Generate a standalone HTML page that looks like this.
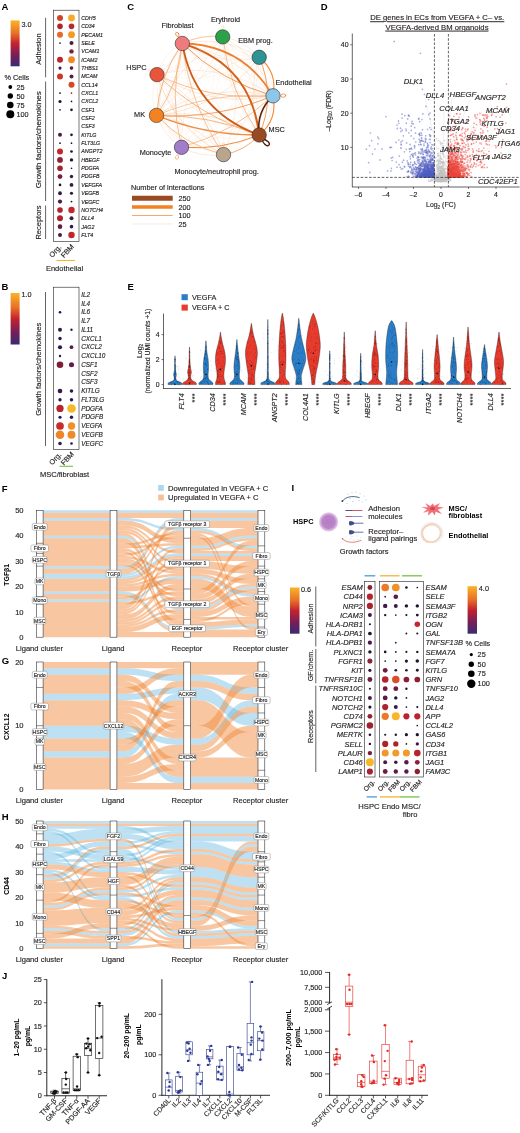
<!DOCTYPE html>
<html lang="en">
<head>
<meta charset="utf-8">
<title>Figure: VEGFA + C bone marrow organoid interactions</title>
<style>
html,body{margin:0;padding:0;background:#ffffff;}
body{width:520px;height:1133px;overflow:hidden;}
svg{display:block;font-family:"Liberation Sans",Arial,Helvetica,sans-serif;}
svg text{white-space:pre;stroke:#231f20;stroke-width:0.16px;stroke-opacity:0.9;}
svg text[font-weight="bold"]{stroke:none;}
</style>
</head>
<body>
<svg width="520" height="1133" viewBox="0 0 520 1133">
<defs>
<linearGradient id="cbar" x1="0" y1="1" x2="0" y2="0">
<stop offset="0.0" stop-color="rgb(58,42,112)"/><stop offset="0.25" stop-color="rgb(120,30,88)"/><stop offset="0.5" stop-color="rgb(196,34,46)"/><stop offset="0.72" stop-color="rgb(232,112,40)"/><stop offset="1.0" stop-color="rgb(249,180,38)"/>
</linearGradient>
</defs>
<rect x="0" y="0" width="520" height="1133" fill="#ffffff"/>
<g id="panelA">
<text x="1.50" y="10.20" font-size="9.5" font-weight="bold" stroke="none" fill="#000">A</text>
<rect x="10.60" y="20.40" width="9.00" height="45.90" fill="url(#cbar)"/>
<text x="21.50" y="27.30" font-size="7.3" fill="#231f20">3.0</text>
<text x="4.50" y="79.50" font-size="7.3" fill="#231f20">% Cells</text>
<circle cx="10.30" cy="87.00" r="1.90" fill="#000"/>
<text x="16.50" y="89.60" font-size="7.3" fill="#231f20">25</text>
<circle cx="10.30" cy="96.00" r="2.70" fill="#000"/>
<text x="16.50" y="98.60" font-size="7.3" fill="#231f20">50</text>
<circle cx="10.30" cy="105.00" r="3.30" fill="#000"/>
<text x="16.50" y="107.60" font-size="7.3" fill="#231f20">75</text>
<circle cx="10.30" cy="114.30" r="4.00" fill="#000"/>
<text x="16.50" y="116.90" font-size="7.3" fill="#231f20">100</text>
<rect x="53.60" y="10.20" width="25.40" height="231.30" fill="#fff" stroke="#231f20" stroke-width="0.6"/>
<circle cx="60.00" cy="18.00" r="3.00" fill="#d24129"/>
<circle cx="71.50" cy="18.00" r="3.40" fill="#f6ab28"/>
<text x="81.20" y="19.90" font-size="5.3" font-style="italic" fill="#231f20">CDH5</text>
<circle cx="60.00" cy="26.35" r="2.80" fill="#b2242d"/>
<circle cx="71.50" cy="26.35" r="2.80" fill="#bb252d"/>
<text x="81.20" y="28.25" font-size="5.3" font-style="italic" fill="#231f20">CD34</text>
<circle cx="60.00" cy="34.69" r="3.00" fill="#e56928"/>
<circle cx="71.50" cy="34.69" r="3.40" fill="#f29b28"/>
<text x="81.20" y="36.59" font-size="5.3" font-style="italic" fill="#231f20">PECAM1</text>
<circle cx="60.00" cy="43.04" r="0.85" fill="#1a1530"/>
<circle cx="71.50" cy="43.04" r="2.00" fill="#4d1948"/>
<text x="81.20" y="44.94" font-size="5.3" font-style="italic" fill="#231f20">SELE</text>
<circle cx="71.50" cy="51.38" r="2.20" fill="#7c1e3a"/>
<text x="81.20" y="53.28" font-size="5.3" font-style="italic" fill="#231f20">VCAM1</text>
<circle cx="60.00" cy="59.73" r="3.00" fill="#c1262c"/>
<circle cx="71.50" cy="59.73" r="3.40" fill="#ee8b28"/>
<text x="81.20" y="61.63" font-size="5.3" font-style="italic" fill="#231f20">ICAM2</text>
<circle cx="60.00" cy="68.08" r="1.56" fill="#391848"/>
<circle cx="71.50" cy="68.08" r="1.80" fill="#5c1a48"/>
<text x="81.20" y="69.98" font-size="5.3" font-style="italic" fill="#231f20">THBS1</text>
<circle cx="60.00" cy="76.42" r="3.00" fill="#cd372a"/>
<circle cx="71.50" cy="76.42" r="2.00" fill="#5c1a48"/>
<text x="81.20" y="78.32" font-size="5.3" font-style="italic" fill="#231f20">MCAM</text>
<circle cx="71.50" cy="84.77" r="3.00" fill="#d64828"/>
<text x="81.20" y="86.67" font-size="5.3" font-style="italic" fill="#231f20">CCL14</text>
<circle cx="60.00" cy="93.11" r="0.96" fill="#1a1530"/>
<circle cx="71.50" cy="93.11" r="0.85" fill="#8a2034"/>
<text x="81.20" y="95.01" font-size="5.3" font-style="italic" fill="#231f20">CXCL1</text>
<circle cx="60.00" cy="101.46" r="1.56" fill="#1a1530"/>
<circle cx="71.50" cy="101.46" r="0.85" fill="#1a1530"/>
<text x="81.20" y="103.36" font-size="5.3" font-style="italic" fill="#231f20">CXCL2</text>
<circle cx="60.00" cy="109.81" r="0.85" fill="#1a1530"/>
<circle cx="71.50" cy="109.81" r="1.32" fill="#1a1530"/>
<text x="81.20" y="111.71" font-size="5.3" font-style="italic" fill="#231f20">CSF1</text>
<text x="81.20" y="120.05" font-size="5.3" font-style="italic" fill="#231f20">CSF2</text>
<text x="81.20" y="128.40" font-size="5.3" font-style="italic" fill="#231f20">CSF3</text>
<circle cx="60.00" cy="134.84" r="2.00" fill="#521a48"/>
<circle cx="71.50" cy="134.84" r="1.32" fill="#1a1530"/>
<text x="81.20" y="136.74" font-size="5.3" font-style="italic" fill="#231f20">KITLG</text>
<circle cx="60.00" cy="143.19" r="0.85" fill="#1a1530"/>
<circle cx="71.50" cy="143.19" r="0.85" fill="#1a1530"/>
<text x="81.20" y="145.09" font-size="5.3" font-style="italic" fill="#231f20">FLT3LG</text>
<circle cx="60.00" cy="151.54" r="3.00" fill="#c4262c"/>
<circle cx="71.50" cy="151.54" r="1.32" fill="#1a1530"/>
<text x="81.20" y="153.44" font-size="5.3" font-style="italic" fill="#231f20">ANGPT2</text>
<circle cx="60.00" cy="159.88" r="2.90" fill="#922132"/>
<circle cx="71.50" cy="159.88" r="1.68" fill="#1a1530"/>
<text x="81.20" y="161.78" font-size="5.3" font-style="italic" fill="#231f20">HBEGF</text>
<circle cx="60.00" cy="168.23" r="2.80" fill="#a6222e"/>
<circle cx="71.50" cy="168.23" r="0.85" fill="#1a1530"/>
<text x="81.20" y="170.13" font-size="5.3" font-style="italic" fill="#231f20">PDGFA</text>
<circle cx="60.00" cy="176.57" r="2.40" fill="#7c1e3a"/>
<circle cx="71.50" cy="176.57" r="1.70" fill="#391848"/>
<text x="81.20" y="178.47" font-size="5.3" font-style="italic" fill="#231f20">PDGFB</text>
<circle cx="60.00" cy="184.92" r="1.32" fill="#1a1530"/>
<circle cx="71.50" cy="184.92" r="1.90" fill="#391848"/>
<text x="81.20" y="186.82" font-size="5.3" font-style="italic" fill="#231f20">VEFGFA</text>
<circle cx="60.00" cy="193.27" r="1.90" fill="#391848"/>
<circle cx="71.50" cy="193.27" r="1.56" fill="#25163a"/>
<text x="81.20" y="195.17" font-size="5.3" font-style="italic" fill="#231f20">VEGFB</text>
<circle cx="60.00" cy="201.61" r="2.10" fill="#521a48"/>
<circle cx="71.50" cy="201.61" r="0.96" fill="#1a1530"/>
<text x="81.20" y="203.51" font-size="5.3" font-style="italic" fill="#231f20">VEGFC</text>
<circle cx="60.00" cy="209.96" r="2.80" fill="#b2242d"/>
<circle cx="71.50" cy="209.96" r="3.20" fill="#c4262c"/>
<text x="81.20" y="211.86" font-size="5.3" font-style="italic" fill="#231f20">NOTCH4</text>
<circle cx="60.00" cy="218.30" r="3.00" fill="#af232d"/>
<circle cx="71.50" cy="218.30" r="2.00" fill="#431948"/>
<text x="81.20" y="220.20" font-size="5.3" font-style="italic" fill="#231f20">DLL4</text>
<circle cx="60.00" cy="226.65" r="2.30" fill="#651b44"/>
<circle cx="71.50" cy="226.65" r="1.80" fill="#341848"/>
<text x="81.20" y="228.55" font-size="5.3" font-style="italic" fill="#231f20">JAG2</text>
<circle cx="60.00" cy="235.00" r="2.00" fill="#4d1948"/>
<circle cx="71.50" cy="235.00" r="3.20" fill="#c1262c"/>
<text x="81.20" y="236.90" font-size="5.3" font-style="italic" fill="#231f20">FLT4</text>
<line x1="45.60" y1="17.80" x2="45.60" y2="77.30" stroke="#231f20" stroke-width="0.7"/>
<line x1="45.60" y1="81.50" x2="45.60" y2="201.00" stroke="#231f20" stroke-width="0.7"/>
<line x1="45.60" y1="205.50" x2="45.60" y2="239.00" stroke="#231f20" stroke-width="0.7"/>
<text x="41.30" y="49.00" font-size="7.6" text-anchor="middle" fill="#231f20" transform="rotate(-90 41.30 49.00)">Adhesion</text>
<text x="41.30" y="139.80" font-size="8.0" text-anchor="middle" fill="#231f20" transform="rotate(-90 41.30 139.80)">Growth factors/chemokines</text>
<text x="41.30" y="222.50" font-size="7.5" text-anchor="middle" fill="#231f20" transform="rotate(-90 41.30 222.50)">Receptors</text>
<text x="62.00" y="247.50" font-size="7.3" text-anchor="end" fill="#231f20" transform="rotate(-47 62.00 247.50)">Org.</text>
<text x="74.50" y="247.00" font-size="7.3" text-anchor="end" fill="#231f20" transform="rotate(-47 74.50 247.00)">FBM</text>
<line x1="56.50" y1="260.50" x2="75.00" y2="260.50" stroke="#f5b335" stroke-width="1.1"/>
<text x="64.50" y="270.60" font-size="7.5" text-anchor="middle" fill="#231f20">Endothelial</text>
</g>
<g id="panelB">
<text x="1.50" y="289.70" font-size="9.5" font-weight="bold" stroke="none" fill="#000">B</text>
<rect x="10.60" y="293.00" width="9.00" height="51.50" fill="url(#cbar)"/>
<text x="21.50" y="297.00" font-size="7.3" fill="#231f20">1.0</text>
<rect x="53.60" y="287.20" width="25.40" height="162.20" fill="#fff" stroke="#231f20" stroke-width="0.6"/>
<text x="81.20" y="296.90" font-size="6.4" font-style="italic" fill="#231f20">IL2</text>
<text x="81.20" y="305.65" font-size="6.4" font-style="italic" fill="#231f20">IL4</text>
<circle cx="60.00" cy="312.21" r="1.32" fill="#241a52"/>
<text x="81.20" y="314.41" font-size="6.4" font-style="italic" fill="#231f20">IL6</text>
<text x="81.20" y="323.16" font-size="6.4" font-style="italic" fill="#231f20">IL7</text>
<circle cx="60.00" cy="329.71" r="1.98" fill="#301844"/>
<circle cx="71.50" cy="329.71" r="1.19" fill="#241a52"/>
<text x="81.20" y="331.91" font-size="6.4" font-style="italic" fill="#231f20">IL11</text>
<circle cx="60.00" cy="338.46" r="1.72" fill="#241a52"/>
<text x="81.20" y="340.66" font-size="6.4" font-style="italic" fill="#231f20">CXCL1</text>
<circle cx="60.00" cy="347.22" r="2.09" fill="#341848"/>
<circle cx="71.50" cy="347.22" r="1.87" fill="#5c1a48"/>
<text x="81.20" y="349.42" font-size="6.4" font-style="italic" fill="#231f20">CXCL2</text>
<circle cx="60.00" cy="355.97" r="1.19" fill="#241a52"/>
<text x="81.20" y="358.17" font-size="6.4" font-style="italic" fill="#231f20">CXCL10</text>
<circle cx="60.00" cy="364.72" r="3.30" fill="#7c1e3a"/>
<circle cx="71.50" cy="364.72" r="2.53" fill="#651b44"/>
<text x="81.20" y="366.92" font-size="6.4" font-style="italic" fill="#231f20">CSF1</text>
<text x="81.20" y="375.68" font-size="6.4" font-style="italic" fill="#231f20">CSF2</text>
<text x="81.20" y="384.43" font-size="6.4" font-style="italic" fill="#231f20">CSF3</text>
<circle cx="60.00" cy="390.98" r="2.31" fill="#391848"/>
<circle cx="71.50" cy="390.98" r="1.76" fill="#241a52"/>
<text x="81.20" y="393.18" font-size="6.4" font-style="italic" fill="#231f20">KITLG</text>
<circle cx="60.00" cy="399.74" r="1.65" fill="#241a52"/>
<circle cx="71.50" cy="399.74" r="1.72" fill="#241a52"/>
<text x="81.20" y="401.94" font-size="6.4" font-style="italic" fill="#231f20">FLT3LG</text>
<circle cx="60.00" cy="408.49" r="3.63" fill="#b8242d"/>
<circle cx="71.50" cy="408.49" r="4.29" fill="#f9b628"/>
<text x="81.20" y="410.69" font-size="6.4" font-style="italic" fill="#231f20">PDGFA</text>
<circle cx="60.00" cy="417.24" r="1.58" fill="#241a52"/>
<circle cx="71.50" cy="417.24" r="1.72" fill="#241a52"/>
<text x="81.20" y="419.44" font-size="6.4" font-style="italic" fill="#231f20">PDGFB</text>
<circle cx="60.00" cy="426.00" r="3.85" fill="#c82d2b"/>
<circle cx="71.50" cy="426.00" r="3.63" fill="#f09128"/>
<text x="81.20" y="428.19" font-size="6.4" font-style="italic" fill="#231f20">VEGFA</text>
<circle cx="60.00" cy="434.75" r="4.29" fill="#ed8628"/>
<circle cx="71.50" cy="434.75" r="3.96" fill="#ee8b28"/>
<text x="81.20" y="436.95" font-size="6.4" font-style="italic" fill="#231f20">VEGFB</text>
<circle cx="60.00" cy="443.50" r="1.76" fill="#241a52"/>
<circle cx="71.50" cy="443.50" r="1.32" fill="#241a52"/>
<text x="81.20" y="445.70" font-size="6.4" font-style="italic" fill="#231f20">VEGFC</text>
<line x1="45.50" y1="292.00" x2="45.50" y2="446.00" stroke="#231f20" stroke-width="0.7"/>
<text x="41.30" y="369.30" font-size="7.7" text-anchor="middle" fill="#231f20" transform="rotate(-90 41.30 369.30)">Growth factors/chemokines</text>
<text x="62.00" y="455.00" font-size="7.3" text-anchor="end" fill="#231f20" transform="rotate(-47 62.00 455.00)">Org.</text>
<text x="74.50" y="454.50" font-size="7.3" text-anchor="end" fill="#231f20" transform="rotate(-47 74.50 454.50)">FBM</text>
<line x1="59.50" y1="466.30" x2="73.00" y2="466.30" stroke="#7ac143" stroke-width="1.1"/>
<text x="64.60" y="477.00" font-size="7.5" text-anchor="middle" fill="#231f20">MSC/fibroblast</text>
</g>
<g id="panelC">
<text x="127.30" y="10.20" font-size="9.5" font-weight="bold" stroke="none" fill="#000">C</text>
<g fill="none" stroke-linecap="round">
<path d="M182.3 43.5Q203.7 47.4 222.7 36.9" stroke="#fdeee3" stroke-width="0.3"/>
<path d="M182.3 43.5Q218.0 65.7 259.2 57.3" stroke="#f6c096" stroke-width="0.25"/>
<path d="M182.3 43.5Q219.0 84.7 273.0 95.8" stroke="#fce6d5" stroke-width="0.5"/>
<path d="M182.3 43.5Q201.1 105.8 259.2 135.0" stroke="#fce6d5" stroke-width="0.3"/>
<path d="M182.3 43.5Q184.6 105.9 223.5 154.6" stroke="#fce6d5" stroke-width="0.4"/>
<path d="M182.3 43.5Q163.8 95.3 181.5 147.3" stroke="#fdeee3" stroke-width="0.5"/>
<path d="M182.3 43.5Q157.6 75.2 156.5 115.4" stroke="#fce6d5" stroke-width="0.5"/>
<path d="M182.3 43.5Q162.9 53.6 157.0 74.6" stroke="#fce6d5" stroke-width="0.5"/>
<path d="M222.7 36.9Q201.2 32.3 182.3 43.5" stroke="#fce6d5" stroke-width="0.4"/>
<path d="M222.7 36.9Q236.5 55.1 259.2 57.3" stroke="#f6c096" stroke-width="0.25"/>
<path d="M222.7 36.9Q235.4 77.0 273.0 95.8" stroke="#fdeee3" stroke-width="0.35"/>
<path d="M222.7 36.9Q224.4 92.1 259.2 135.0" stroke="#f6c096" stroke-width="0.25"/>
<path d="M222.7 36.9Q202.1 95.9 223.5 154.6" stroke="#fce6d5" stroke-width="0.3"/>
<path d="M222.7 36.9Q180.6 84.1 181.5 147.3" stroke="#f8cfae" stroke-width="0.3"/>
<path d="M222.7 36.9Q176.6 65.2 156.5 115.4" stroke="#f6c096" stroke-width="0.25"/>
<path d="M222.7 36.9Q183.7 45.0 157.0 74.6" stroke="#fdeee3" stroke-width="0.3"/>
<path d="M259.2 57.3Q223.5 35.0 182.3 43.5" stroke="#f8cfae" stroke-width="0.4"/>
<path d="M259.2 57.3Q244.8 40.2 222.7 36.9" stroke="#f8cfae" stroke-width="0.4"/>
<path d="M259.2 57.3Q259.2 79.0 273.0 95.8" stroke="#fad9bf" stroke-width="0.3"/>
<path d="M259.2 57.3Q246.4 96.2 259.2 135.0" stroke="#f6c096" stroke-width="0.35"/>
<path d="M259.2 57.3Q222.9 99.2 223.5 154.6" stroke="#fdeee3" stroke-width="0.35"/>
<path d="M259.2 57.3Q204.4 88.5 181.5 147.3" stroke="#fce6d5" stroke-width="0.25"/>
<path d="M259.2 57.3Q196.8 66.8 156.5 115.4" stroke="#f8cfae" stroke-width="0.3"/>
<path d="M259.2 57.3Q205.2 48.7 157.0 74.6" stroke="#fdeee3" stroke-width="0.4"/>
<path d="M273.0 95.8Q236.1 54.9 182.3 43.5" stroke="#f6c096" stroke-width="0.25"/>
<path d="M273.0 95.8Q259.3 56.6 222.7 36.9" stroke="#f8cfae" stroke-width="0.35"/>
<path d="M273.0 95.8Q273.9 73.8 259.2 57.3" stroke="#fdeee3" stroke-width="0.5"/>
<path d="M273.0 95.8Q258.5 112.7 259.2 135.0" stroke="#fce6d5" stroke-width="0.4"/>
<path d="M273.0 95.8Q235.9 114.8 223.5 154.6" stroke="#fdeee3" stroke-width="0.35"/>
<path d="M273.0 95.8Q216.9 103.1 181.5 147.3" stroke="#fce6d5" stroke-width="0.25"/>
<path d="M273.0 95.8Q210.8 81.8 156.5 115.4" stroke="#f6c096" stroke-width="0.35"/>
<path d="M273.0 95.8Q219.7 59.7 157.0 74.6" stroke="#f8cfae" stroke-width="0.4"/>
<path d="M259.2 135.0Q239.3 73.6 182.3 43.5" stroke="#fce6d5" stroke-width="0.35"/>
<path d="M259.2 135.0Q262.2 78.0 222.7 36.9" stroke="#fad9bf" stroke-width="0.35"/>
<path d="M259.2 135.0Q274.5 96.2 259.2 57.3" stroke="#fce6d5" stroke-width="0.4"/>
<path d="M259.2 135.0Q272.9 117.8 273.0 95.8" stroke="#fad9bf" stroke-width="0.35"/>
<path d="M259.2 135.0Q237.3 137.5 223.5 154.6" stroke="#fdeee3" stroke-width="0.4"/>
<path d="M259.2 135.0Q217.7 124.4 181.5 147.3" stroke="#fce6d5" stroke-width="0.4"/>
<path d="M259.2 135.0Q211.2 107.7 156.5 115.4" stroke="#f6c096" stroke-width="0.4"/>
<path d="M259.2 135.0Q218.8 86.7 157.0 74.6" stroke="#fdeee3" stroke-width="0.3"/>
<path d="M223.5 154.6Q226.4 90.3 182.3 43.5" stroke="#fdeee3" stroke-width="0.35"/>
<path d="M223.5 154.6Q248.9 95.6 222.7 36.9" stroke="#fad9bf" stroke-width="0.4"/>
<path d="M223.5 154.6Q257.8 112.0 259.2 57.3" stroke="#fad9bf" stroke-width="0.3"/>
<path d="M223.5 154.6Q258.5 133.8 273.0 95.8" stroke="#fce6d5" stroke-width="0.3"/>
<path d="M223.5 154.6Q245.1 151.6 259.2 135.0" stroke="#fad9bf" stroke-width="0.5"/>
<path d="M223.5 154.6Q203.8 143.6 181.5 147.3" stroke="#fad9bf" stroke-width="0.25"/>
<path d="M223.5 154.6Q197.3 122.6 156.5 115.4" stroke="#f6c096" stroke-width="0.35"/>
<path d="M223.5 154.6Q205.8 101.7 157.0 74.6" stroke="#f6c096" stroke-width="0.3"/>
<path d="M181.5 147.3Q204.4 95.6 182.3 43.5" stroke="#fdeee3" stroke-width="0.25"/>
<path d="M181.5 147.3Q225.7 100.9 222.7 36.9" stroke="#fdeee3" stroke-width="0.5"/>
<path d="M181.5 147.3Q236.9 116.6 259.2 57.3" stroke="#fce6d5" stroke-width="0.4"/>
<path d="M181.5 147.3Q237.0 138.8 273.0 95.8" stroke="#fce6d5" stroke-width="0.4"/>
<path d="M181.5 147.3Q222.5 154.5 259.2 135.0" stroke="#fdeee3" stroke-width="0.3"/>
<path d="M181.5 147.3Q201.3 158.1 223.5 154.6" stroke="#f6c096" stroke-width="0.35"/>
<path d="M181.5 147.3Q174.2 127.3 156.5 115.4" stroke="#f6c096" stroke-width="0.25"/>
<path d="M181.5 147.3Q181.5 106.8 157.0 74.6" stroke="#f8cfae" stroke-width="0.25"/>
<path d="M156.5 115.4Q183.6 84.5 182.3 43.5" stroke="#fad9bf" stroke-width="0.25"/>
<path d="M156.5 115.4Q205.1 89.2 222.7 36.9" stroke="#f8cfae" stroke-width="0.3"/>
<path d="M156.5 115.4Q220.5 108.7 259.2 57.3" stroke="#f8cfae" stroke-width="0.5"/>
<path d="M156.5 115.4Q218.4 127.6 273.0 95.8" stroke="#fdeee3" stroke-width="0.25"/>
<path d="M156.5 115.4Q203.5 147.8 259.2 135.0" stroke="#fdeee3" stroke-width="0.4"/>
<path d="M156.5 115.4Q182.6 147.7 223.5 154.6" stroke="#fad9bf" stroke-width="0.25"/>
<path d="M156.5 115.4Q163.7 135.5 181.5 147.3" stroke="#f8cfae" stroke-width="0.35"/>
<path d="M156.5 115.4Q164.4 95.1 157.0 74.6" stroke="#f6c096" stroke-width="0.3"/>
<path d="M157.0 74.6Q174.7 63.1 182.3 43.5" stroke="#f8cfae" stroke-width="0.5"/>
<path d="M157.0 74.6Q196.2 66.8 222.7 36.9" stroke="#fce6d5" stroke-width="0.5"/>
<path d="M157.0 74.6Q211.7 87.0 259.2 57.3" stroke="#fce6d5" stroke-width="0.35"/>
<path d="M157.0 74.6Q210.7 108.6 273.0 95.8" stroke="#f6c096" stroke-width="0.35"/>
<path d="M157.0 74.6Q197.1 123.4 259.2 135.0" stroke="#f8cfae" stroke-width="0.3"/>
<path d="M157.0 74.6Q173.7 128.3 223.5 154.6" stroke="#f6c096" stroke-width="0.5"/>
<path d="M157.0 74.6Q154.2 116.0 181.5 147.3" stroke="#fad9bf" stroke-width="0.35"/>
<path d="M157.0 74.6Q148.7 94.9 156.5 115.4" stroke="#fad9bf" stroke-width="0.3"/>
<ellipse cx="177.3" cy="34.4" rx="1.5" ry="2.3" transform="rotate(-30 177.3 34.4)" stroke="#ee8233" stroke-width="0.8"/>
<ellipse cx="283.3" cy="95.6" rx="2.4" ry="1.7" transform="rotate(0 283.3 95.6)" stroke="#ee8233" stroke-width="0.8"/>
<ellipse cx="177.0" cy="157.2" rx="1.5" ry="2.2" transform="rotate(25 177.0 157.2)" stroke="#f29c59" stroke-width="0.6"/>
<ellipse cx="223.5" cy="144.8" rx="1.3" ry="1.8" transform="rotate(0 223.5 144.8)" stroke="#f6c096" stroke-width="0.5"/>
<ellipse cx="222.5" cy="27.0" rx="1.3" ry="1.6" transform="rotate(0 222.5 27.0)" stroke="#f8cfae" stroke-width="0.4"/>
<ellipse cx="147.5" cy="70.0" rx="1.6" ry="1.2" transform="rotate(0 147.5 70.0)" stroke="#f8cfae" stroke-width="0.4"/>
<path d="M156.5 115.4Q205.9 135.5 259.2 135.0" stroke="#f08a3c" stroke-width="1.3"/>
<path d="M259.2 135.0Q209.8 114.9 156.5 115.4" stroke="#f4a565" stroke-width="0.8"/>
<path d="M181.5 147.3Q221.8 150.5 259.2 135.0" stroke="#f08a3c" stroke-width="1.0"/>
<path d="M223.5 154.6Q244.9 151.2 259.2 135.0" stroke="#f4a565" stroke-width="0.8"/>
<path d="M182.3 43.5Q159.3 75.8 156.5 115.4" stroke="#f4a565" stroke-width="0.8"/>
<path d="M156.5 115.4Q179.5 83.1 182.3 43.5" stroke="#f4a565" stroke-width="0.7"/>
<path d="M182.3 43.5Q168.4 95.3 181.5 147.3" stroke="#f4a565" stroke-width="0.7"/>
<path d="M157.0 74.6Q200.9 117.1 259.2 135.0" stroke="#f4a565" stroke-width="0.8"/>
<path d="M157.0 74.6Q212.0 101.4 273.0 95.8" stroke="#f4a565" stroke-width="0.7"/>
<path d="M156.5 115.4Q217.1 119.6 273.0 95.8" stroke="#f19650" stroke-width="0.9"/>
<path d="M273.0 95.8Q212.4 91.6 156.5 115.4" stroke="#f4a565" stroke-width="0.6"/>
<path d="M182.3 43.5Q189.6 104.0 223.5 154.6" stroke="#f4a565" stroke-width="0.7"/>
<path d="M181.5 147.3Q233.4 132.5 273.0 95.8" stroke="#f4a565" stroke-width="0.7"/>
<path d="M259.2 57.3Q276.3 96.2 259.2 135.0" stroke="#f19650" stroke-width="0.9"/>
<path d="M259.2 57.3Q277.7 72.4 273.0 95.8" stroke="#ef8a3a" stroke-width="1.1"/>
<path d="M222.7 36.9Q229.2 90.3 259.2 135.0" stroke="#f4a565" stroke-width="0.7"/>
<path d="M182.3 43.5Q201.5 34.1 222.7 36.9" stroke="#f4a565" stroke-width="0.6"/>
<path d="M156.5 115.4Q184.1 145.1 223.5 154.6" stroke="#f4a565" stroke-width="0.7"/>
<path d="M182.3 43.5Q242.3 44.3 273.0 95.8" stroke="#ee8233" stroke-width="1.8"/>
<path d="M273.0 95.8Q220.9 81.4 182.3 43.5" stroke="#f29c59" stroke-width="1.0"/>
<path d="M182.3 43.5Q250.9 63.9 259.2 135.0" stroke="#d4621c" stroke-width="2.0"/>
<path d="M182.3 43.5Q194.2 111.6 259.2 135.0" stroke="#cd5a16" stroke-width="1.7"/>
<path d="M273.0 95.8Q255.9 111.8 259.2 135.0" stroke="#5a2410" stroke-width="1.6"/>
<path d="M259.2 135.0Q277.9 119.5 273.0 95.8" stroke="#f08a3c" stroke-width="1.1"/>
<path d="M262.0 139.0C266.5 139.5 271.0 143.0 268.8 145.2C266.6 147.2 262.6 143.0 262.0 139.0Z" stroke="#4a1c0c" stroke-width="1.4"/>
</g>
<circle cx="182.30" cy="43.50" r="7.20" fill="#ee7b7d" stroke="#231f20" stroke-width="0.55"/>
<circle cx="222.70" cy="36.90" r="7.20" fill="#2ba149" stroke="#231f20" stroke-width="0.55"/>
<circle cx="259.20" cy="57.30" r="7.20" fill="#2f9295" stroke="#231f20" stroke-width="0.55"/>
<circle cx="273.00" cy="95.80" r="7.20" fill="#8ec6ea" stroke="#231f20" stroke-width="0.55"/>
<circle cx="259.20" cy="135.00" r="7.20" fill="#9a4a22" stroke="#231f20" stroke-width="0.55"/>
<circle cx="223.50" cy="154.60" r="7.20" fill="#b9a58b" stroke="#231f20" stroke-width="0.55"/>
<circle cx="181.50" cy="147.30" r="7.20" fill="#a17dc9" stroke="#231f20" stroke-width="0.55"/>
<circle cx="156.50" cy="115.40" r="7.20" fill="#f58220" stroke="#231f20" stroke-width="0.55"/>
<circle cx="157.00" cy="74.60" r="7.20" fill="#e8553a" stroke="#231f20" stroke-width="0.55"/>
<text x="177.50" y="28.20" font-size="7.3" text-anchor="middle" fill="#231f20">Fibroblast</text>
<text x="225.50" y="22.00" font-size="7.3" text-anchor="middle" fill="#231f20">Erythroid</text>
<text x="238.20" y="42.70" font-size="7.3" fill="#231f20">EBM prog.</text>
<text x="275.50" y="84.50" font-size="7.3" fill="#231f20">Endothelial</text>
<text x="268.60" y="132.40" font-size="7.3" fill="#231f20">MSC</text>
<text x="216.60" y="174.00" font-size="7.3" text-anchor="middle" fill="#231f20">Monocyte/neutrophil prog.</text>
<text x="171.30" y="155.20" font-size="7.3" text-anchor="end" fill="#231f20">Monocyte</text>
<text x="145.00" y="116.50" font-size="7.3" text-anchor="end" fill="#231f20">MK</text>
<text x="146.50" y="70.20" font-size="7.3" text-anchor="end" fill="#231f20">HSPC</text>
<text x="131.00" y="189.80" font-size="7.3" fill="#231f20">Number of interactions</text>
<line x1="132.00" y1="198.20" x2="172.70" y2="198.20" stroke="#9a4a22" stroke-width="5.0"/>
<line x1="132.00" y1="207.00" x2="172.70" y2="207.00" stroke="#f58220" stroke-width="3.4"/>
<line x1="132.00" y1="215.50" x2="172.70" y2="215.50" stroke="#f5a869" stroke-width="1.0"/>
<line x1="132.00" y1="224.00" x2="172.70" y2="224.00" stroke="#f3d9c6" stroke-width="0.6"/>
<text x="178.50" y="200.80" font-size="7.3" fill="#231f20">250</text>
<text x="178.50" y="209.60" font-size="7.3" fill="#231f20">200</text>
<text x="178.50" y="218.10" font-size="7.3" fill="#231f20">100</text>
<text x="178.50" y="226.60" font-size="7.3" fill="#231f20">25</text>
</g>
<g id="panelD">
<text x="320.80" y="10.40" font-size="9.5" font-weight="bold" stroke="none" fill="#000">D</text>
<text x="437.20" y="20.30" font-size="7.7" text-anchor="middle" fill="#231f20" text-decoration="underline">DE genes in ECs from VEGFA + C– vs.</text>
<text x="437.00" y="29.70" font-size="7.7" text-anchor="middle" fill="#231f20" text-decoration="underline">VEGFA-derived BM organoids</text>
<path d="M437.6 160.4h0M440.8 175.7h0M445.2 171.9h0M441.3 175.4h0M442.9 176.5h0M436.9 176.6h0M440.2 178.8h0M438.2 177.6h0M443.6 149.3h0M442.7 179.0h0M442.5 180.7h0M439.4 176.7h0M443.1 179.6h0M440.1 163.9h0M447.7 179.6h0M438.6 181.0h0M438.9 155.4h0M438.5 180.2h0M440.6 179.8h0M438.5 180.7h0M440.8 174.2h0M444.9 179.5h0M442.6 181.5h0M441.3 177.8h0M445.0 172.0h0M441.6 161.8h0M436.6 178.4h0M440.7 168.7h0M444.4 164.8h0M439.1 174.4h0M442.9 164.2h0M436.1 180.9h0M441.7 179.5h0M441.0 178.7h0M442.6 172.7h0M441.9 168.1h0M439.1 178.5h0M439.4 178.9h0M441.7 177.2h0M444.0 181.0h0M440.4 174.7h0M440.4 167.1h0M441.7 176.7h0M440.3 176.3h0M441.2 180.0h0M437.5 177.5h0M440.3 171.1h0M438.4 164.2h0M439.9 179.7h0M442.3 149.3h0M439.9 161.8h0M436.5 176.1h0M440.1 180.0h0M436.6 166.6h0M439.9 180.9h0M438.8 166.4h0M443.5 162.7h0M439.3 175.3h0M440.6 175.6h0M440.6 175.2h0M439.3 176.3h0M438.6 179.9h0M440.3 181.4h0M438.6 180.7h0M443.3 179.8h0M439.4 179.7h0M438.4 173.8h0M443.0 178.5h0M441.3 179.1h0M438.5 180.5h0M438.5 153.3h0M440.8 172.1h0M437.9 174.7h0M442.7 143.5h0M436.5 178.4h0M440.7 181.5h0M440.8 179.8h0M441.0 168.3h0M438.4 148.3h0M447.0 169.2h0M439.4 169.7h0M440.0 176.4h0M441.7 172.6h0M438.0 177.5h0M441.6 173.8h0M443.8 179.8h0M437.9 153.6h0M440.9 180.9h0M442.7 180.1h0M440.4 177.1h0M439.0 178.9h0M441.4 181.2h0M441.0 144.8h0M443.7 176.3h0M440.5 150.0h0M440.2 176.6h0M437.2 176.6h0M439.6 175.4h0M445.4 169.0h0M442.7 174.8h0M441.1 161.3h0M440.1 175.2h0M443.1 173.4h0M440.8 181.0h0M437.4 179.6h0M436.3 178.4h0M434.8 177.8h0M438.1 172.1h0M439.9 172.7h0M440.7 178.0h0M442.0 174.7h0M441.8 178.5h0M438.7 177.9h0M442.2 168.5h0M438.0 169.9h0M437.6 153.7h0M440.1 168.9h0M444.4 180.3h0M439.3 169.7h0M445.0 176.0h0M436.8 177.3h0M443.9 155.6h0M440.4 177.1h0M439.8 179.7h0M444.0 169.3h0M442.2 161.9h0M441.4 174.2h0M443.1 170.0h0M440.6 161.4h0M439.0 179.6h0M437.7 179.0h0M439.3 176.3h0M441.9 178.4h0M438.6 140.7h0M446.1 166.2h0M442.1 180.8h0M442.5 168.8h0M440.4 179.7h0M440.1 181.0h0M441.9 172.1h0M442.9 181.5h0M439.0 176.6h0M439.5 175.2h0M440.9 170.8h0M439.8 178.3h0M439.1 180.0h0M437.9 179.5h0M443.5 175.7h0M435.9 178.3h0M445.8 172.7h0M441.3 173.0h0M442.7 180.2h0M439.0 175.9h0M439.9 179.8h0M439.7 179.3h0M439.0 180.5h0M445.5 174.8h0M442.5 180.5h0M446.7 174.6h0M442.7 146.0h0M439.0 170.6h0M442.0 180.3h0M440.3 179.1h0M440.3 155.3h0M441.5 172.0h0M443.8 177.3h0M438.6 175.5h0M440.1 170.8h0M438.7 181.0h0M445.0 175.5h0M443.6 181.0h0M432.2 180.6h0M436.2 178.1h0M441.2 180.2h0M434.8 180.0h0M438.7 177.4h0M441.6 177.5h0M437.7 177.7h0M448.4 177.7h0M450.0 178.4h0M428.8 181.2h0M442.7 178.6h0M446.8 179.0h0M439.7 181.2h0M443.5 181.4h0M444.8 178.2h0M447.8 177.6h0M431.5 179.4h0M438.3 178.7h0M438.3 177.4h0M437.8 180.6h0M441.6 180.6h0M441.0 178.4h0M447.4 179.7h0M450.8 177.6h0M443.9 181.4h0M436.4 179.0h0M445.5 177.9h0M443.1 180.6h0M444.1 179.6h0M442.0 181.0h0M444.9 178.3h0M428.6 180.0h0M440.1 179.8h0M445.8 177.7h0M447.6 178.1h0M442.9 180.6h0M446.6 178.6h0M439.1 180.4h0M444.9 177.5h0M445.8 178.2h0M440.4 179.9h0M439.2 179.8h0M441.8 181.5h0M439.8 178.4h0M444.0 178.4h0M439.7 180.6h0M442.2 178.0h0M442.8 178.6h0M438.0 181.2h0M438.0 180.4h0M444.6 178.6h0M445.2 178.5h0M439.9 180.0h0M435.7 180.2h0M441.7 179.1h0M430.8 180.0h0M437.7 178.8h0" fill="none" stroke="#bdbdbd" stroke-opacity="0.6" stroke-width="1.7" stroke-linecap="round"/>
<path d="M442.0 176.5h0M437.7 180.8h0M443.7 181.2h0M441.4 181.1h0M436.1 175.6h0M441.0 178.9h0M442.8 181.0h0M446.1 181.6h0M439.3 177.4h0M443.1 154.3h0M442.4 181.1h0M442.6 180.4h0M442.9 179.0h0M441.7 165.8h0M445.9 179.1h0M444.1 179.3h0M443.2 176.2h0M445.3 179.2h0M434.5 157.0h0M447.8 179.4h0M446.1 178.7h0M436.0 173.8h0M440.1 179.0h0M439.7 177.9h0M440.5 174.4h0M438.9 181.4h0M444.1 170.6h0M436.7 161.4h0M436.8 165.3h0M439.1 173.9h0M440.6 170.7h0M442.9 170.2h0M440.0 173.8h0M441.4 172.3h0M435.6 178.4h0M443.8 161.4h0M443.1 166.7h0M434.5 180.1h0M438.7 178.5h0M440.7 181.3h0M439.2 181.4h0M441.2 179.4h0M438.3 168.1h0M439.3 180.0h0M440.6 171.8h0M438.0 168.7h0M443.1 173.5h0M443.5 168.5h0M440.1 173.2h0M446.7 150.5h0M442.6 180.9h0M439.5 181.4h0M438.5 180.4h0M440.5 172.0h0M441.6 178.8h0M438.4 174.9h0M442.4 153.2h0M440.2 175.9h0M437.0 174.8h0M440.1 177.2h0M443.0 167.7h0M441.4 173.7h0M441.7 172.1h0M444.0 170.8h0M438.1 177.7h0M440.7 173.4h0M442.2 170.5h0M439.6 160.6h0M445.4 180.8h0M437.6 181.5h0M435.5 180.6h0M441.4 180.7h0M439.9 180.3h0M442.1 181.1h0M442.1 176.4h0M439.4 180.0h0M438.2 180.1h0M439.5 173.5h0M439.1 168.2h0M442.1 163.0h0M436.6 177.3h0M443.6 173.2h0M447.6 178.2h0M444.9 171.7h0M440.9 170.6h0M440.1 179.2h0M440.0 174.7h0M437.2 181.2h0M443.6 176.0h0M437.3 177.9h0M438.1 171.3h0M443.6 177.5h0M440.1 157.9h0M443.0 175.5h0M438.0 167.7h0M441.3 175.4h0M442.4 179.1h0M447.8 170.7h0M444.8 173.5h0M437.7 170.1h0M441.9 179.0h0M440.1 181.0h0M438.8 179.7h0M435.8 180.6h0M439.1 168.0h0M434.2 175.1h0M445.6 180.9h0M439.8 178.7h0M443.0 171.0h0M442.5 171.0h0M446.7 161.5h0M438.8 177.4h0M439.3 177.5h0M444.3 175.2h0M442.6 181.4h0M440.0 173.0h0M442.0 170.6h0M443.0 170.4h0M436.4 177.5h0M440.2 175.3h0M442.9 165.8h0M436.0 173.2h0M439.6 170.5h0M442.2 177.1h0M443.6 180.0h0M442.3 179.9h0M445.4 179.5h0M439.7 167.7h0M446.7 178.2h0M447.4 168.3h0M440.4 143.6h0M437.6 171.3h0M442.3 179.1h0M440.6 180.3h0M441.0 167.4h0M437.9 156.1h0M439.2 177.2h0M437.8 180.2h0M443.2 178.6h0M443.2 176.5h0M437.5 177.7h0M441.6 179.7h0M440.3 177.5h0M442.8 178.3h0M441.6 180.4h0M437.1 177.4h0M441.8 177.3h0M439.6 173.0h0M440.6 177.4h0M440.5 173.9h0M443.1 175.8h0M437.6 169.7h0M443.7 146.1h0M435.9 157.8h0M437.2 178.3h0M443.3 151.8h0M439.0 161.9h0M437.6 167.3h0M441.9 175.1h0M441.3 158.6h0M438.3 168.2h0M443.9 177.6h0M438.8 173.2h0M439.6 174.1h0M441.2 176.1h0M436.4 176.9h0M435.6 178.4h0M435.2 174.1h0M443.1 175.9h0M442.4 179.4h0M447.1 172.6h0M445.7 178.3h0M445.9 177.4h0M445.6 181.3h0M439.6 181.5h0M447.0 177.3h0M443.9 177.9h0M441.6 177.2h0M443.5 178.4h0M434.5 181.0h0M441.8 178.4h0M444.7 178.1h0M441.6 177.5h0M448.7 177.2h0M437.4 180.5h0M443.3 180.5h0M442.4 179.5h0M449.4 180.8h0M442.4 179.4h0M434.9 180.8h0M432.2 178.1h0M447.3 179.0h0M431.0 180.8h0M441.7 179.6h0M434.7 178.1h0M444.8 180.2h0M449.7 180.8h0M448.1 178.1h0M442.6 179.4h0M440.7 178.3h0M437.4 179.7h0M441.5 179.1h0M444.1 180.1h0M439.9 180.1h0M435.5 179.5h0M442.1 180.8h0M444.2 179.5h0M443.4 179.9h0M436.1 181.5h0M440.1 180.0h0M439.0 178.4h0M450.9 180.2h0M440.8 180.5h0M438.8 179.2h0M436.9 178.6h0M436.5 177.7h0M445.9 181.4h0M445.6 178.6h0M449.2 177.4h0M436.1 181.3h0M446.7 180.9h0M441.2 180.1h0M446.9 179.1h0M446.2 181.4h0M437.8 180.5h0M440.4 180.8h0M431.9 179.0h0" fill="none" stroke="#bdbdbd" stroke-opacity="0.6" stroke-width="1.7" stroke-linecap="round"/>
<path d="M437.3 179.9h0M437.4 178.6h0M440.2 173.8h0M441.8 181.3h0M442.9 173.2h0M440.9 171.5h0M441.3 166.2h0M439.6 179.7h0M444.5 169.2h0M442.3 170.0h0M441.5 174.9h0M445.2 173.1h0M445.9 178.6h0M443.7 173.2h0M441.3 178.7h0M443.0 174.1h0M436.1 179.9h0M438.2 179.9h0M443.8 177.1h0M442.7 171.6h0M443.0 181.0h0M439.0 178.9h0M440.1 180.0h0M440.4 163.4h0M441.5 181.5h0M434.3 173.3h0M442.6 162.7h0M438.5 162.6h0M443.4 174.6h0M444.4 140.5h0M438.3 174.5h0M444.7 176.2h0M437.9 160.8h0M441.5 162.2h0M443.1 172.6h0M443.0 174.4h0M443.4 166.1h0M438.9 179.6h0M438.7 166.6h0M441.6 171.5h0M445.5 180.4h0M441.5 173.5h0M438.1 155.5h0M444.1 171.3h0M443.5 175.6h0M442.0 159.5h0M443.2 161.8h0M443.9 173.0h0M436.0 171.2h0M436.3 178.4h0M439.0 176.8h0M441.4 168.4h0M445.2 180.3h0M444.0 157.1h0M444.3 170.9h0M440.0 166.3h0M446.2 175.5h0M440.5 153.0h0M443.9 176.1h0M447.0 179.0h0M443.1 162.7h0M442.3 169.2h0M442.9 178.4h0M443.4 179.2h0M440.4 177.2h0M438.8 166.0h0M439.4 167.9h0M443.0 163.7h0M442.4 168.8h0M443.4 179.8h0M436.4 175.9h0M442.0 181.3h0M441.7 166.5h0M440.5 156.8h0M438.1 174.1h0M435.9 176.6h0M440.5 163.2h0M435.8 177.3h0M440.7 170.4h0M438.4 164.2h0M440.8 178.2h0M441.2 173.6h0M439.1 175.3h0M441.0 169.8h0M440.9 181.2h0M441.9 162.2h0M444.9 168.0h0M438.3 159.8h0M440.3 157.8h0M440.4 178.8h0M440.9 179.3h0M444.8 162.9h0M446.3 177.0h0M440.7 158.9h0M439.9 173.6h0M441.9 180.5h0M438.5 169.2h0M440.9 179.4h0M439.6 172.1h0M438.9 179.9h0M441.2 177.1h0M444.5 175.0h0M443.2 178.1h0M442.4 169.6h0M442.0 177.8h0M440.8 177.0h0M444.2 180.9h0M441.2 179.6h0M442.1 171.9h0M440.1 171.5h0M437.8 176.9h0M446.4 179.3h0M443.0 177.6h0M442.8 180.0h0M439.5 175.6h0M441.3 175.1h0M441.6 162.8h0M439.8 179.6h0M440.4 178.2h0M440.2 161.4h0M437.4 168.1h0M436.7 168.3h0M441.7 142.9h0M439.1 181.1h0M443.8 174.4h0M441.3 179.6h0M441.9 180.0h0M444.2 176.2h0M434.4 176.2h0M443.1 177.6h0M439.9 181.5h0M444.5 174.0h0M443.3 173.3h0M444.4 169.5h0M442.9 171.3h0M441.4 174.3h0M442.0 167.2h0M440.1 167.0h0M436.7 177.9h0M442.7 153.6h0M440.5 174.8h0M439.3 177.7h0M443.4 172.6h0M444.3 171.0h0M439.9 180.8h0M442.9 180.8h0M442.2 181.0h0M441.5 177.6h0M441.3 171.7h0M443.4 178.2h0M442.7 168.8h0M443.8 178.0h0M444.4 175.6h0M439.7 180.9h0M439.0 159.9h0M444.9 175.2h0M440.2 141.8h0M439.6 179.3h0M439.5 180.9h0M439.7 172.5h0M443.5 181.5h0M439.5 175.6h0M440.0 181.3h0M438.2 173.6h0M436.4 138.7h0M435.5 175.5h0M443.5 181.1h0M441.0 174.2h0M443.1 177.5h0M440.0 179.4h0M437.2 165.1h0M430.1 181.2h0M445.8 181.6h0M449.0 179.8h0M440.1 177.6h0M437.3 180.3h0M438.8 180.0h0M443.3 180.7h0M441.8 180.2h0M436.7 179.6h0M445.6 180.7h0M435.4 177.7h0M445.6 178.6h0M434.7 179.2h0M438.4 178.0h0M439.7 180.8h0M440.9 178.3h0M433.6 180.0h0M434.5 177.8h0M441.6 178.9h0M444.5 178.1h0M439.5 178.9h0M436.1 180.9h0M440.2 181.3h0M438.1 180.5h0M436.1 180.4h0M446.4 180.5h0M446.2 180.0h0M440.7 178.2h0M445.0 177.6h0M443.9 181.3h0M445.2 180.5h0M448.5 181.4h0M439.5 178.5h0M432.7 179.9h0M446.0 179.2h0M438.8 177.2h0M438.2 181.3h0M442.8 179.9h0M436.8 180.9h0M441.9 180.2h0M446.7 178.2h0M444.0 179.0h0M446.3 181.0h0M443.2 180.4h0M444.0 180.6h0M448.7 179.1h0M440.3 177.5h0M443.7 178.8h0M443.4 179.9h0M435.9 180.9h0M443.4 179.7h0M440.6 179.9h0M443.2 179.4h0M446.0 177.6h0M449.1 179.5h0M449.8 178.8h0" fill="none" stroke="#bdbdbd" stroke-opacity="0.6" stroke-width="1.7" stroke-linecap="round"/>
<g stroke="#dcdcdc" stroke-width="0.4">
<line x1="449" y1="150" x2="470" y2="100"/>
<line x1="452" y1="160" x2="482" y2="112"/>
<line x1="450" y1="165" x2="478" y2="125"/>
<line x1="452" y1="168" x2="492" y2="133"/>
<line x1="455" y1="170" x2="494" y2="145"/>
<line x1="450" y1="172" x2="470" y2="139"/>
<line x1="458" y1="172" x2="488" y2="158"/>
<line x1="437" y1="150" x2="425" y2="98"/>
<line x1="446" y1="150" x2="452" y2="98"/>
<line x1="443" y1="160" x2="444" y2="111"/>
<line x1="445" y1="166" x2="449" y2="123"/>
</g>
<path d="M425.4 174.2h0M426.4 173.9h0M431.1 177.1h0M420.9 169.1h0M428.0 166.9h0M421.4 172.7h0M431.3 171.3h0M425.9 163.8h0M433.8 164.9h0M425.7 160.5h0M425.5 175.9h0M413.9 138.5h0M407.0 176.5h0M429.1 173.8h0M428.2 174.3h0M429.8 163.7h0M429.1 173.8h0M432.5 173.6h0M428.6 171.5h0M430.6 176.7h0M413.1 170.7h0M431.3 173.5h0M432.7 171.3h0M426.2 139.0h0M432.3 170.3h0M424.8 173.1h0M433.8 166.7h0M427.9 177.1h0M428.4 173.8h0M432.2 167.4h0M430.3 139.5h0M418.7 157.4h0M430.1 168.1h0M431.6 169.2h0M403.6 160.2h0M413.1 169.6h0M430.6 135.6h0M422.4 157.9h0M431.5 174.9h0M432.5 173.6h0M429.5 173.0h0M430.4 159.9h0M429.5 168.8h0M430.3 176.0h0M418.9 163.6h0M417.8 171.7h0M432.9 174.5h0M425.2 164.8h0M411.2 173.2h0M428.2 172.4h0M417.0 176.2h0M414.7 176.9h0M427.7 146.5h0M423.7 176.5h0M431.7 175.9h0M422.5 174.4h0M414.6 145.7h0M420.8 173.6h0M425.9 163.6h0M423.9 159.4h0M422.8 158.2h0M432.6 175.8h0M422.2 176.7h0M428.7 168.1h0M427.5 165.4h0M424.3 176.7h0M433.4 173.5h0M424.0 145.6h0M428.4 169.1h0M430.0 174.7h0M430.8 176.4h0M430.7 176.7h0M432.8 155.8h0M422.0 153.2h0M424.1 176.0h0M427.9 176.1h0M431.6 171.0h0M425.4 167.0h0M421.3 175.4h0M424.1 172.6h0M425.4 166.3h0M417.1 172.2h0M424.9 171.0h0M419.2 168.7h0M432.6 165.1h0M432.9 159.2h0M429.2 166.2h0M432.1 176.0h0M430.0 160.8h0M422.2 162.8h0M433.0 173.5h0M431.4 176.2h0M429.5 139.4h0M421.5 137.6h0M427.9 170.7h0M430.1 171.6h0M426.2 152.2h0M422.7 168.7h0M409.2 176.8h0M426.9 170.7h0M426.7 161.3h0M433.1 171.3h0M431.6 174.8h0M433.4 174.9h0M431.9 164.7h0M408.4 171.6h0M429.9 173.7h0M416.1 177.0h0M428.5 149.5h0M428.0 175.9h0M430.6 174.5h0M431.9 176.1h0M430.3 175.1h0M429.4 170.1h0M427.8 175.3h0M428.5 175.5h0M419.7 170.9h0M427.1 171.5h0M423.4 171.4h0M429.8 171.2h0M429.1 152.2h0M411.7 169.0h0M426.7 176.3h0M430.2 163.8h0M423.7 169.6h0M425.1 175.2h0M427.1 166.2h0M433.3 177.0h0M421.2 176.5h0M428.2 164.9h0M422.7 162.5h0M427.2 177.0h0M430.0 174.0h0M423.1 154.2h0M430.1 171.0h0M433.9 175.4h0M426.7 150.8h0M429.2 172.4h0M428.0 170.4h0M426.8 174.3h0M431.1 172.5h0M427.0 166.7h0M422.4 166.2h0M432.3 176.6h0M421.0 173.4h0M424.0 172.4h0M427.1 171.8h0M423.4 157.2h0M422.1 164.2h0M420.9 174.6h0M423.9 163.6h0M426.9 176.6h0M430.2 165.8h0M428.8 164.2h0M422.7 175.4h0M429.3 169.3h0M424.1 176.4h0M432.7 171.1h0M418.1 174.2h0M433.1 167.9h0M431.3 160.1h0M421.8 135.2h0M428.3 172.3h0M432.3 160.1h0M419.5 176.5h0M416.9 167.5h0M430.6 168.1h0M428.4 174.7h0M433.6 162.7h0M423.7 166.1h0M422.1 162.2h0M430.2 174.4h0M433.8 173.3h0M427.5 146.2h0M430.2 135.7h0M412.5 170.7h0M422.1 174.8h0M427.2 167.8h0M429.9 168.7h0M416.8 175.6h0M430.8 162.7h0M425.2 161.3h0M433.6 157.9h0M425.5 141.8h0M423.4 172.6h0M431.4 169.9h0M427.4 175.3h0M415.4 166.8h0M430.6 176.8h0M426.5 155.1h0M425.6 138.6h0M414.6 153.4h0M401.0 141.9h0M419.4 134.3h0M407.7 118.9h0M406.3 123.2h0M397.0 125.1h0M404.8 166.8h0M402.1 114.2h0M412.8 155.9h0M410.0 166.7h0M417.7 156.9h0M404.8 115.7h0M406.6 142.9h0M403.3 135.8h0M424.6 167.5h0M420.4 165.1h0M408.5 115.1h0M423.3 141.1h0M397.3 128.4h0M415.4 152.9h0M408.5 164.1h0M419.6 121.6h0M400.9 131.4h0M399.3 156.1h0M400.6 128.5h0M425.3 138.4h0M400.5 128.2h0M423.9 144.1h0M377.9 143.8h0M380.0 159.9h0M382.0 148.9h0M391.2 157.9h0M378.7 138.6h0M368.6 162.7h0M396.1 142.4h0M427.6 176.2h0M429.3 176.9h0M429.9 175.5h0M426.2 172.1h0M431.6 174.5h0M431.7 176.6h0M424.2 171.8h0M432.3 175.2h0M421.8 174.7h0M423.2 175.5h0M430.6 176.5h0M427.2 171.8h0M432.0 176.6h0M428.6 173.9h0M432.5 173.6h0M431.8 177.1h0M432.8 176.0h0M430.6 172.7h0M427.5 173.0h0M427.9 169.4h0M433.8 176.8h0M417.2 175.0h0M430.2 176.9h0M433.1 174.7h0M427.5 175.7h0M432.8 177.1h0M433.6 174.7h0M419.0 173.2h0M431.7 177.0h0M431.3 168.0h0M433.2 170.5h0M427.6 173.4h0M432.2 176.8h0M421.9 175.9h0M427.1 171.7h0M429.4 176.0h0M432.1 176.3h0M429.6 175.2h0M432.2 174.0h0M429.1 171.5h0M418.5 177.0h0M433.6 173.8h0M426.4 175.2h0M433.7 176.3h0M427.7 170.9h0M431.4 177.0h0M414.6 163.0h0M425.5 177.1h0M422.8 175.2h0M413.4 176.2h0M426.3 172.2h0M432.7 170.2h0M433.5 176.1h0M424.0 176.7h0M425.2 174.3h0M433.2 173.7h0M423.1 162.7h0M428.3 176.8h0M434.0 170.5h0M431.9 169.2h0M421.7 175.5h0M422.6 176.5h0M432.6 177.0h0M428.3 177.1h0M419.9 176.8h0M428.4 171.6h0M424.7 177.0h0M429.7 176.9h0M431.0 177.0h0M425.9 177.1h0M428.6 175.1h0M432.8 168.7h0M422.5 176.4h0M428.3 174.0h0M419.5 176.0h0M420.5 169.7h0M431.8 175.2h0M431.4 169.2h0M431.2 174.6h0M421.8 175.3h0M431.6 177.0h0M424.1 174.7h0M424.8 176.5h0M431.6 175.5h0M431.4 176.6h0M426.9 174.3h0M418.5 167.7h0M432.6 176.3h0M426.4 171.7h0M426.5 175.7h0M428.3 175.7h0M427.7 174.6h0M421.1 174.5h0M431.1 176.5h0M425.4 175.1h0M422.4 89.3h0M377.8 137.1h0M419.0 118.3h0" fill="none" stroke="#3b4bb8" stroke-opacity="0.45" stroke-width="1.7" stroke-linecap="round"/>
<path d="M428.7 162.0h0M425.3 173.1h0M427.6 170.3h0M430.0 162.4h0M419.6 165.5h0M433.4 174.5h0M428.6 176.0h0M427.1 171.4h0M422.3 172.4h0M419.7 159.5h0M418.6 172.3h0M422.1 175.8h0M422.1 165.1h0M433.9 176.9h0M416.2 171.9h0M422.4 175.6h0M433.8 177.0h0M422.9 174.3h0M431.2 129.5h0M424.8 169.8h0M410.2 156.4h0M431.5 165.8h0M433.8 164.4h0M419.2 176.1h0M433.0 175.1h0M423.5 174.1h0M427.3 170.2h0M425.6 170.8h0M414.5 161.9h0M424.2 175.3h0M425.6 175.7h0M420.3 167.3h0M424.0 172.1h0M433.9 172.6h0M428.0 173.9h0M412.6 174.2h0M422.8 176.5h0M430.6 175.4h0M422.9 161.9h0M428.7 176.3h0M429.9 161.4h0M420.7 164.3h0M426.8 174.3h0M423.7 176.0h0M433.6 173.7h0M425.8 171.7h0M421.2 157.0h0M430.2 169.5h0M425.2 166.3h0M429.5 173.6h0M421.8 172.8h0M419.6 167.1h0M422.3 141.2h0M401.3 169.1h0M424.9 172.6h0M422.7 161.3h0M432.2 159.2h0M422.9 170.4h0M433.5 175.0h0M430.2 176.2h0M426.6 147.7h0M418.6 169.4h0M419.1 171.7h0M424.0 156.9h0M429.0 174.6h0M429.5 162.0h0M429.7 174.0h0M433.6 177.1h0M428.0 169.5h0M432.7 174.7h0M419.6 135.6h0M420.3 162.9h0M432.5 166.1h0M408.5 176.2h0M430.7 174.0h0M423.3 176.0h0M424.2 160.2h0M430.1 155.3h0M424.1 169.0h0M427.6 169.7h0M433.1 175.1h0M426.9 166.0h0M428.3 174.9h0M430.8 170.6h0M429.9 175.1h0M421.1 151.9h0M415.2 173.8h0M426.8 171.3h0M430.0 161.1h0M415.4 173.9h0M423.3 164.8h0M410.1 144.4h0M432.1 174.2h0M431.7 167.9h0M433.1 173.7h0M433.8 170.9h0M420.9 140.5h0M432.7 168.0h0M431.1 176.2h0M420.9 168.6h0M408.2 170.9h0M421.0 173.1h0M429.1 171.6h0M422.1 157.0h0M419.5 169.3h0M418.8 172.7h0M417.4 160.9h0M431.4 171.6h0M414.6 148.0h0M432.0 168.1h0M430.5 154.1h0M428.2 170.7h0M432.8 176.5h0M426.6 174.1h0M425.0 150.8h0M432.2 166.6h0M434.1 175.6h0M427.7 168.6h0M428.0 173.7h0M430.1 142.6h0M431.2 174.4h0M433.7 173.5h0M426.0 171.0h0M432.7 175.0h0M433.9 154.8h0M434.0 175.3h0M417.9 160.0h0M411.9 169.0h0M428.3 167.7h0M420.1 135.3h0M421.6 157.1h0M428.0 175.6h0M422.9 174.1h0M414.3 173.4h0M427.2 171.3h0M426.6 169.4h0M424.6 167.7h0M432.8 168.1h0M429.8 127.7h0M424.0 165.3h0M423.6 176.1h0M430.7 172.4h0M425.9 168.6h0M433.8 173.3h0M433.0 145.0h0M433.6 160.3h0M426.2 173.8h0M431.0 172.2h0M425.6 174.0h0M428.4 164.5h0M433.0 174.8h0M413.5 167.5h0M417.8 168.2h0M433.7 174.1h0M432.1 169.3h0M431.5 172.2h0M420.8 173.6h0M424.9 176.9h0M417.6 175.1h0M422.7 176.9h0M425.6 174.9h0M428.3 175.0h0M425.2 161.1h0M427.5 159.2h0M429.7 161.8h0M411.3 154.5h0M427.1 166.7h0M426.8 174.1h0M429.3 171.8h0M424.0 170.7h0M431.9 159.3h0M420.9 175.1h0M423.2 169.6h0M430.8 170.7h0M433.9 177.1h0M425.2 164.1h0M425.4 171.8h0M433.3 175.3h0M432.5 174.7h0M430.3 175.3h0M427.2 175.4h0M430.4 174.8h0M426.1 167.1h0M421.4 166.4h0M430.0 170.9h0M429.2 156.4h0M431.2 166.7h0M430.3 165.8h0M429.4 176.9h0M423.1 176.8h0M426.7 163.4h0M415.8 167.3h0M418.7 144.7h0M400.3 167.3h0M426.1 153.1h0M419.8 140.8h0M409.3 116.2h0M410.3 158.7h0M423.4 154.5h0M432.7 167.9h0M407.2 160.8h0M418.5 157.2h0M425.5 140.1h0M408.6 115.6h0M413.2 123.9h0M427.0 166.8h0M408.8 132.8h0M422.5 129.7h0M414.5 146.6h0M422.4 149.7h0M415.6 155.0h0M427.4 151.5h0M425.1 167.8h0M430.4 136.3h0M427.6 129.3h0M425.4 167.2h0M430.1 119.0h0M431.3 146.9h0M421.4 163.4h0M387.5 170.9h0M391.4 168.3h0M374.9 149.1h0M391.5 147.4h0M390.7 147.6h0M391.0 170.9h0M431.6 175.8h0M433.9 174.0h0M431.2 177.1h0M420.7 175.8h0M425.2 176.8h0M417.6 172.8h0M425.8 174.9h0M430.3 177.0h0M428.0 172.5h0M419.8 176.9h0M428.6 175.2h0M423.5 177.1h0M429.0 172.8h0M432.0 169.7h0M431.5 175.4h0M432.4 174.6h0M426.5 168.4h0M426.9 171.5h0M432.5 172.3h0M431.2 175.8h0M417.3 168.6h0M431.2 171.5h0M427.7 176.1h0M433.7 175.9h0M425.5 176.1h0M433.8 176.1h0M428.5 175.3h0M426.6 172.9h0M429.9 174.8h0M434.0 174.3h0M428.7 176.7h0M428.2 173.1h0M433.8 168.7h0M419.6 176.7h0M426.2 175.4h0M433.3 175.3h0M430.6 176.4h0M430.1 176.2h0M433.8 175.0h0M420.9 176.4h0M425.2 174.6h0M421.7 175.1h0M431.4 174.0h0M431.6 173.6h0M433.3 175.5h0M423.8 174.2h0M426.5 173.8h0M432.8 174.2h0M428.5 164.2h0M427.5 177.1h0M432.8 176.0h0M422.0 176.5h0M431.7 174.9h0M428.5 173.4h0M433.9 163.2h0M419.7 175.0h0M433.8 176.0h0M419.9 176.3h0M430.0 173.3h0M430.1 175.3h0M432.3 173.2h0M427.6 176.1h0M412.9 172.9h0M425.4 167.6h0M425.5 175.7h0M423.0 170.8h0M433.2 176.6h0M421.8 176.9h0M430.7 175.4h0M420.1 176.2h0M424.5 173.3h0M432.1 176.9h0M424.2 175.6h0M429.8 176.9h0M431.2 174.4h0M428.2 177.1h0M426.2 172.1h0M427.3 175.4h0M432.6 177.0h0M425.7 176.9h0M431.5 172.4h0M431.7 175.5h0M430.6 171.5h0M419.7 168.3h0M429.0 176.4h0M423.4 176.3h0M430.7 176.2h0M428.6 174.0h0M422.6 176.7h0M422.4 174.3h0M428.5 174.0h0M419.5 174.7h0M428.4 176.7h0M425.1 176.5h0M433.0 174.9h0M394.2 41.4h0M424.5 94.4h0M428.6 99.5h0" fill="none" stroke="#3b4bb8" stroke-opacity="0.45" stroke-width="1.7" stroke-linecap="round"/>
<path d="M427.1 156.0h0M428.5 175.3h0M428.4 171.3h0M425.4 173.3h0M416.1 175.3h0M434.0 175.1h0M430.7 176.3h0M423.8 158.1h0M432.5 167.2h0M424.7 165.9h0M430.6 175.5h0M430.2 168.9h0M432.0 174.5h0M423.2 172.7h0M421.7 138.7h0M432.0 155.5h0M429.1 168.8h0M430.7 158.9h0M428.2 171.5h0M426.5 174.3h0M433.2 176.9h0M429.7 177.1h0M429.9 172.9h0M424.6 165.9h0M426.9 167.7h0M426.9 176.3h0M431.5 176.3h0M427.0 170.4h0M411.4 170.7h0M431.9 153.6h0M427.7 168.2h0M421.3 176.0h0M428.8 169.3h0M423.0 151.8h0M431.6 173.0h0M426.4 152.4h0M423.4 174.4h0M431.5 176.5h0M423.7 169.7h0M425.2 158.9h0M418.3 176.4h0M429.3 172.4h0M422.0 175.2h0M421.5 172.8h0M430.4 175.8h0M410.5 172.2h0M429.7 167.7h0M430.7 172.7h0M430.6 172.8h0M425.9 169.1h0M422.9 166.7h0M424.9 171.4h0M424.2 160.8h0M422.4 174.8h0M433.9 175.8h0M432.1 176.1h0M425.0 170.1h0M425.0 175.9h0M431.3 175.2h0M430.7 148.3h0M432.9 175.8h0M429.4 174.1h0M427.3 176.1h0M422.0 170.5h0M427.1 171.4h0M422.9 169.6h0M427.0 165.0h0M413.1 172.1h0M429.5 171.1h0M431.2 161.2h0M429.8 174.0h0M420.9 169.3h0M433.2 166.8h0M432.0 166.0h0M433.8 176.2h0M425.1 169.7h0M419.7 170.8h0M419.0 172.2h0M431.4 175.7h0M429.0 169.7h0M433.0 170.5h0M421.6 169.2h0M434.0 174.4h0M431.3 152.7h0M430.3 169.4h0M430.6 152.4h0M434.1 171.3h0M433.0 174.6h0M424.5 164.9h0M412.2 172.1h0M423.1 169.3h0M432.0 158.6h0M431.7 168.3h0M423.5 170.2h0M427.6 166.5h0M421.6 175.7h0M412.7 155.3h0M423.8 151.8h0M417.2 176.9h0M433.3 177.1h0M429.4 177.0h0M429.2 174.9h0M432.3 175.0h0M431.2 174.2h0M419.3 174.3h0M408.5 171.3h0M428.2 169.4h0M431.5 157.3h0M421.6 175.7h0M422.3 148.6h0M428.4 173.5h0M421.7 163.2h0M428.0 154.9h0M427.1 171.7h0M431.9 165.7h0M433.7 175.2h0M425.7 176.8h0M430.3 159.4h0M427.9 153.4h0M432.7 167.0h0M421.7 173.0h0M422.5 174.2h0M420.0 142.2h0M425.7 174.5h0M422.8 173.9h0M425.1 142.0h0M432.2 163.7h0M424.4 168.4h0M412.4 154.1h0M430.5 166.5h0M412.6 165.7h0M432.1 168.7h0M428.6 167.3h0M421.0 144.9h0M414.9 168.9h0M433.6 176.6h0M425.4 174.7h0M433.1 169.2h0M427.8 164.5h0M432.9 165.7h0M409.8 151.6h0M426.9 169.6h0M419.2 175.8h0M429.5 151.4h0M428.0 175.0h0M433.3 167.6h0M426.9 174.0h0M419.1 139.2h0M430.2 168.3h0M407.3 172.1h0M428.8 172.8h0M426.0 172.7h0M434.0 170.8h0M430.6 174.5h0M422.7 173.9h0M404.2 166.6h0M428.7 162.1h0M423.9 175.7h0M431.0 164.3h0M425.9 175.0h0M425.6 171.9h0M431.8 175.8h0M421.3 175.3h0M432.7 175.1h0M421.5 176.2h0M429.9 177.0h0M429.2 174.3h0M434.0 174.3h0M425.6 157.4h0M425.7 170.8h0M433.8 174.4h0M421.4 165.9h0M411.8 149.0h0M425.6 159.3h0M428.3 168.4h0M423.2 175.4h0M425.5 169.3h0M419.1 173.0h0M427.9 164.8h0M428.3 171.6h0M425.1 152.2h0M432.7 171.8h0M428.3 174.8h0M427.4 166.1h0M431.9 144.6h0M429.2 171.3h0M416.7 176.8h0M433.0 176.7h0M427.2 176.4h0M427.9 175.3h0M413.6 154.0h0M410.8 162.4h0M399.1 164.7h0M422.6 158.1h0M402.3 130.3h0M398.5 120.9h0M427.6 152.6h0M421.2 140.7h0M407.9 162.6h0M432.7 156.4h0M415.5 133.2h0M406.2 149.3h0M427.0 167.4h0M430.7 165.8h0M419.4 165.3h0M413.7 164.8h0M401.1 144.0h0M410.1 149.0h0M430.6 164.7h0M414.7 127.6h0M397.0 167.2h0M411.2 130.4h0M401.1 148.2h0M425.1 150.3h0M428.8 167.4h0M411.2 148.9h0M398.8 140.0h0M427.7 144.4h0M406.2 130.7h0M402.7 168.6h0M366.4 149.2h0M370.5 133.0h0M392.1 160.5h0M396.3 162.1h0M400.8 147.8h0M417.4 175.2h0M432.1 172.2h0M423.3 175.3h0M416.5 169.3h0M428.5 176.9h0M421.7 174.0h0M432.5 173.3h0M431.6 176.6h0M431.5 175.9h0M424.7 176.2h0M433.4 176.2h0M431.9 163.8h0M433.4 171.9h0M416.5 175.2h0M420.1 175.3h0M427.0 176.7h0M430.0 171.6h0M425.8 175.7h0M421.0 176.9h0M425.6 175.2h0M421.8 176.6h0M425.7 173.6h0M432.0 175.5h0M420.8 176.4h0M427.9 177.1h0M431.5 176.1h0M428.7 174.9h0M433.8 175.0h0M426.0 174.5h0M422.7 169.8h0M425.0 172.8h0M433.9 170.7h0M431.2 174.8h0M421.4 175.3h0M429.1 174.4h0M428.0 174.0h0M433.7 173.1h0M417.0 176.8h0M420.0 176.2h0M416.6 176.4h0M421.7 176.9h0M429.1 170.3h0M426.7 176.9h0M425.4 174.7h0M428.3 173.5h0M425.7 175.8h0M417.7 174.3h0M433.8 174.0h0M424.0 174.4h0M429.1 175.9h0M430.6 175.6h0M414.9 174.8h0M424.9 176.2h0M421.2 174.4h0M418.3 172.6h0M417.9 176.2h0M428.3 174.3h0M422.2 171.8h0M432.8 174.8h0M425.3 177.1h0M430.4 173.4h0M433.1 170.4h0M433.9 164.8h0M426.7 176.1h0M433.8 167.9h0M432.0 177.0h0M428.0 166.6h0M420.8 176.1h0M429.7 174.2h0M428.7 171.8h0M430.7 168.1h0M423.9 173.5h0M420.3 164.4h0M434.0 172.1h0M430.8 174.0h0M426.6 170.9h0M420.8 176.4h0M433.5 171.0h0M422.8 173.7h0M430.5 175.5h0M433.1 174.6h0M431.8 176.7h0M428.5 174.4h0M427.5 174.4h0M431.8 177.1h0M433.1 174.2h0M420.6 170.9h0M431.0 176.0h0M425.7 172.8h0M414.2 168.7h0M431.5 171.0h0M427.7 174.9h0M432.2 175.4h0M433.1 172.4h0M431.0 176.6h0M420.4 53.3h0M386.0 116.6h0M425.9 106.4h0" fill="none" stroke="#3b4bb8" stroke-opacity="0.45" stroke-width="1.7" stroke-linecap="round"/>
<path d="M427.5 176.8h0M433.3 175.1h0M429.6 168.3h0M432.4 159.9h0M430.0 169.1h0M421.9 174.4h0M432.7 167.5h0M417.2 176.6h0M426.8 173.6h0M429.9 169.0h0M427.9 177.0h0M424.6 172.5h0M432.2 166.7h0M431.1 174.1h0M422.8 172.5h0M429.9 174.7h0M431.9 174.6h0M433.0 174.3h0M415.1 171.4h0M422.6 150.5h0M428.0 175.6h0M423.1 174.9h0M418.5 160.6h0M431.0 174.8h0M428.0 162.8h0M429.2 173.7h0M428.5 175.8h0M429.1 151.4h0M415.7 142.0h0M419.4 173.2h0M426.9 175.0h0M433.7 163.2h0M429.4 170.0h0M426.8 175.7h0M404.4 151.8h0M422.0 160.1h0M422.8 161.5h0M420.1 169.1h0M420.7 153.9h0M432.0 162.8h0M419.8 133.0h0M420.2 177.0h0M424.9 175.9h0M429.2 175.3h0M424.7 168.0h0M433.2 167.7h0M415.2 170.6h0M433.0 174.6h0M427.6 175.9h0M416.7 168.8h0M422.9 173.2h0M432.3 174.1h0M433.7 169.1h0M425.7 135.8h0M430.0 168.4h0M417.1 170.5h0M432.7 171.2h0M425.1 176.3h0M432.4 172.4h0M429.5 170.9h0M433.4 163.9h0M433.3 150.8h0M430.5 156.5h0M429.9 157.6h0M426.4 173.2h0M429.5 172.9h0M433.4 172.0h0M420.2 168.1h0M423.5 164.0h0M424.1 172.4h0M426.4 161.9h0M430.0 155.4h0M433.6 173.0h0M423.7 172.7h0M430.3 162.3h0M411.3 148.0h0M420.0 176.8h0M433.5 165.5h0M425.4 173.2h0M426.3 171.3h0M418.1 174.1h0M428.5 145.3h0M429.5 161.4h0M429.2 164.9h0M422.5 175.9h0M425.4 165.6h0M432.1 174.8h0M426.1 170.8h0M426.3 170.3h0M426.3 163.3h0M430.0 173.6h0M430.9 176.3h0M431.6 176.6h0M420.4 176.4h0M434.1 173.0h0M431.9 174.3h0M427.1 153.1h0M425.2 176.3h0M415.9 176.8h0M416.2 176.4h0M426.3 164.0h0M424.4 157.4h0M425.4 167.5h0M427.5 173.7h0M426.2 175.0h0M418.1 175.7h0M428.5 165.6h0M431.6 175.9h0M415.0 163.6h0M423.4 171.5h0M431.4 176.7h0M430.9 171.0h0M418.5 170.0h0M408.5 166.2h0M433.8 173.2h0M432.2 164.4h0M433.3 174.8h0M425.6 169.3h0M430.4 161.3h0M428.2 174.8h0M425.5 169.7h0M434.0 170.6h0M432.5 174.6h0M418.6 153.4h0M433.4 162.9h0M418.7 151.8h0M428.3 174.0h0M419.5 152.8h0M416.3 173.2h0M430.6 176.7h0M424.1 170.9h0M427.3 164.1h0M420.9 149.2h0M430.0 164.8h0M429.8 171.8h0M425.3 176.7h0M428.9 171.7h0M421.6 150.1h0M433.0 176.7h0M425.5 167.7h0M430.2 176.7h0M426.6 165.1h0M429.6 176.7h0M433.2 162.3h0M428.4 159.9h0M416.6 170.9h0M427.0 164.1h0M419.3 161.6h0M410.2 164.4h0M427.4 166.3h0M429.5 134.7h0M417.1 167.8h0M418.7 169.1h0M410.1 167.4h0M425.1 162.2h0M428.5 150.9h0M420.0 172.4h0M423.9 173.7h0M431.3 166.3h0M416.3 164.3h0M432.7 164.0h0M420.6 144.2h0M426.6 173.3h0M424.8 165.5h0M430.6 176.8h0M432.4 167.7h0M424.1 169.5h0M432.3 170.0h0M433.5 166.3h0M429.0 171.8h0M432.1 176.9h0M420.3 165.5h0M413.3 157.2h0M433.3 171.5h0M426.2 176.1h0M427.0 171.7h0M431.7 169.1h0M426.7 149.1h0M419.5 176.6h0M433.0 152.4h0M423.9 176.7h0M427.9 147.3h0M431.6 174.4h0M427.1 171.2h0M433.4 173.6h0M423.6 163.5h0M424.8 175.2h0M418.3 159.3h0M427.4 176.7h0M428.8 176.1h0M427.4 143.1h0M420.7 167.8h0M419.0 134.2h0M405.9 129.0h0M428.7 114.7h0M412.1 121.4h0M412.6 164.7h0M425.9 150.2h0M402.4 162.2h0M422.9 113.9h0M402.1 118.1h0M408.2 164.0h0M418.0 162.8h0M431.5 149.5h0M409.8 167.6h0M411.2 126.2h0M411.9 123.4h0M432.4 148.5h0M411.1 135.9h0M418.6 119.2h0M418.5 166.3h0M416.9 158.0h0M428.0 164.6h0M411.1 167.1h0M409.4 148.9h0M422.0 119.5h0M421.3 133.1h0M398.8 123.3h0M392.7 157.4h0M372.5 154.1h0M401.3 144.9h0M389.8 147.3h0M371.7 140.6h0M402.5 140.6h0M369.8 172.4h0M432.1 175.5h0M431.6 176.8h0M428.2 177.0h0M426.8 176.7h0M430.1 162.3h0M420.0 173.7h0M430.1 172.4h0M427.3 175.4h0M425.7 177.2h0M432.8 173.8h0M432.4 176.7h0M430.0 176.6h0M428.9 176.8h0M428.8 176.3h0M426.4 175.3h0M426.3 175.8h0M427.1 175.7h0M432.4 177.1h0M431.4 172.6h0M432.4 172.0h0M428.6 172.1h0M429.1 171.0h0M423.7 171.9h0M431.7 175.5h0M430.7 175.1h0M432.6 175.1h0M430.4 172.4h0M430.0 170.2h0M419.1 171.1h0M425.2 175.7h0M420.7 176.0h0M433.0 176.9h0M424.9 175.9h0M432.3 176.8h0M416.4 169.8h0M428.1 162.4h0M432.8 176.3h0M412.6 173.3h0M422.1 175.9h0M414.6 169.2h0M432.3 171.6h0M425.2 173.7h0M423.4 172.2h0M433.6 175.6h0M423.5 177.1h0M432.4 173.8h0M426.7 172.0h0M426.7 175.8h0M425.6 162.7h0M418.8 175.6h0M426.2 175.5h0M433.9 176.0h0M431.2 175.8h0M425.1 177.0h0M428.3 174.1h0M426.1 176.9h0M428.9 169.9h0M424.9 176.9h0M419.5 177.0h0M433.4 174.9h0M427.4 174.5h0M425.8 175.7h0M431.6 176.6h0M433.5 176.7h0M428.1 174.8h0M432.3 173.6h0M418.0 174.8h0M417.7 175.8h0M432.1 174.8h0M433.8 172.3h0M432.1 176.5h0M431.8 176.8h0M427.7 168.4h0M426.8 176.8h0M429.3 176.7h0M427.9 175.1h0M432.5 172.7h0M420.5 170.6h0M424.8 176.7h0M428.5 171.2h0M430.3 175.3h0M428.8 170.9h0M427.0 177.0h0M434.0 174.6h0M419.4 170.8h0M422.5 176.1h0M426.6 175.8h0M432.3 174.3h0M433.0 168.9h0M426.3 175.9h0M433.0 177.1h0M425.9 173.7h0M419.0 176.1h0M429.0 176.1h0M427.1 174.1h0M413.5 84.1h0M369.5 145.7h0M430.0 113.2h0" fill="none" stroke="#3b4bb8" stroke-opacity="0.45" stroke-width="1.7" stroke-linecap="round"/>
<path d="M453.1 171.0h0M455.6 162.1h0M456.0 135.4h0M458.8 163.3h0M454.8 166.0h0M457.2 175.2h0M449.1 170.6h0M455.4 166.7h0M455.6 170.6h0M453.2 169.3h0M451.1 171.7h0M452.1 174.5h0M459.4 173.9h0M456.7 168.8h0M450.6 161.2h0M452.8 177.0h0M454.6 152.7h0M456.3 174.8h0M448.2 170.9h0M448.1 171.8h0M449.2 170.0h0M457.8 166.7h0M454.0 176.1h0M467.2 155.9h0M450.4 153.4h0M456.8 170.2h0M451.4 171.8h0M453.8 173.6h0M450.9 175.9h0M448.9 176.7h0M453.9 161.1h0M457.2 170.6h0M456.4 132.5h0M451.7 174.4h0M454.9 155.1h0M458.1 159.3h0M453.7 171.8h0M457.1 175.6h0M449.9 173.9h0M456.7 172.1h0M452.8 168.6h0M458.4 175.0h0M450.2 171.3h0M449.9 171.4h0M449.2 165.0h0M465.1 154.5h0M452.6 172.5h0M456.0 164.2h0M463.2 170.9h0M448.6 176.5h0M457.7 166.9h0M467.2 173.7h0M459.5 164.2h0M452.8 176.0h0M455.3 175.6h0M449.0 161.6h0M449.1 152.3h0M453.5 167.0h0M457.0 173.6h0M447.9 148.3h0M451.4 168.2h0M457.1 169.2h0M451.8 164.5h0M449.7 174.2h0M451.0 152.1h0M452.8 170.1h0M466.3 168.4h0M450.0 167.0h0M453.1 163.6h0M459.0 162.2h0M451.4 176.0h0M451.3 159.6h0M454.3 176.8h0M455.3 152.6h0M460.0 135.2h0M458.1 152.7h0M462.2 162.2h0M454.3 163.8h0M463.6 176.4h0M449.2 176.7h0M452.4 173.6h0M454.2 167.8h0M462.6 148.8h0M451.0 176.2h0M449.4 176.7h0M448.9 171.7h0M450.7 166.5h0M454.4 176.2h0M449.9 176.4h0M452.0 152.5h0M451.5 172.7h0M463.2 174.6h0M455.4 174.7h0M455.4 173.6h0M449.6 147.3h0M452.4 174.5h0M452.4 168.3h0M451.3 168.9h0M450.3 172.7h0M448.9 174.8h0M458.9 172.4h0M456.5 169.9h0M460.6 148.9h0M450.4 170.7h0M459.0 164.7h0M454.1 167.6h0M453.9 160.8h0M464.9 169.1h0M449.5 174.0h0M456.1 176.1h0M451.6 174.3h0M461.8 168.9h0M450.4 164.7h0M453.7 175.5h0M450.1 169.0h0M451.7 176.4h0M456.0 157.6h0M454.6 168.8h0M450.6 170.3h0M450.9 176.2h0M451.2 174.9h0M455.4 159.9h0M451.3 174.4h0M449.4 175.3h0M454.5 159.0h0M455.3 172.7h0M462.1 170.5h0M455.6 142.5h0M449.1 168.6h0M448.8 152.3h0M461.5 171.4h0M448.3 146.2h0M448.9 172.1h0M469.1 173.3h0M454.7 175.7h0M455.3 173.3h0M449.5 177.0h0M449.3 165.5h0M450.8 173.9h0M461.1 161.9h0M452.2 176.3h0M449.3 166.5h0M453.5 161.5h0M456.5 164.0h0M452.2 168.0h0M450.9 174.7h0M462.1 155.3h0M453.0 176.2h0M448.1 175.1h0M451.0 162.0h0M463.1 171.6h0M453.7 174.0h0M472.9 156.4h0M450.0 176.0h0M462.5 128.4h0M455.0 143.2h0M465.6 159.6h0M449.6 171.7h0M449.9 158.3h0M450.9 174.8h0M449.8 162.7h0M452.0 166.2h0M450.0 159.5h0M457.5 174.6h0M455.6 171.7h0M449.1 165.5h0M453.0 161.3h0M455.8 172.1h0M449.1 176.5h0M456.0 158.9h0M460.8 139.3h0M459.6 164.4h0M448.7 173.0h0M451.2 170.5h0M470.5 167.1h0M456.3 165.3h0M461.5 139.0h0M450.5 169.0h0M455.0 168.4h0M447.9 174.4h0M457.2 167.1h0M469.8 156.2h0M455.6 165.5h0M460.5 152.2h0M454.5 166.6h0M455.6 166.4h0M448.2 158.2h0M450.8 168.3h0M450.2 160.8h0M450.4 147.2h0M448.0 173.2h0M448.5 176.2h0M462.5 176.8h0M454.4 172.3h0M457.4 162.8h0M455.3 174.7h0M451.9 169.6h0M451.9 149.4h0M452.9 158.0h0M460.7 152.0h0M456.0 168.9h0M448.4 172.2h0M448.8 168.1h0M448.5 176.1h0M451.0 169.2h0M451.9 174.9h0M448.3 167.8h0M461.5 168.0h0M448.1 158.1h0M449.9 170.4h0M450.9 156.6h0M455.5 170.9h0M459.9 176.0h0M449.0 154.1h0M452.7 170.2h0M457.5 155.0h0M458.5 168.9h0M448.7 165.7h0M456.0 176.0h0M449.0 170.3h0M465.8 150.4h0M448.8 176.0h0M451.9 167.1h0M452.4 171.4h0M469.9 162.1h0M455.6 174.3h0M452.0 172.4h0M455.1 175.7h0M451.1 174.3h0M453.1 172.6h0M448.0 169.8h0M451.7 158.1h0M447.9 173.7h0M448.9 176.8h0M461.5 175.8h0M460.6 161.0h0M456.0 177.1h0M455.0 174.7h0M449.0 176.5h0M459.0 167.8h0M448.3 177.0h0M449.9 176.1h0M449.5 176.0h0M450.1 175.2h0M451.6 172.6h0M448.6 174.8h0M451.3 174.6h0M454.8 176.8h0M450.5 176.9h0M456.2 176.3h0M456.7 167.3h0M454.6 171.9h0M450.4 176.3h0M450.7 176.7h0M459.8 176.5h0M451.0 175.0h0M460.0 173.6h0M459.1 176.7h0M449.7 174.6h0M448.3 176.6h0M455.3 175.0h0M449.6 173.0h0M451.2 176.6h0M460.2 174.8h0M456.3 174.5h0M458.1 171.6h0M449.8 172.0h0M449.9 177.0h0M455.3 172.8h0M467.9 175.2h0M468.8 174.0h0M457.1 176.3h0M448.3 175.5h0M451.5 174.9h0M449.9 174.9h0M448.6 162.1h0M451.2 175.4h0M457.7 176.6h0M450.4 159.2h0M452.1 175.8h0M458.4 174.7h0M451.9 176.6h0M448.2 177.1h0M448.6 170.0h0M456.8 176.7h0M453.1 175.8h0M455.3 176.4h0M467.0 165.3h0M452.7 176.4h0M453.9 176.3h0M457.6 175.8h0M462.1 176.5h0M455.7 176.4h0M451.8 169.6h0M459.0 175.6h0M452.1 175.9h0M450.7 176.8h0M456.7 175.3h0M455.4 176.6h0M448.3 176.9h0M459.9 177.0h0M448.6 176.1h0M450.0 173.9h0M450.4 176.2h0M448.9 176.2h0M450.5 175.2h0M451.6 176.8h0M453.0 173.5h0M453.7 174.8h0M452.0 173.8h0M451.7 172.0h0M449.3 176.4h0M449.5 158.2h0M458.5 175.6h0M450.3 176.5h0M450.9 176.0h0M452.5 176.1h0M449.2 175.1h0M456.5 177.1h0M452.5 175.0h0M450.1 165.5h0M454.3 169.0h0M448.7 176.4h0M452.2 176.3h0M449.9 176.9h0M457.5 175.3h0M460.4 177.0h0M452.3 173.1h0M455.9 169.6h0M453.9 175.2h0M466.0 144.8h0M453.9 165.7h0M463.1 146.6h0M477.3 114.7h0M474.6 159.0h0M467.5 156.4h0M476.2 164.1h0M483.9 137.0h0M485.7 141.4h0M454.0 161.6h0M450.2 135.5h0M450.5 141.8h0M468.1 146.5h0M463.8 158.5h0M470.9 133.9h0M468.6 116.9h0M465.9 131.2h0M460.1 158.6h0M461.1 164.9h0M479.9 122.2h0M455.3 121.9h0M452.8 162.5h0M465.1 133.8h0M477.0 160.2h0M470.0 135.9h0M486.3 117.1h0M461.8 140.2h0M487.1 117.7h0M481.5 167.3h0M487.2 127.2h0M466.4 152.4h0M468.6 145.9h0M462.3 139.7h0M468.3 148.5h0M453.6 145.8h0M464.5 163.2h0M478.4 151.3h0M482.0 156.0h0M483.8 125.7h0M457.1 113.6h0M457.1 157.6h0M453.6 165.3h0M480.5 161.6h0M452.1 120.0h0M471.1 158.9h0M484.9 121.8h0M489.2 144.8h0M485.8 115.1h0M501.8 158.7h0M489.0 151.3h0M496.1 116.7h0M492.0 98.6h0M467.4 120.2h0M501.1 153.0h0M464.4 132.6h0M464.3 137.8h0M496.0 147.4h0M461.8 150.4h0M480.9 121.0h0M506.4 84.1h0" fill="none" stroke="#ea352a" stroke-opacity="0.48" stroke-width="1.7" stroke-linecap="round"/>
<path d="M452.4 165.8h0M454.8 173.7h0M466.7 168.6h0M449.1 168.5h0M455.6 168.7h0M449.7 170.6h0M452.8 121.0h0M452.8 171.1h0M454.6 169.0h0M451.7 157.8h0M452.9 171.8h0M462.2 133.5h0M452.7 157.9h0M452.6 169.1h0M448.1 174.3h0M448.5 176.7h0M456.6 165.4h0M452.2 170.6h0M453.2 165.7h0M453.0 176.3h0M450.0 163.7h0M457.5 164.2h0M454.7 175.1h0M456.4 161.8h0M450.6 170.2h0M452.5 164.3h0M451.4 162.6h0M456.8 163.0h0M465.7 136.3h0M448.2 174.8h0M455.9 175.0h0M454.9 166.6h0M454.5 165.3h0M455.8 167.5h0M450.9 171.6h0M451.3 171.5h0M457.2 172.3h0M466.0 157.9h0M459.3 158.0h0M463.1 173.1h0M459.0 171.2h0M450.6 168.6h0M451.7 167.7h0M454.4 175.5h0M462.4 166.3h0M448.6 166.8h0M451.8 175.5h0M468.0 150.3h0M450.5 172.9h0M456.3 157.9h0M465.5 169.9h0M459.9 145.7h0M449.5 176.7h0M457.8 161.9h0M454.8 161.5h0M459.8 175.9h0M484.3 164.7h0M459.5 176.7h0M449.8 174.0h0M455.3 148.1h0M458.0 172.6h0M453.7 164.6h0M450.7 172.6h0M460.4 155.0h0M455.0 169.8h0M458.9 157.7h0M452.7 174.1h0M448.1 172.3h0M448.3 176.5h0M454.5 167.3h0M456.1 157.2h0M449.6 164.4h0M455.0 162.5h0M451.1 164.4h0M456.6 166.5h0M453.4 176.9h0M448.2 167.4h0M454.7 176.6h0M449.7 173.9h0M459.0 167.0h0M448.7 171.2h0M448.6 175.1h0M462.5 172.0h0M452.6 152.3h0M460.7 173.2h0M451.2 171.1h0M450.8 176.3h0M449.5 163.2h0M454.1 146.2h0M450.0 169.0h0M460.2 176.3h0M449.2 170.6h0M454.0 165.0h0M450.4 154.4h0M449.9 169.9h0M460.4 154.4h0M456.5 168.7h0M462.3 140.1h0M452.4 176.5h0M463.2 169.0h0M448.3 175.5h0M451.9 154.1h0M457.9 168.6h0M452.8 167.3h0M451.8 165.9h0M457.7 128.5h0M451.0 174.9h0M458.0 167.6h0M458.3 173.4h0M457.4 143.8h0M454.5 175.5h0M455.6 169.3h0M453.2 149.3h0M451.3 162.4h0M448.4 176.3h0M460.4 165.9h0M457.1 151.0h0M449.9 173.1h0M461.2 162.8h0M449.7 169.9h0M448.5 175.0h0M458.6 173.9h0M449.8 175.1h0M454.2 155.2h0M456.2 177.0h0M459.5 174.5h0M449.0 129.9h0M451.8 176.7h0M471.7 176.6h0M449.4 173.9h0M455.5 157.4h0M448.2 162.0h0M451.4 168.9h0M461.9 161.2h0M463.6 151.8h0M451.2 161.1h0M453.4 155.0h0M451.3 165.5h0M455.8 170.0h0M449.9 176.3h0M452.3 169.7h0M450.1 168.4h0M449.9 173.7h0M453.8 173.0h0M457.5 170.5h0M459.0 176.0h0M456.9 173.9h0M453.4 173.2h0M448.0 176.2h0M454.9 173.6h0M466.2 173.1h0M453.6 173.7h0M449.0 167.2h0M448.1 176.0h0M461.8 148.9h0M457.5 149.4h0M460.8 159.7h0M448.7 158.7h0M460.5 177.1h0M454.2 166.4h0M456.0 163.2h0M457.0 156.8h0M452.8 163.3h0M463.1 156.1h0M452.4 174.6h0M448.9 150.1h0M456.0 176.8h0M449.0 160.2h0M459.9 170.1h0M453.6 165.8h0M458.9 164.0h0M448.0 168.3h0M453.4 174.2h0M463.9 175.5h0M450.8 175.4h0M448.2 169.2h0M451.1 164.3h0M455.5 174.0h0M449.5 167.6h0M458.4 149.5h0M459.9 169.2h0M455.6 169.1h0M463.9 171.8h0M461.5 169.7h0M448.3 175.5h0M456.8 162.0h0M466.5 176.3h0M452.1 169.7h0M460.6 170.0h0M453.3 173.8h0M459.6 172.5h0M467.2 162.2h0M453.8 174.5h0M455.5 173.4h0M452.9 171.2h0M452.1 158.1h0M449.7 165.1h0M454.8 170.2h0M456.1 162.3h0M457.3 174.3h0M448.1 172.1h0M455.2 170.0h0M448.0 176.8h0M449.3 174.6h0M453.0 169.7h0M457.9 168.2h0M462.0 175.5h0M458.0 169.5h0M457.1 161.6h0M450.3 172.0h0M453.5 169.3h0M449.6 174.3h0M450.0 155.4h0M454.8 176.7h0M454.0 173.9h0M452.4 170.8h0M450.0 163.3h0M448.6 161.6h0M464.7 151.8h0M449.5 175.2h0M449.0 165.7h0M458.4 174.1h0M450.4 173.1h0M457.2 175.8h0M454.9 175.7h0M458.7 172.9h0M453.9 176.1h0M448.6 170.6h0M451.9 175.8h0M448.1 175.9h0M455.1 175.3h0M453.4 176.9h0M449.9 171.0h0M455.7 174.9h0M449.0 175.8h0M454.8 173.3h0M458.3 174.9h0M450.9 175.2h0M452.2 168.6h0M458.0 171.2h0M454.3 173.9h0M448.7 176.0h0M454.3 176.4h0M453.1 168.5h0M456.9 173.2h0M460.2 169.5h0M455.4 174.7h0M449.0 169.8h0M453.4 175.7h0M450.5 175.3h0M451.8 172.0h0M451.4 173.7h0M453.1 174.2h0M448.6 176.6h0M449.4 175.0h0M457.1 175.0h0M450.9 172.2h0M449.3 176.2h0M454.4 173.6h0M459.8 175.5h0M448.9 177.1h0M451.3 173.9h0M449.4 174.1h0M453.6 177.1h0M448.1 176.5h0M449.7 174.0h0M463.5 176.8h0M455.7 166.8h0M450.9 174.6h0M452.5 173.0h0M448.4 173.2h0M451.9 177.0h0M452.0 176.6h0M454.8 176.6h0M450.0 176.2h0M452.8 174.7h0M448.1 177.1h0M463.0 175.5h0M453.4 175.4h0M457.5 176.4h0M462.7 176.9h0M454.6 164.2h0M449.2 176.4h0M449.4 176.0h0M451.3 171.8h0M457.5 177.1h0M448.2 177.1h0M466.1 176.5h0M458.9 172.2h0M464.2 173.8h0M451.9 173.5h0M456.9 172.5h0M460.0 173.4h0M451.6 175.8h0M465.2 174.6h0M456.5 172.4h0M453.7 176.4h0M448.4 174.7h0M449.8 176.3h0M451.2 169.7h0M448.8 176.1h0M450.3 176.2h0M448.7 166.9h0M460.0 176.0h0M455.8 175.8h0M450.1 174.8h0M460.7 175.7h0M459.9 174.7h0M450.9 175.4h0M457.1 174.2h0M458.3 176.4h0M452.1 174.8h0M448.3 175.0h0M459.7 173.8h0M453.9 174.9h0M451.9 175.2h0M449.8 175.5h0M460.2 174.6h0M455.2 176.8h0M459.0 174.7h0M455.3 176.5h0M452.8 177.0h0M449.1 173.9h0M455.6 164.0h0M454.9 168.4h0M455.9 169.3h0M449.5 176.1h0M455.2 174.7h0M451.6 176.9h0M454.9 175.4h0M476.5 124.6h0M468.8 166.0h0M459.4 164.0h0M457.6 159.3h0M487.0 120.7h0M479.1 151.3h0M472.5 148.8h0M480.9 128.8h0M474.9 114.9h0M482.0 167.4h0M452.1 157.0h0M462.4 119.7h0M460.5 162.5h0M476.6 150.5h0M470.7 166.0h0M465.3 147.4h0M483.8 148.1h0M487.1 167.4h0M475.2 130.5h0M455.7 152.2h0M480.9 161.2h0M480.3 162.3h0M487.6 138.0h0M477.9 139.5h0M483.4 115.1h0M452.7 166.7h0M452.9 160.9h0M483.2 132.6h0M473.3 166.1h0M479.4 156.6h0M478.6 136.9h0M479.7 119.5h0M464.1 152.2h0M487.2 144.7h0M473.5 165.9h0M459.1 117.3h0M470.0 155.4h0M484.3 167.6h0M456.4 113.8h0M486.6 154.2h0M476.9 160.8h0M464.9 165.8h0M452.2 152.8h0M478.3 159.1h0M470.2 158.6h0M473.2 152.2h0M504.6 109.8h0M474.0 123.3h0M470.2 137.1h0M486.3 143.9h0M463.3 140.8h0M500.1 117.1h0M477.0 138.5h0M501.2 95.3h0M497.4 145.8h0M501.5 147.4h0M500.6 128.0h0M482.6 132.8h0M502.2 114.9h0M472.1 131.8h0" fill="none" stroke="#ea352a" stroke-opacity="0.48" stroke-width="1.7" stroke-linecap="round"/>
<path d="M450.8 168.9h0M454.0 163.9h0M459.4 171.8h0M449.7 164.7h0M458.3 164.0h0M451.0 156.4h0M461.7 177.1h0M451.9 171.6h0M450.8 173.5h0M459.3 169.8h0M453.1 167.6h0M455.0 174.2h0M449.4 171.9h0M460.8 176.1h0M452.9 170.4h0M451.7 144.0h0M448.4 171.3h0M450.1 168.9h0M449.7 169.1h0M448.2 167.9h0M454.0 171.2h0M451.3 159.8h0M455.0 168.8h0M451.0 170.8h0M454.5 172.7h0M448.2 174.5h0M455.8 168.9h0M450.9 175.6h0M450.7 172.9h0M450.9 162.9h0M454.0 176.4h0M455.9 171.7h0M460.4 168.1h0M454.6 171.5h0M454.4 171.5h0M469.6 169.5h0M451.4 177.1h0M460.6 173.5h0M452.5 159.7h0M448.3 167.4h0M454.6 149.2h0M458.0 143.7h0M461.3 155.1h0M456.6 174.1h0M458.1 165.6h0M468.2 174.7h0M454.6 172.0h0M457.7 164.1h0M449.6 173.5h0M452.3 167.5h0M458.5 173.7h0M450.6 176.4h0M451.1 175.3h0M449.5 175.6h0M448.3 170.9h0M457.8 171.1h0M462.7 161.7h0M452.2 173.8h0M457.7 171.8h0M455.0 169.2h0M454.4 166.4h0M450.0 175.5h0M469.4 170.6h0M452.6 170.3h0M454.2 171.8h0M450.6 167.3h0M449.1 175.3h0M468.2 169.4h0M454.9 163.7h0M461.0 165.7h0M449.9 168.0h0M453.2 177.1h0M459.2 173.7h0M449.3 167.6h0M450.0 162.8h0M453.1 168.1h0M452.9 171.5h0M450.2 162.8h0M456.9 158.8h0M449.9 169.9h0M452.6 172.7h0M461.5 166.8h0M449.1 174.3h0M454.5 160.5h0M458.6 177.1h0M448.5 167.8h0M449.5 162.9h0M457.5 166.4h0M450.7 176.7h0M458.8 171.6h0M456.9 171.3h0M448.2 176.5h0M451.4 176.6h0M450.5 174.8h0M452.6 167.2h0M450.1 162.0h0M455.6 174.4h0M456.6 175.5h0M453.3 174.4h0M455.8 160.4h0M455.5 171.6h0M458.3 163.1h0M454.7 169.4h0M460.0 177.1h0M448.6 144.5h0M448.2 158.8h0M447.9 174.8h0M456.3 153.7h0M457.0 173.3h0M457.5 163.3h0M451.0 176.3h0M448.8 162.1h0M455.9 176.5h0M456.4 168.5h0M451.4 173.6h0M464.1 147.1h0M454.5 145.7h0M460.5 177.1h0M452.9 175.9h0M456.7 166.0h0M455.7 174.9h0M449.8 172.3h0M455.1 168.4h0M458.7 175.6h0M462.0 176.8h0M460.0 172.9h0M454.0 164.6h0M452.3 169.5h0M453.3 161.5h0M449.3 171.1h0M451.3 173.5h0M450.8 174.3h0M453.5 169.1h0M464.0 167.8h0M455.4 161.1h0M451.9 176.5h0M450.4 173.4h0M467.7 164.5h0M448.5 155.5h0M455.9 176.0h0M458.3 166.3h0M457.7 171.5h0M452.2 173.8h0M448.9 168.4h0M457.9 155.6h0M458.2 154.0h0M464.2 143.0h0M449.3 167.4h0M460.4 170.1h0M449.3 167.5h0M458.9 164.1h0M449.7 176.3h0M448.2 170.8h0M453.2 174.7h0M451.5 157.0h0M451.9 164.4h0M450.4 169.2h0M450.3 151.8h0M456.0 157.6h0M451.3 154.3h0M464.6 168.1h0M450.2 176.9h0M450.3 167.2h0M451.8 165.6h0M452.0 153.8h0M452.7 171.9h0M451.0 161.2h0M451.7 164.2h0M456.0 168.7h0M449.4 174.3h0M457.1 169.8h0M452.5 171.7h0M457.2 170.8h0M450.3 172.4h0M453.3 170.0h0M457.1 174.1h0M455.1 175.9h0M454.6 140.6h0M464.3 170.2h0M448.4 170.3h0M449.1 171.8h0M455.1 152.9h0M448.2 166.6h0M457.8 165.3h0M449.7 174.1h0M454.6 166.5h0M452.9 175.8h0M457.5 166.9h0M450.5 176.4h0M457.1 139.6h0M460.3 170.6h0M457.2 173.0h0M455.8 176.7h0M457.0 175.0h0M452.4 175.9h0M451.2 168.2h0M459.8 175.8h0M450.0 172.6h0M459.0 169.2h0M448.3 171.0h0M448.6 174.2h0M450.1 174.4h0M457.0 172.0h0M448.9 173.2h0M449.7 155.9h0M449.2 173.5h0M452.6 176.5h0M456.8 151.5h0M454.9 173.5h0M453.4 153.9h0M456.3 147.3h0M453.9 176.4h0M450.6 169.7h0M463.9 163.3h0M459.4 156.5h0M460.2 171.3h0M455.8 166.0h0M449.8 164.2h0M449.2 175.0h0M454.3 177.0h0M467.3 173.3h0M448.4 172.9h0M449.8 160.9h0M454.3 167.6h0M451.9 175.2h0M448.4 174.7h0M450.0 177.0h0M467.1 176.8h0M451.5 173.7h0M453.4 175.5h0M451.2 175.8h0M454.3 173.3h0M457.3 173.5h0M448.0 175.2h0M450.7 176.1h0M451.4 169.6h0M460.5 174.1h0M450.0 175.8h0M452.6 175.9h0M449.3 168.4h0M448.3 176.5h0M449.7 168.7h0M447.9 174.8h0M448.5 163.0h0M458.9 175.9h0M464.5 175.4h0M455.3 176.5h0M458.9 174.5h0M452.6 176.9h0M453.0 176.6h0M456.0 173.5h0M460.3 177.0h0M451.4 175.0h0M449.0 171.3h0M455.5 169.0h0M455.0 170.3h0M449.4 171.5h0M451.8 171.8h0M448.8 173.7h0M454.7 176.6h0M448.1 174.2h0M449.4 176.2h0M449.8 176.6h0M453.9 176.4h0M456.5 176.7h0M450.3 171.7h0M448.7 175.9h0M450.4 175.8h0M451.9 172.2h0M451.2 174.1h0M449.4 171.1h0M451.3 174.0h0M448.3 173.6h0M452.6 167.0h0M448.4 173.5h0M449.6 168.4h0M450.8 176.8h0M449.9 174.6h0M449.7 176.1h0M459.6 176.1h0M453.9 177.1h0M448.9 173.5h0M456.7 176.8h0M456.5 174.7h0M449.4 174.0h0M450.4 177.0h0M451.3 175.8h0M449.2 175.2h0M448.8 176.9h0M448.6 176.7h0M452.9 176.2h0M452.0 173.5h0M459.1 175.0h0M458.8 172.8h0M454.0 175.6h0M459.0 176.6h0M452.9 172.1h0M455.0 176.7h0M450.1 174.7h0M454.9 176.7h0M455.4 173.4h0M455.0 176.8h0M451.7 174.2h0M452.8 169.3h0M453.8 174.9h0M459.7 170.3h0M459.5 172.9h0M459.5 175.2h0M458.9 175.6h0M458.0 177.1h0M464.1 174.2h0M452.9 168.8h0M450.3 176.0h0M464.1 174.2h0M453.5 174.8h0M453.0 176.4h0M450.7 174.7h0M454.2 169.3h0M448.0 176.6h0M448.0 176.9h0M451.9 173.8h0M454.6 169.5h0M451.9 164.6h0M449.0 175.4h0M453.5 174.7h0M449.0 176.6h0M458.0 170.5h0M449.1 175.2h0M449.0 170.4h0M472.4 154.6h0M480.6 132.9h0M467.5 129.9h0M471.5 164.3h0M486.6 140.9h0M449.4 115.5h0M452.6 120.9h0M453.9 116.4h0M455.8 155.8h0M469.3 149.1h0M456.9 144.0h0M453.2 133.8h0M456.7 156.7h0M468.5 167.4h0M472.7 140.4h0M481.4 144.0h0M483.7 118.3h0M476.3 142.1h0M457.7 161.0h0M473.9 132.6h0M487.1 114.9h0M484.4 126.1h0M462.7 127.7h0M462.6 159.4h0M471.3 144.2h0M474.2 162.8h0M451.1 135.1h0M477.5 159.9h0M449.6 163.0h0M478.3 165.5h0M473.8 143.3h0M486.8 118.3h0M456.8 167.8h0M473.8 134.0h0M484.6 115.4h0M471.5 134.0h0M473.8 143.3h0M451.7 118.5h0M455.0 148.7h0M451.0 147.6h0M487.7 131.0h0M462.8 167.9h0M485.3 158.5h0M484.4 119.0h0M481.6 162.9h0M462.3 157.0h0M480.1 120.1h0M498.1 134.0h0M476.1 135.2h0M491.5 115.5h0M461.9 143.1h0M506.5 107.4h0M482.9 130.6h0M489.2 141.1h0M497.3 106.7h0M481.7 156.0h0M502.8 139.7h0M465.4 129.1h0M488.1 156.0h0M495.2 145.5h0" fill="none" stroke="#ea352a" stroke-opacity="0.48" stroke-width="1.7" stroke-linecap="round"/>
<path d="M461.0 135.4h0M454.2 164.4h0M448.2 176.3h0M456.5 167.4h0M454.5 171.5h0M451.7 175.3h0M456.5 137.3h0M454.5 156.5h0M458.6 143.4h0M451.3 173.9h0M451.8 171.0h0M450.0 165.6h0M464.5 171.0h0M452.1 134.6h0M448.8 160.4h0M456.7 166.2h0M455.8 175.9h0M454.1 176.2h0M460.4 161.5h0M449.6 176.3h0M455.4 123.2h0M449.3 163.4h0M452.1 171.7h0M451.3 166.9h0M458.9 177.1h0M453.0 168.2h0M455.5 174.2h0M450.7 174.8h0M461.3 164.8h0M448.5 170.8h0M451.7 168.5h0M453.4 156.1h0M447.9 167.6h0M448.3 166.5h0M457.2 161.6h0M452.0 160.1h0M449.5 149.5h0M464.8 176.3h0M452.1 176.2h0M451.9 176.6h0M449.7 158.1h0M449.0 151.0h0M453.9 170.8h0M449.3 170.4h0M451.9 173.0h0M448.4 172.8h0M460.1 172.3h0M457.7 148.6h0M448.6 164.6h0M455.2 174.4h0M455.5 172.7h0M454.2 170.3h0M449.6 174.1h0M458.9 176.2h0M455.8 176.9h0M452.5 176.4h0M455.4 175.2h0M458.5 170.1h0M450.8 176.8h0M449.5 171.9h0M450.4 171.9h0M474.2 164.1h0M447.9 171.6h0M449.1 167.4h0M450.2 162.4h0M456.5 175.0h0M449.1 167.7h0M458.6 170.3h0M448.0 176.1h0M454.9 163.7h0M448.3 161.0h0M451.3 147.3h0M462.2 136.4h0M454.7 170.1h0M464.6 173.3h0M463.1 167.5h0M449.3 173.1h0M448.3 163.4h0M448.3 171.8h0M457.4 169.3h0M458.5 173.6h0M449.2 170.3h0M450.9 175.3h0M455.3 173.2h0M455.9 161.7h0M466.1 172.1h0M465.0 168.0h0M452.5 175.7h0M448.1 176.2h0M450.5 166.0h0M459.4 166.4h0M454.2 169.4h0M452.8 175.3h0M450.6 171.5h0M451.5 168.3h0M451.4 173.6h0M448.1 176.6h0M459.2 177.1h0M456.8 170.2h0M456.2 161.5h0M457.8 174.0h0M452.7 165.7h0M454.4 175.0h0M450.8 172.4h0M457.4 167.0h0M461.7 164.5h0M455.7 174.5h0M451.1 145.2h0M460.0 135.3h0M448.6 175.4h0M453.8 175.8h0M464.5 159.3h0M458.1 144.2h0M449.3 175.1h0M454.3 175.3h0M455.8 172.4h0M453.6 176.3h0M451.1 174.2h0M451.0 170.0h0M454.6 172.8h0M461.7 170.5h0M448.4 171.7h0M453.8 174.1h0M450.6 170.5h0M452.4 177.1h0M455.2 175.9h0M448.5 143.1h0M449.3 161.7h0M468.0 160.0h0M458.1 169.1h0M454.7 176.7h0M448.3 164.0h0M453.6 163.6h0M456.6 175.2h0M449.9 165.4h0M467.4 166.5h0M460.7 170.6h0M452.6 156.2h0M473.3 150.9h0M453.1 154.3h0M465.0 170.3h0M448.2 156.1h0M455.5 162.5h0M455.5 176.0h0M450.3 174.2h0M453.1 162.6h0M463.0 165.1h0M459.5 166.2h0M461.2 158.9h0M458.9 176.8h0M447.9 171.3h0M460.4 175.8h0M453.5 177.0h0M455.6 176.3h0M452.1 177.0h0M453.9 149.6h0M456.1 149.5h0M457.0 162.2h0M451.3 177.0h0M459.3 175.8h0M448.8 165.0h0M452.1 165.3h0M452.0 167.8h0M449.3 169.9h0M453.8 176.8h0M457.8 176.4h0M453.0 176.9h0M452.6 172.8h0M452.1 165.8h0M452.1 148.0h0M457.9 144.4h0M457.5 165.0h0M450.2 146.1h0M450.4 171.6h0M459.1 171.4h0M450.8 168.9h0M454.5 163.9h0M455.7 176.9h0M458.4 172.1h0M451.1 154.3h0M452.7 159.7h0M452.5 159.7h0M456.5 169.8h0M456.4 176.1h0M453.9 168.8h0M453.4 174.9h0M450.8 168.1h0M450.1 163.2h0M451.0 171.5h0M448.4 175.7h0M461.4 167.3h0M452.0 148.2h0M448.5 174.5h0M449.4 170.5h0M467.1 172.6h0M457.7 175.7h0M463.4 169.9h0M450.1 166.1h0M454.6 175.9h0M450.2 173.8h0M459.9 174.7h0M471.2 172.5h0M454.0 130.4h0M461.4 152.6h0M454.7 167.0h0M448.4 173.9h0M464.1 176.9h0M453.8 168.1h0M448.3 142.7h0M451.8 170.8h0M450.4 169.5h0M450.1 172.9h0M453.9 173.7h0M453.8 174.1h0M450.8 174.4h0M462.0 171.1h0M454.0 174.1h0M469.8 175.7h0M452.3 164.4h0M455.8 171.9h0M448.2 167.8h0M452.1 151.2h0M455.5 159.2h0M451.8 176.6h0M454.5 176.4h0M454.8 176.0h0M449.8 176.4h0M453.2 171.7h0M448.2 173.2h0M448.4 169.6h0M455.7 173.2h0M456.8 175.2h0M454.0 175.0h0M452.0 171.6h0M456.4 176.6h0M457.8 176.6h0M456.7 176.4h0M449.1 171.7h0M453.0 175.7h0M451.0 176.6h0M462.3 173.8h0M459.5 176.6h0M448.6 176.7h0M455.1 176.3h0M448.4 168.0h0M451.1 167.9h0M459.0 173.4h0M448.6 176.9h0M453.2 176.7h0M453.9 173.0h0M449.8 175.7h0M451.1 174.9h0M461.7 177.0h0M451.6 175.8h0M449.9 174.6h0M456.1 165.6h0M452.2 175.4h0M450.0 176.2h0M452.5 176.6h0M453.8 175.8h0M451.1 176.6h0M453.6 174.7h0M457.9 176.8h0M455.5 171.7h0M448.6 172.8h0M448.2 171.4h0M448.6 176.4h0M458.0 169.5h0M449.2 174.1h0M453.4 176.2h0M459.6 175.3h0M455.5 171.2h0M455.8 176.8h0M455.4 167.7h0M450.6 173.9h0M452.8 173.3h0M459.5 176.4h0M448.3 176.9h0M453.7 176.6h0M450.8 176.2h0M457.9 176.1h0M452.1 163.8h0M462.8 173.8h0M456.5 174.1h0M457.7 165.6h0M447.9 174.4h0M453.4 176.2h0M451.8 175.0h0M457.5 176.8h0M461.7 176.4h0M456.3 175.4h0M449.2 176.9h0M463.1 175.7h0M455.1 176.5h0M457.0 175.7h0M451.0 170.9h0M466.3 177.1h0M458.9 166.5h0M453.0 176.2h0M450.7 164.5h0M448.5 174.6h0M448.7 176.7h0M450.4 175.1h0M449.3 175.1h0M448.2 177.1h0M455.3 175.3h0M452.6 169.1h0M452.2 168.2h0M455.7 175.7h0M449.2 175.2h0M455.9 171.9h0M451.8 171.7h0M461.3 177.1h0M449.1 165.4h0M454.3 176.4h0M449.8 173.0h0M449.0 176.3h0M457.3 166.3h0M451.5 176.3h0M457.1 175.3h0M456.0 176.0h0M453.5 175.6h0M455.2 174.6h0M448.9 175.5h0M448.6 174.4h0M458.4 173.4h0M448.0 173.6h0M451.7 174.1h0M458.8 166.7h0M480.0 143.0h0M458.7 167.9h0M466.2 122.0h0M454.9 157.0h0M479.9 113.3h0M474.2 159.7h0M462.0 162.3h0M475.9 166.6h0M455.9 126.2h0M460.1 114.2h0M458.4 152.1h0M457.6 142.5h0M482.7 166.5h0M449.6 157.2h0M476.6 118.0h0M450.8 130.7h0M478.9 148.8h0M470.5 160.6h0M480.7 135.3h0M472.3 167.4h0M480.7 124.1h0M484.5 120.3h0M481.2 151.3h0M456.5 139.1h0M465.1 167.7h0M482.3 150.5h0M468.2 138.3h0M453.6 136.7h0M471.7 143.8h0M468.0 128.8h0M468.3 140.0h0M480.1 164.8h0M482.7 114.9h0M483.9 153.2h0M450.4 128.9h0M462.7 143.4h0M480.3 124.5h0M452.3 152.8h0M473.7 127.4h0M462.7 167.5h0M450.5 139.6h0M461.6 156.3h0M463.4 166.4h0M467.2 140.9h0M467.8 157.2h0M497.4 128.6h0M494.8 128.9h0M487.9 116.6h0M468.1 144.1h0M492.8 112.3h0M505.9 123.1h0M475.1 116.4h0M476.1 118.1h0M489.2 157.6h0M470.1 136.0h0M491.9 114.4h0M462.4 158.1h0M476.5 154.4h0M461.8 129.7h0M471.2 137.9h0" fill="none" stroke="#ea352a" stroke-opacity="0.48" stroke-width="1.7" stroke-linecap="round"/>
<line x1="352.30" y1="177.40" x2="519.00" y2="177.40" stroke="#231f20" stroke-width="0.7" stroke-dasharray="2.6 1.6"/>
<line x1="434.40" y1="34.00" x2="434.40" y2="187.00" stroke="#231f20" stroke-width="0.7" stroke-dasharray="2.6 1.6"/>
<line x1="448.40" y1="34.00" x2="448.40" y2="187.00" stroke="#231f20" stroke-width="0.7" stroke-dasharray="2.6 1.6"/>
<line x1="352.30" y1="33.50" x2="352.30" y2="187.00" stroke="#231f20" stroke-width="0.7"/>
<line x1="352.00" y1="187.00" x2="519.50" y2="187.00" stroke="#231f20" stroke-width="0.7"/>
<line x1="350.20" y1="147.40" x2="352.30" y2="147.40" stroke="#231f20" stroke-width="0.6"/>
<text x="348.50" y="149.90" font-size="6.9" text-anchor="end" fill="#231f20">10</text>
<line x1="350.20" y1="113.20" x2="352.30" y2="113.20" stroke="#231f20" stroke-width="0.6"/>
<text x="348.50" y="115.70" font-size="6.9" text-anchor="end" fill="#231f20">20</text>
<line x1="350.20" y1="79.00" x2="352.30" y2="79.00" stroke="#231f20" stroke-width="0.6"/>
<text x="348.50" y="81.50" font-size="6.9" text-anchor="end" fill="#231f20">30</text>
<line x1="350.20" y1="44.80" x2="352.30" y2="44.80" stroke="#231f20" stroke-width="0.6"/>
<text x="348.50" y="47.30" font-size="6.9" text-anchor="end" fill="#231f20">40</text>
<line x1="358.50" y1="187.00" x2="358.50" y2="189.00" stroke="#231f20" stroke-width="0.6"/>
<text x="358.50" y="196.50" font-size="6.9" text-anchor="middle" fill="#231f20">–6</text>
<line x1="386.00" y1="187.00" x2="386.00" y2="189.00" stroke="#231f20" stroke-width="0.6"/>
<text x="386.00" y="196.50" font-size="6.9" text-anchor="middle" fill="#231f20">–4</text>
<line x1="413.50" y1="187.00" x2="413.50" y2="189.00" stroke="#231f20" stroke-width="0.6"/>
<text x="413.50" y="196.50" font-size="6.9" text-anchor="middle" fill="#231f20">–2</text>
<line x1="441.00" y1="187.00" x2="441.00" y2="189.00" stroke="#231f20" stroke-width="0.6"/>
<text x="441.00" y="196.50" font-size="6.9" text-anchor="middle" fill="#231f20">0</text>
<line x1="468.50" y1="187.00" x2="468.50" y2="189.00" stroke="#231f20" stroke-width="0.6"/>
<text x="468.50" y="196.50" font-size="6.9" text-anchor="middle" fill="#231f20">2</text>
<line x1="496.00" y1="187.00" x2="496.00" y2="189.00" stroke="#231f20" stroke-width="0.6"/>
<text x="496.00" y="196.50" font-size="6.9" text-anchor="middle" fill="#231f20">4</text>
<text x="441" y="207" font-size="6.9" text-anchor="middle" fill="#231f20">Log<tspan font-size="4.6" dy="1.6">2</tspan><tspan dy="-1.6"> (FC)</tspan></text>
<text x="330.5" y="111" font-size="6.9" text-anchor="middle" fill="#231f20" transform="rotate(-90 330.5 111)">–Log<tspan font-size="4.6" dy="1.6">10</tspan><tspan dy="-1.6"> (FDR)</tspan></text>
<text x="403.80" y="84.20" font-size="7.7" font-style="italic" fill="#231f20">DLK1</text>
<text x="425.80" y="97.70" font-size="7.7" font-style="italic" fill="#231f20">DLL4</text>
<text x="449.60" y="96.90" font-size="7.7" font-style="italic" fill="#231f20">HBEGF</text>
<text x="475.00" y="100.40" font-size="7.7" font-style="italic" fill="#231f20">ANGPT2</text>
<text x="439.20" y="110.70" font-size="7.7" font-style="italic" fill="#231f20">COL4A1</text>
<text x="486.00" y="112.70" font-size="7.7" font-style="italic" fill="#231f20">MCAM</text>
<text x="447.00" y="123.50" font-size="7.7" font-style="italic" fill="#231f20">ITGA2</text>
<text x="481.50" y="126.20" font-size="7.7" font-style="italic" fill="#231f20">KITLG</text>
<text x="440.40" y="130.70" font-size="7.7" font-style="italic" fill="#231f20">CD34</text>
<text x="496.00" y="133.70" font-size="7.7" font-style="italic" fill="#231f20">JAG1</text>
<text x="466.00" y="140.00" font-size="7.7" font-style="italic" fill="#231f20">SEMA3F</text>
<text x="497.70" y="145.70" font-size="7.7" font-style="italic" fill="#231f20">ITGA6</text>
<text x="440.00" y="151.90" font-size="7.7" font-style="italic" fill="#231f20">JAM3</text>
<text x="472.70" y="160.00" font-size="7.7" font-style="italic" fill="#231f20">FLT4</text>
<text x="492.00" y="159.20" font-size="7.7" font-style="italic" fill="#231f20">JAG2</text>
<text x="478.00" y="183.50" font-size="7.7" font-style="italic" fill="#231f20">CDC42EP1</text>
</g>
<g id="panelE">
<text x="127.50" y="290.20" font-size="9.5" font-weight="bold" stroke="none" fill="#000">E</text>
<rect x="181.50" y="294.20" width="6.30" height="6.00" fill="#2a7dc6"/>
<rect x="181.50" y="304.60" width="6.30" height="6.00" fill="#e73b2d"/>
<text x="192.00" y="299.80" font-size="7.3" fill="#231f20">VEGFA</text>
<text x="192.00" y="310.20" font-size="7.3" fill="#231f20">VEGFA + C</text>
<path d="M182.00 384.60C181.92 384.29 182.33 383.35 181.50 382.73C180.67 382.10 177.97 381.58 177.00 380.85C176.03 380.12 175.80 379.39 175.70 378.35C175.60 377.31 176.42 375.85 176.40 374.60C176.38 373.35 175.78 372.52 175.60 370.85C175.42 369.18 175.38 367.10 175.30 364.60C175.22 362.10 175.13 357.31 175.10 355.85L174.90 355.85C174.87 357.31 174.78 362.10 174.70 364.60C174.62 367.10 174.58 369.18 174.40 370.85C174.22 372.52 173.62 373.35 173.60 374.60C173.58 375.85 174.40 377.31 174.30 378.35C174.20 379.39 173.97 380.12 173.00 380.85C172.03 381.58 169.33 382.10 168.50 382.73C167.67 383.35 168.08 384.29 168.00 384.60Z" fill="#2a7dc6" stroke="#1a1a1a" stroke-width="0.35" stroke-linejoin="round"/>
<path d="M175.2 370.6h0M175.2 365.4h0M175.3 367.1h0M174.6 384.3h0M175.0 360.6h0M174.9 362.0h0M174.5 374.9h0M175.1 372.9h0M171.8 384.5h0M175.9 379.7h0M174.8 366.3h0M174.8 365.3h0M174.6 370.8h0M179.2 384.6h0M173.7 381.2h0M175.1 359.3h0M175.9 379.4h0M175.3 373.0h0M177.2 381.3h0M175.4 368.6h0M174.9 362.2h0M174.6 377.7h0M170.9 382.5h0M175.2 379.2h0M177.0 384.6h0M174.8 378.3h0M175.0 364.7h0M175.0 378.8h0M174.7 368.2h0M174.9 359.6h0M175.2 366.8h0M178.2 384.5h0M175.1 377.6h0M169.9 384.5h0M178.1 381.8h0M176.4 381.5h0M175.2 361.1h0M174.8 378.1h0M175.5 373.4h0M177.6 383.2h0M175.2 365.3h0M179.9 384.2h0M173.3 383.4h0M175.4 371.0h0M175.5 378.2h0M174.7 372.8h0M174.5 378.8h0M171.2 383.7h0M175.4 368.7h0M171.2 382.2h0M175.0 359.2h0M174.6 376.6h0M175.4 371.5h0M174.8 375.3h0M179.6 384.0h0M174.9 384.3h0M174.8 364.0h0M175.3 367.4h0M175.3 370.4h0M174.3 383.2h0M178.2 382.4h0M174.9 379.3h0M175.1 358.7h0M175.0 359.5h0M175.5 374.4h0M174.5 374.7h0M174.4 376.6h0M175.7 377.3h0M175.0 360.1h0M174.7 374.1h0" fill="none" stroke="#0d3d6b" stroke-opacity="0.6" stroke-width="0.76" stroke-linecap="round"/>
<path d="M172.5 382.5h0M179.0 366.6h0M178.1 376.3h0M177.1 366.8h0M177.9 369.3h0M177.2 376.2h0M174.8 378.1h0M177.1 366.9h0M179.9 377.8h0M175.9 369.7h0M175.5 384.3h0M176.9 378.8h0M178.5 374.0h0M178.3 369.7h0" fill="none" stroke="#2a7dc6" stroke-opacity="0.35" stroke-width="0.7" stroke-linecap="round"/>
<path d="M196.50 384.60C196.42 384.29 196.75 383.45 196.00 382.73C195.25 382.00 192.90 381.16 192.00 380.23C191.10 379.29 190.70 378.45 190.60 377.10C190.50 375.75 191.43 373.77 191.40 372.10C191.37 370.43 190.65 369.18 190.40 367.10C190.15 365.02 190.03 362.93 189.90 359.60C189.77 356.27 189.65 349.18 189.60 347.10L189.40 347.10C189.35 349.18 189.23 356.27 189.10 359.60C188.97 362.93 188.85 365.02 188.60 367.10C188.35 369.18 187.63 370.43 187.60 372.10C187.57 373.77 188.50 375.75 188.40 377.10C188.30 378.45 187.90 379.29 187.00 380.23C186.10 381.16 183.75 382.00 183.00 382.73C182.25 383.45 182.58 384.29 182.50 384.60Z" fill="#e73b2d" stroke="#1a1a1a" stroke-width="0.35" stroke-linejoin="round"/>
<path d="M189.8 376.0h0M189.8 361.9h0M190.2 376.0h0M189.6 356.4h0M189.7 351.9h0M189.6 370.2h0M191.8 381.3h0M189.5 353.6h0M189.7 363.7h0M189.2 362.2h0M189.6 360.2h0M189.4 364.7h0M189.9 366.3h0M189.8 365.8h0M185.7 384.3h0M189.9 373.0h0M190.2 379.9h0M188.9 366.1h0M188.7 371.9h0M185.5 383.8h0M188.9 377.0h0M187.2 380.6h0M189.1 372.1h0M189.6 366.8h0M190.9 379.4h0M188.4 384.6h0M189.3 378.2h0M192.8 382.6h0M188.5 375.2h0M188.9 366.7h0M189.2 369.3h0M190.3 367.9h0M189.5 358.6h0M189.6 358.8h0M188.7 375.4h0M189.6 367.4h0M189.7 352.7h0M189.3 366.9h0M189.3 355.4h0M190.2 382.7h0M189.0 366.7h0M190.0 366.1h0M189.3 375.1h0M188.7 379.7h0M189.5 352.1h0M189.7 352.5h0M189.1 367.4h0M189.5 351.7h0M189.0 373.8h0M189.5 351.5h0M189.4 378.0h0M190.7 382.4h0M188.9 372.9h0M189.7 360.1h0M189.9 384.5h0M190.7 378.3h0M189.3 360.1h0M188.5 378.5h0M189.4 351.3h0M189.5 366.9h0M189.6 365.5h0M189.2 361.6h0M189.3 361.0h0M189.1 369.7h0M189.6 377.6h0M189.1 372.2h0M189.6 361.6h0M186.8 384.1h0M190.7 372.5h0M189.5 355.7h0" fill="none" stroke="#6b130c" stroke-opacity="0.6" stroke-width="0.76" stroke-linecap="round"/>
<path d="M192.6 384.2h0M190.3 371.8h0M191.0 363.4h0M194.0 370.1h0M188.3 373.0h0M186.2 359.0h0M193.1 375.7h0M193.2 382.6h0M188.8 363.8h0M192.6 376.0h0M185.6 357.3h0M190.0 370.2h0M187.6 369.7h0M190.4 380.0h0" fill="none" stroke="#e73b2d" stroke-opacity="0.35" stroke-width="0.7" stroke-linecap="round"/>
<circle cx="175.00" cy="384.35" r="0.75" fill="#0a0a0a"/>
<circle cx="189.50" cy="383.35" r="0.75" fill="#0a0a0a"/>
<text x="183.90" y="393.30" font-size="7.2" text-anchor="end" font-style="italic" fill="#231f20" transform="rotate(-90 183.90 393.30)">FLT4</text>
<text x="196.90" y="393.30" font-size="7.0" text-anchor="end" fill="#231f20" transform="rotate(-90 196.90 393.30)" letter-spacing="0.3">***</text>
<path d="M212.95 384.60C212.92 384.29 213.38 383.56 212.75 382.73C212.12 381.89 209.92 380.75 209.15 379.60C208.38 378.45 208.25 377.73 208.15 375.85C208.05 373.98 208.55 371.06 208.55 368.35C208.55 365.64 208.42 362.31 208.15 359.60C207.88 356.89 207.30 355.23 206.95 352.10C206.60 348.98 206.20 342.73 206.05 340.85L205.85 340.85C205.70 342.73 205.30 348.98 204.95 352.10C204.60 355.23 204.02 356.89 203.75 359.60C203.48 362.31 203.35 365.64 203.35 368.35C203.35 371.06 203.85 373.98 203.75 375.85C203.65 377.73 203.52 378.45 202.75 379.60C201.98 380.75 199.78 381.89 199.15 382.73C198.52 383.56 198.98 384.29 198.95 384.60Z" fill="#2a7dc6" stroke="#1a1a1a" stroke-width="0.35" stroke-linejoin="round"/>
<path d="M205.0 354.6h0M207.5 378.8h0M206.4 355.5h0M208.4 384.3h0M206.4 346.3h0M204.4 359.8h0M205.4 353.1h0M207.6 362.3h0M204.7 359.3h0M207.6 376.6h0M206.9 381.3h0M204.6 372.1h0M204.2 363.3h0M204.7 382.4h0M201.1 383.3h0M206.9 365.4h0M205.4 351.3h0M205.2 371.4h0M205.9 364.3h0M205.8 348.3h0M208.1 383.7h0M207.0 381.2h0M207.7 368.4h0M206.4 366.3h0M206.2 377.7h0M207.1 378.0h0M204.4 367.9h0M205.3 378.6h0M204.9 358.1h0M206.5 359.2h0M207.8 383.0h0M201.9 382.8h0M204.9 364.6h0M205.9 351.4h0M207.0 375.5h0M208.5 384.2h0M202.1 383.7h0M206.1 347.7h0M204.1 379.0h0M206.1 346.6h0M205.2 354.1h0M205.4 363.2h0M205.2 378.6h0M205.4 363.7h0M204.6 373.2h0M206.2 353.6h0M205.8 354.9h0M206.0 352.6h0M206.2 364.7h0M205.6 358.0h0M200.9 382.7h0M203.5 379.7h0M205.9 350.8h0M204.5 357.0h0M207.5 369.8h0M205.7 363.5h0M204.3 370.0h0M203.2 381.1h0M205.5 373.6h0M205.4 351.2h0M205.0 378.0h0M204.3 380.9h0M205.9 378.6h0M210.7 384.1h0M207.6 373.8h0M206.6 360.4h0M207.7 369.8h0M207.6 382.2h0M206.6 376.7h0M204.9 358.5h0" fill="none" stroke="#0d3d6b" stroke-opacity="0.6" stroke-width="0.76" stroke-linecap="round"/>
<path d="M200.7 377.6h0M201.3 376.5h0M211.2 370.6h0M203.9 371.9h0M203.6 368.2h0M208.3 359.0h0M203.1 378.9h0M210.8 361.1h0M205.2 362.0h0M200.5 350.5h0M209.0 382.5h0M200.9 370.2h0M211.3 365.4h0M204.3 366.4h0" fill="none" stroke="#2a7dc6" stroke-opacity="0.35" stroke-width="0.7" stroke-linecap="round"/>
<path d="M225.45 384.60C225.42 384.18 225.48 383.14 225.25 382.10C225.02 381.06 224.25 380.02 224.05 378.35C223.85 376.68 223.82 374.81 224.05 372.10C224.28 369.39 225.28 365.23 225.45 362.10C225.62 358.98 225.48 356.27 225.05 353.35C224.62 350.43 223.48 347.31 222.85 344.60C222.22 341.89 221.63 339.18 221.25 337.10C220.87 335.02 220.67 332.93 220.55 332.10L220.35 332.10C220.23 332.93 220.03 335.02 219.65 337.10C219.27 339.18 218.68 341.89 218.05 344.60C217.42 347.31 216.28 350.43 215.85 353.35C215.42 356.27 215.28 358.98 215.45 362.10C215.62 365.23 216.62 369.39 216.85 372.10C217.08 374.81 217.05 376.68 216.85 378.35C216.65 380.02 215.88 381.06 215.65 382.10C215.42 383.14 215.48 384.18 215.45 384.60Z" fill="#e73b2d" stroke="#1a1a1a" stroke-width="0.35" stroke-linejoin="round"/>
<path d="M217.1 382.4h0M220.4 343.5h0M219.2 341.3h0M217.9 377.1h0M217.7 370.4h0M219.9 376.6h0M217.9 374.5h0M224.2 383.9h0M220.5 379.5h0M220.6 370.1h0M219.0 382.7h0M220.8 382.0h0M220.7 342.1h0M219.2 346.0h0M220.8 384.4h0M221.0 366.1h0M221.2 371.3h0M223.5 353.5h0M220.2 374.4h0M219.0 347.7h0M219.0 381.7h0M222.6 382.6h0M219.5 348.1h0M217.4 381.3h0M218.1 377.0h0M220.9 368.9h0M217.9 377.0h0M217.1 354.8h0M219.2 378.8h0M218.1 371.5h0M219.3 369.3h0M220.8 352.0h0M221.0 343.6h0M220.9 351.5h0M222.5 368.2h0M223.9 357.3h0M221.9 353.3h0M222.2 376.1h0M218.2 371.1h0M217.9 383.2h0M221.5 376.3h0M217.9 375.3h0M220.8 351.3h0M216.9 384.2h0M219.4 381.3h0M222.4 345.8h0M218.3 359.6h0M219.6 368.9h0M217.6 373.4h0M223.0 361.1h0M217.5 353.4h0M218.0 363.9h0M220.1 354.4h0M221.2 341.1h0M219.1 381.7h0M220.3 342.5h0M220.1 368.6h0M223.3 351.1h0M224.0 363.8h0M217.3 360.5h0M220.0 348.4h0M224.2 383.6h0M221.1 384.0h0M223.1 366.3h0M218.7 370.6h0M218.7 375.7h0M219.3 362.2h0M218.7 352.0h0M219.0 372.5h0M221.0 338.4h0" fill="none" stroke="#6b130c" stroke-opacity="0.6" stroke-width="0.76" stroke-linecap="round"/>
<path d="M221.7 348.9h0M216.5 367.8h0M220.3 349.7h0M216.8 383.0h0M222.8 380.5h0M217.1 346.8h0M218.5 351.1h0M224.4 355.9h0M223.8 358.4h0M215.1 368.8h0M221.4 363.1h0M219.2 376.8h0M215.2 371.3h0M219.2 371.5h0" fill="none" stroke="#e73b2d" stroke-opacity="0.35" stroke-width="0.7" stroke-linecap="round"/>
<circle cx="205.95" cy="374.60" r="0.75" fill="#0a0a0a"/>
<circle cx="220.45" cy="369.60" r="0.75" fill="#0a0a0a"/>
<text x="214.85" y="393.30" font-size="7.2" text-anchor="end" font-style="italic" fill="#231f20" transform="rotate(-90 214.85 393.30)">CD34</text>
<text x="227.85" y="393.30" font-size="7.0" text-anchor="end" fill="#231f20" transform="rotate(-90 227.85 393.30)" letter-spacing="0.3">****</text>
<path d="M243.90 384.60C243.87 384.29 244.30 383.56 243.70 382.73C243.10 381.89 241.03 380.75 240.30 379.60C239.57 378.45 239.37 377.93 239.30 375.85C239.23 373.77 239.92 369.81 239.90 367.10C239.88 364.39 239.53 362.52 239.20 359.60C238.87 356.68 238.27 352.93 237.90 349.60C237.53 346.27 237.15 341.27 237.00 339.60L236.80 339.60C236.65 341.27 236.27 346.27 235.90 349.60C235.53 352.93 234.93 356.68 234.60 359.60C234.27 362.52 233.92 364.39 233.90 367.10C233.88 369.81 234.57 373.77 234.50 375.85C234.43 377.93 234.23 378.45 233.50 379.60C232.77 380.75 230.70 381.89 230.10 382.73C229.50 383.56 229.93 384.29 229.90 384.60Z" fill="#2a7dc6" stroke="#1a1a1a" stroke-width="0.35" stroke-linejoin="round"/>
<path d="M237.8 369.2h0M238.9 372.3h0M237.9 353.5h0M237.5 359.5h0M238.3 366.6h0M237.3 373.8h0M237.0 360.1h0M235.1 376.7h0M235.3 382.9h0M238.1 364.6h0M236.2 358.4h0M236.6 347.8h0M235.4 358.4h0M237.4 356.6h0M237.3 346.4h0M238.2 359.7h0M237.3 357.3h0M237.0 379.3h0M236.5 349.5h0M236.9 345.4h0M234.8 372.6h0M235.6 372.7h0M238.5 361.3h0M237.1 348.8h0M235.3 372.8h0M237.1 359.7h0M236.5 358.4h0M236.4 350.0h0M236.0 375.9h0M238.5 362.7h0M237.9 380.6h0M236.1 355.9h0M237.6 383.5h0M237.8 352.8h0M236.6 357.8h0M237.0 371.3h0M236.6 349.0h0M237.3 376.8h0M236.6 345.9h0M232.6 384.2h0M237.4 365.4h0M234.9 380.1h0M237.5 364.0h0M237.7 359.6h0M236.7 383.5h0M237.9 352.6h0M238.3 375.5h0M238.6 361.7h0M237.9 378.6h0M236.8 352.3h0M233.7 382.5h0M233.7 381.0h0M237.8 381.1h0M239.6 382.4h0M237.9 357.4h0M237.4 354.1h0M237.5 348.1h0M238.8 362.6h0M232.7 382.5h0M233.7 383.5h0M236.7 373.3h0M237.8 360.0h0M235.8 383.0h0M236.3 366.3h0M237.8 382.1h0M237.7 373.3h0M239.1 368.3h0M236.4 347.0h0M237.6 356.3h0M235.4 376.3h0" fill="none" stroke="#0d3d6b" stroke-opacity="0.6" stroke-width="0.76" stroke-linecap="round"/>
<path d="M235.3 367.4h0M241.5 358.1h0M234.6 370.8h0M239.1 366.6h0M237.7 356.2h0M235.1 373.9h0M237.1 354.1h0M236.0 382.8h0M238.7 376.0h0M234.4 382.0h0M236.7 381.1h0M237.4 349.2h0M241.7 370.7h0M235.3 381.3h0" fill="none" stroke="#2a7dc6" stroke-opacity="0.35" stroke-width="0.7" stroke-linecap="round"/>
<path d="M255.00 384.60C254.97 383.98 254.85 382.52 254.80 380.85C254.75 379.18 254.47 377.31 254.70 374.60C254.93 371.89 255.75 368.14 256.20 364.60C256.65 361.06 257.40 356.68 257.40 353.35C257.40 350.02 256.87 347.73 256.20 344.60C255.53 341.48 254.18 338.14 253.40 334.60C252.62 331.06 251.82 325.23 251.50 323.35L251.30 323.35C250.98 325.23 250.18 331.06 249.40 334.60C248.62 338.14 247.27 341.48 246.60 344.60C245.93 347.73 245.40 350.02 245.40 353.35C245.40 356.68 246.15 361.06 246.60 364.60C247.05 368.14 247.87 371.89 248.10 374.60C248.33 377.31 248.05 379.18 248.00 380.85C247.95 382.52 247.83 383.98 247.80 384.60Z" fill="#e73b2d" stroke="#1a1a1a" stroke-width="0.35" stroke-linejoin="round"/>
<path d="M248.0 342.6h0M250.3 345.6h0M250.0 384.3h0M250.5 364.6h0M247.7 361.2h0M253.9 377.0h0M251.2 365.5h0M250.2 382.4h0M251.9 332.7h0M247.8 361.8h0M253.3 368.2h0M252.1 365.9h0M252.0 336.4h0M247.0 354.0h0M252.9 384.2h0M254.0 367.1h0M254.0 341.6h0M254.7 369.0h0M254.6 346.3h0M252.9 380.0h0M254.8 366.6h0M250.9 329.9h0M249.8 366.7h0M249.7 364.0h0M247.9 352.1h0M251.2 379.1h0M250.7 382.7h0M253.0 336.7h0M248.8 378.0h0M254.3 341.4h0M248.1 356.3h0M253.6 376.1h0M250.0 333.9h0M251.0 378.5h0M252.7 374.7h0M253.2 369.3h0M251.5 379.8h0M251.9 331.3h0M249.2 382.2h0M250.2 353.5h0M251.3 369.5h0M255.6 357.3h0M251.8 375.9h0M251.6 374.9h0M248.3 347.9h0M253.0 363.3h0M253.0 384.5h0M251.4 366.8h0M254.1 355.6h0M251.4 383.3h0M250.7 383.8h0M248.4 370.7h0M251.1 373.2h0M255.4 352.8h0M251.6 369.4h0M255.2 349.1h0M252.8 333.1h0M249.5 373.0h0M250.1 334.3h0M253.2 365.1h0M250.5 360.5h0M250.7 334.8h0M254.2 359.2h0M250.6 380.4h0M251.9 362.5h0M251.2 377.5h0M249.1 383.2h0M249.2 370.9h0M250.8 331.8h0M252.9 374.3h0" fill="none" stroke="#6b130c" stroke-opacity="0.6" stroke-width="0.76" stroke-linecap="round"/>
<path d="M248.8 348.3h0M252.8 344.0h0M252.8 365.6h0M248.8 372.6h0M250.7 341.7h0M247.8 340.6h0M246.5 377.9h0M252.1 348.4h0M246.4 384.1h0M251.3 344.2h0M246.3 341.9h0M247.2 355.7h0M252.6 349.3h0M248.3 354.6h0" fill="none" stroke="#e73b2d" stroke-opacity="0.35" stroke-width="0.7" stroke-linecap="round"/>
<circle cx="236.90" cy="374.60" r="0.75" fill="#0a0a0a"/>
<circle cx="251.40" cy="365.85" r="0.75" fill="#0a0a0a"/>
<text x="245.80" y="393.30" font-size="7.2" text-anchor="end" font-style="italic" fill="#231f20" transform="rotate(-90 245.80 393.30)">MCAM</text>
<text x="258.80" y="393.30" font-size="7.0" text-anchor="end" fill="#231f20" transform="rotate(-90 258.80 393.30)" letter-spacing="0.3">****</text>
<path d="M274.85 384.60C274.78 384.29 275.22 383.35 274.45 382.73C273.68 382.10 271.20 381.58 270.25 380.85C269.30 380.12 269.07 379.81 268.75 378.35C268.43 376.89 268.43 375.23 268.35 372.10C268.27 368.98 268.29 364.81 268.25 359.60C268.21 354.39 268.15 347.52 268.10 340.85C268.05 334.18 267.98 323.14 267.95 319.60L267.75 319.60C267.73 323.14 267.65 334.18 267.60 340.85C267.55 347.52 267.49 354.39 267.45 359.60C267.41 364.81 267.43 368.98 267.35 372.10C267.27 375.23 267.27 376.89 266.95 378.35C266.63 379.81 266.40 380.12 265.45 380.85C264.50 381.58 262.02 382.10 261.25 382.73C260.48 383.35 260.92 384.29 260.85 384.60Z" fill="#2a7dc6" stroke="#1a1a1a" stroke-width="0.35" stroke-linejoin="round"/>
<path d="M267.7 329.9h0M269.8 383.0h0M264.5 381.9h0M268.0 363.3h0M267.9 334.2h0M269.4 382.8h0M267.7 337.7h0M267.7 344.0h0M267.4 372.4h0M267.9 343.8h0M267.8 333.4h0M267.2 379.4h0M268.3 374.3h0M267.3 377.1h0M267.5 369.5h0M267.9 365.4h0M267.7 351.1h0M267.8 380.1h0M267.8 348.7h0M268.1 356.2h0M267.2 379.8h0M267.9 361.2h0M267.9 333.6h0M267.8 350.4h0M268.0 341.9h0M267.5 372.7h0M267.7 374.5h0M267.8 334.3h0M267.9 352.6h0M267.7 329.4h0M267.8 343.0h0M268.7 381.6h0M267.9 337.7h0M272.9 383.4h0M268.0 367.7h0M267.7 346.2h0M267.7 366.3h0M264.7 381.8h0M267.8 346.6h0M267.7 335.8h0M267.6 372.3h0M267.9 330.4h0M267.9 333.9h0M267.3 381.5h0M267.3 376.1h0M267.7 356.8h0M267.9 381.4h0M268.0 331.1h0M267.6 362.9h0M267.7 343.0h0M267.6 358.5h0M267.9 327.1h0M267.7 364.6h0M268.1 357.6h0M267.6 365.2h0M268.1 359.9h0M267.9 367.9h0M267.8 332.2h0M267.9 340.1h0M266.5 380.1h0M267.8 330.7h0M268.1 364.3h0M267.9 356.2h0M268.1 373.2h0M267.8 374.6h0M267.9 343.8h0M266.9 380.3h0M268.0 348.1h0M271.0 381.6h0M266.7 380.3h0" fill="none" stroke="#0d3d6b" stroke-opacity="0.6" stroke-width="0.76" stroke-linecap="round"/>
<path d="M267.3 379.9h0M271.8 352.4h0M270.0 376.1h0M268.7 379.1h0M266.3 371.5h0M270.3 381.9h0M270.8 378.2h0M268.9 367.1h0M267.7 351.4h0M272.5 339.2h0M266.0 369.9h0M263.8 339.0h0M266.9 362.8h0M263.8 333.8h0" fill="none" stroke="#2a7dc6" stroke-opacity="0.35" stroke-width="0.7" stroke-linecap="round"/>
<path d="M289.35 384.60C289.27 384.18 289.45 383.14 288.85 382.10C288.25 381.06 286.33 380.02 285.75 378.35C285.17 376.68 285.32 375.23 285.35 372.10C285.38 368.98 285.87 363.77 285.95 359.60C286.03 355.43 285.98 351.27 285.85 347.10C285.72 342.93 285.47 338.77 285.15 334.60C284.83 330.43 284.38 325.64 283.95 322.10C283.52 318.56 282.78 314.81 282.55 313.35L282.15 313.35C281.92 314.81 281.18 318.56 280.75 322.10C280.32 325.64 279.87 330.43 279.55 334.60C279.23 338.77 278.98 342.93 278.85 347.10C278.72 351.27 278.67 355.43 278.75 359.60C278.83 363.77 279.32 368.98 279.35 372.10C279.38 375.23 279.53 376.68 278.95 378.35C278.37 380.02 276.45 381.06 275.85 382.10C275.25 383.14 275.43 384.18 275.35 384.60Z" fill="#e73b2d" stroke="#1a1a1a" stroke-width="0.35" stroke-linejoin="round"/>
<path d="M283.8 347.6h0M279.8 342.1h0M281.8 325.1h0M283.0 332.4h0M284.2 363.8h0M281.5 346.1h0M282.4 341.9h0M283.0 343.4h0M280.8 336.9h0M279.5 358.9h0M283.6 337.3h0M280.4 333.7h0M282.2 356.1h0M279.9 380.5h0M283.3 322.6h0M284.0 374.7h0M281.7 347.9h0M280.8 348.4h0M280.0 372.7h0M282.8 347.5h0M282.4 341.0h0M281.3 362.9h0M281.7 341.6h0M283.8 351.8h0M283.4 362.2h0M279.8 382.9h0M280.8 333.4h0M277.2 383.1h0M280.4 339.2h0M282.0 361.4h0M282.2 336.4h0M279.6 357.1h0M283.6 337.0h0M284.2 349.9h0M283.6 350.6h0M282.8 332.6h0M286.6 384.2h0M281.6 321.3h0M280.7 382.7h0M281.1 381.4h0M279.5 381.8h0M281.6 384.6h0M283.5 371.2h0M280.6 365.8h0M283.5 324.3h0M280.8 345.1h0M282.1 364.9h0M279.8 364.6h0M283.9 361.5h0M284.3 344.8h0M283.8 345.5h0M284.0 331.0h0M282.0 337.2h0M283.2 347.3h0M283.2 330.1h0M280.6 362.3h0M281.1 369.6h0M283.8 345.6h0M282.5 377.1h0M281.8 333.5h0M283.4 381.6h0M280.5 367.5h0M280.0 371.9h0M281.9 379.2h0M277.8 381.2h0M285.0 355.1h0M281.6 334.0h0M281.0 326.7h0M279.2 379.1h0M283.4 383.0h0" fill="none" stroke="#6b130c" stroke-opacity="0.6" stroke-width="0.76" stroke-linecap="round"/>
<path d="M282.1 341.5h0M281.8 338.8h0M283.5 332.2h0M278.7 354.0h0M281.7 360.3h0M279.4 337.7h0M285.8 367.8h0M282.8 380.6h0M284.2 372.1h0M277.9 350.7h0M281.3 343.0h0M286.3 366.3h0M280.3 340.2h0M278.2 346.0h0" fill="none" stroke="#e73b2d" stroke-opacity="0.35" stroke-width="0.7" stroke-linecap="round"/>
<circle cx="267.85" cy="383.98" r="0.75" fill="#0a0a0a"/>
<circle cx="282.35" cy="364.60" r="0.75" fill="#0a0a0a"/>
<text x="276.75" y="393.30" font-size="7.2" text-anchor="end" font-style="italic" fill="#231f20" transform="rotate(-90 276.75 393.30)">ANGPT2</text>
<text x="289.75" y="393.30" font-size="7.0" text-anchor="end" fill="#231f20" transform="rotate(-90 289.75 393.30)" letter-spacing="0.3">****</text>
<path d="M302.00 384.60C301.93 383.98 301.72 382.31 301.60 380.85C301.48 379.39 301.07 377.73 301.30 375.85C301.53 373.98 302.25 372.31 303.00 369.60C303.75 366.89 305.58 362.93 305.80 359.60C306.02 356.27 304.97 352.93 304.30 349.60C303.63 346.27 302.52 343.14 301.80 339.60C301.08 336.06 300.48 331.89 300.00 328.35C299.52 324.81 299.08 320.02 298.90 318.35L298.70 318.35C298.52 320.02 298.08 324.81 297.60 328.35C297.12 331.89 296.52 336.06 295.80 339.60C295.08 343.14 293.97 346.27 293.30 349.60C292.63 352.93 291.58 356.27 291.80 359.60C292.02 362.93 293.85 366.89 294.60 369.60C295.35 372.31 296.07 373.98 296.30 375.85C296.53 377.73 296.12 379.39 296.00 380.85C295.88 382.31 295.67 383.98 295.60 384.60Z" fill="#2a7dc6" stroke="#1a1a1a" stroke-width="0.35" stroke-linejoin="round"/>
<path d="M294.2 359.2h0M302.6 351.2h0M294.6 351.5h0M298.5 359.6h0M295.6 363.9h0M298.5 373.3h0M299.6 382.7h0M297.9 375.1h0M297.9 382.0h0M298.3 330.3h0M298.1 381.8h0M297.9 329.2h0M296.9 369.8h0M298.5 348.4h0M300.5 381.7h0M300.0 370.6h0M302.3 363.3h0M297.5 383.1h0M297.6 372.9h0M298.8 338.4h0M298.8 369.6h0M299.1 336.6h0M300.3 363.4h0M297.9 352.9h0M295.6 364.9h0M302.3 364.1h0M298.0 371.8h0M299.7 353.7h0M298.6 378.4h0M295.7 344.7h0M300.0 381.3h0M297.5 332.2h0M299.4 382.3h0M299.6 373.0h0M298.6 383.9h0M298.1 379.0h0M298.9 347.5h0M300.1 336.1h0M302.1 352.6h0M298.7 378.3h0M299.6 371.1h0M300.5 381.2h0M300.9 368.2h0M299.8 329.4h0M301.6 367.1h0M298.3 325.2h0M300.3 343.8h0M296.7 363.0h0M298.4 378.5h0M298.6 330.2h0M299.3 374.5h0M299.8 364.3h0M296.8 363.2h0M300.4 383.8h0M296.5 349.9h0M299.7 360.4h0M303.2 360.2h0M297.7 341.5h0M299.5 370.0h0M300.7 379.0h0M298.8 383.5h0M298.9 373.6h0M297.4 383.5h0M299.2 325.8h0M298.6 376.2h0M296.9 383.9h0M300.8 377.6h0M297.3 371.5h0M296.9 382.9h0M299.1 325.3h0" fill="none" stroke="#0d3d6b" stroke-opacity="0.6" stroke-width="0.76" stroke-linecap="round"/>
<path d="M302.5 335.8h0M296.1 343.1h0M296.3 375.6h0M295.2 381.1h0M298.7 346.4h0M296.7 384.0h0M302.7 339.6h0M301.3 345.9h0M299.4 336.3h0M299.6 364.3h0M293.7 369.6h0M298.3 370.8h0M294.2 378.2h0M297.3 371.5h0" fill="none" stroke="#2a7dc6" stroke-opacity="0.35" stroke-width="0.7" stroke-linecap="round"/>
<path d="M314.80 384.60C314.88 383.56 315.05 380.43 315.30 378.35C315.55 376.27 315.72 375.23 316.30 372.10C316.88 368.98 318.13 363.77 318.80 359.60C319.47 355.43 320.17 350.85 320.30 347.10C320.43 343.35 320.00 340.43 319.60 337.10C319.20 333.77 318.58 330.23 317.90 327.10C317.22 323.98 316.23 320.64 315.50 318.35C314.77 316.06 313.83 314.18 313.50 313.35L313.10 313.35C312.77 314.18 311.83 316.06 311.10 318.35C310.37 320.64 309.38 323.98 308.70 327.10C308.02 330.23 307.40 333.77 307.00 337.10C306.60 340.43 306.17 343.35 306.30 347.10C306.43 350.85 307.13 355.43 307.80 359.60C308.47 363.77 309.72 368.98 310.30 372.10C310.88 375.23 311.05 376.27 311.30 378.35C311.55 380.43 311.72 383.56 311.80 384.60Z" fill="#e73b2d" stroke="#1a1a1a" stroke-width="0.35" stroke-linejoin="round"/>
<path d="M313.2 324.0h0M315.5 333.7h0M311.5 352.1h0M312.0 365.6h0M317.1 349.1h0M311.2 337.4h0M311.8 379.2h0M310.5 352.7h0M312.8 384.5h0M312.1 375.2h0M314.2 346.9h0M314.4 372.2h0M314.9 376.4h0M313.6 380.6h0M315.8 343.9h0M316.6 359.4h0M315.3 349.5h0M312.5 382.2h0M313.7 360.9h0M314.0 381.6h0M313.2 368.4h0M316.4 357.1h0M313.6 371.1h0M314.9 351.2h0M312.1 370.5h0M314.2 360.5h0M309.3 348.4h0M313.8 362.1h0M311.9 377.0h0M309.9 326.3h0M311.5 358.6h0M312.7 383.9h0M313.0 378.6h0M310.1 327.9h0M314.5 368.1h0M308.2 349.8h0M312.4 375.2h0M312.8 329.1h0M313.2 373.6h0M310.2 359.6h0M315.8 346.7h0M313.6 360.1h0M318.0 338.9h0M308.5 350.7h0M314.8 358.2h0M314.3 369.4h0M314.0 367.1h0M315.1 350.6h0M314.8 326.6h0M315.5 343.6h0M313.8 375.1h0M308.6 350.1h0M310.5 340.2h0M313.5 359.1h0M316.1 342.6h0M317.0 360.7h0M313.8 362.3h0M312.5 321.2h0M318.2 343.2h0M314.1 382.0h0M313.7 347.8h0M316.9 337.4h0M313.3 379.3h0M315.4 350.5h0M315.1 323.9h0M309.2 334.4h0M316.4 363.4h0M314.9 324.9h0M314.8 369.2h0M314.9 356.4h0" fill="none" stroke="#6b130c" stroke-opacity="0.6" stroke-width="0.76" stroke-linecap="round"/>
<path d="M317.3 348.3h0M318.5 343.9h0M313.2 356.5h0M314.0 347.1h0M318.4 381.8h0M313.3 366.4h0M309.9 382.2h0M310.9 331.7h0M316.7 367.6h0M315.1 370.8h0M317.7 352.2h0M311.4 357.4h0M311.8 369.8h0M309.1 384.6h0" fill="none" stroke="#e73b2d" stroke-opacity="0.35" stroke-width="0.7" stroke-linecap="round"/>
<circle cx="298.80" cy="363.35" r="0.75" fill="#0a0a0a"/>
<circle cx="313.30" cy="353.35" r="0.75" fill="#0a0a0a"/>
<text x="307.70" y="393.30" font-size="7.2" text-anchor="end" font-style="italic" fill="#231f20" transform="rotate(-90 307.70 393.30)">COL4A1</text>
<text x="320.70" y="393.30" font-size="7.0" text-anchor="end" fill="#231f20" transform="rotate(-90 320.70 393.30)" letter-spacing="0.3">****</text>
<path d="M336.75 384.60C336.67 384.35 337.08 383.62 336.25 383.10C335.42 382.58 332.73 382.06 331.75 381.48C330.77 380.89 330.62 381.16 330.35 379.60C330.08 378.04 330.18 376.89 330.10 372.10C330.02 367.31 329.89 354.39 329.85 350.85L329.65 350.85C329.61 354.39 329.48 367.31 329.40 372.10C329.32 376.89 329.42 378.04 329.15 379.60C328.88 381.16 328.73 380.89 327.75 381.48C326.77 382.06 324.08 382.58 323.25 383.10C322.42 383.62 322.83 384.35 322.75 384.60Z" fill="#2a7dc6" stroke="#1a1a1a" stroke-width="0.35" stroke-linejoin="round"/>
<path d="M328.7 382.0h0M329.9 363.0h0M329.5 376.7h0M329.9 378.4h0M329.5 372.9h0M329.6 371.5h0M331.5 382.2h0M329.2 383.0h0M329.8 363.1h0M329.7 359.1h0M329.6 356.3h0M329.7 358.3h0M327.1 384.6h0M329.8 354.7h0M329.9 364.2h0M327.6 384.6h0M330.0 373.4h0M329.6 357.8h0M329.8 354.7h0M329.4 378.1h0M329.8 374.6h0M329.6 373.7h0M329.7 356.3h0M330.0 378.0h0M329.7 379.7h0M327.1 383.0h0M329.8 354.3h0M329.8 371.5h0M329.8 366.5h0M329.5 376.4h0M325.6 384.3h0M329.4 375.2h0M329.7 366.4h0M329.5 380.0h0M329.6 372.5h0M329.7 359.9h0M325.3 383.7h0M329.8 358.5h0M329.9 378.5h0M334.0 384.0h0M329.8 356.7h0M328.9 384.0h0M329.8 360.5h0M329.2 380.6h0M330.0 383.8h0M329.6 381.3h0M329.9 358.3h0M329.9 372.5h0M333.0 382.4h0M329.7 359.4h0M329.7 358.6h0M329.7 355.0h0M329.8 357.2h0M329.8 356.8h0M327.4 383.6h0M329.9 367.1h0M329.5 366.2h0M329.6 376.9h0M328.8 381.5h0M329.7 371.7h0M329.7 379.1h0M329.8 356.3h0M329.9 363.6h0M333.9 384.3h0M326.6 383.2h0M329.9 364.1h0M329.7 368.5h0M329.7 364.7h0M329.0 381.0h0M325.5 382.8h0" fill="none" stroke="#0d3d6b" stroke-opacity="0.6" stroke-width="0.76" stroke-linecap="round"/>
<path d="M334.7 358.9h0M328.8 375.2h0M332.8 377.1h0M326.1 371.3h0M334.5 360.7h0M329.3 383.3h0M331.3 378.6h0M327.5 374.9h0M330.9 376.4h0M329.6 371.0h0M329.5 366.2h0M329.1 359.0h0M334.5 363.2h0M330.7 367.8h0" fill="none" stroke="#2a7dc6" stroke-opacity="0.35" stroke-width="0.7" stroke-linecap="round"/>
<path d="M351.25 384.60C351.18 384.29 351.60 383.56 350.85 382.73C350.10 381.89 347.58 380.75 346.75 379.60C345.92 378.45 346.02 378.14 345.85 375.85C345.68 373.56 345.88 369.60 345.75 365.85C345.62 362.10 345.28 358.98 345.05 353.35C344.82 347.73 344.47 335.64 344.35 332.10L344.15 332.10C344.03 335.64 343.68 347.73 343.45 353.35C343.22 358.98 342.88 362.10 342.75 365.85C342.62 369.60 342.82 373.56 342.65 375.85C342.48 378.14 342.58 378.45 341.75 379.60C340.92 380.75 338.40 381.89 337.65 382.73C336.90 383.56 337.32 384.29 337.25 384.60Z" fill="#e73b2d" stroke="#1a1a1a" stroke-width="0.35" stroke-linejoin="round"/>
<path d="M344.5 349.8h0M343.9 379.0h0M341.6 380.3h0M344.0 355.6h0M342.9 376.6h0M346.2 384.3h0M344.1 372.2h0M344.9 356.2h0M343.9 354.8h0M344.1 338.0h0M344.5 361.3h0M345.2 375.3h0M344.6 359.7h0M346.5 381.0h0M344.6 375.3h0M344.0 352.8h0M343.8 376.2h0M344.3 338.7h0M344.4 366.8h0M343.9 357.3h0M340.1 382.9h0M344.4 361.2h0M344.3 338.7h0M344.7 346.2h0M344.1 365.6h0M343.9 366.8h0M344.3 351.5h0M347.9 381.5h0M344.8 364.1h0M344.4 363.0h0M343.5 361.5h0M346.0 381.2h0M343.3 372.6h0M344.5 348.4h0M344.1 351.3h0M346.2 381.2h0M344.8 378.2h0M343.9 355.1h0M345.3 384.6h0M344.3 349.8h0M344.1 338.3h0M344.2 353.2h0M343.9 361.3h0M344.4 377.6h0M345.0 359.9h0M344.2 360.1h0M344.5 357.6h0M343.7 369.9h0M344.1 355.9h0M340.6 383.9h0M344.7 372.1h0M344.2 357.3h0M344.1 348.3h0M344.9 372.5h0M344.1 356.0h0M343.9 344.0h0M345.0 363.6h0M344.0 344.6h0M344.3 348.8h0M344.1 341.3h0M344.5 356.8h0M344.2 337.9h0M343.3 370.7h0M343.6 355.8h0M343.9 346.4h0M346.0 379.1h0M344.9 365.5h0M343.6 372.7h0M345.5 371.7h0M345.8 379.1h0" fill="none" stroke="#6b130c" stroke-opacity="0.6" stroke-width="0.76" stroke-linecap="round"/>
<path d="M346.2 347.5h0M346.8 373.4h0M345.3 346.6h0M345.5 375.4h0M345.2 344.4h0M341.0 378.3h0M339.3 358.1h0M342.9 384.5h0M344.2 373.8h0M344.9 381.5h0M342.2 356.2h0M344.5 360.2h0M345.1 351.5h0M345.0 357.8h0" fill="none" stroke="#e73b2d" stroke-opacity="0.35" stroke-width="0.7" stroke-linecap="round"/>
<circle cx="329.75" cy="384.35" r="0.75" fill="#0a0a0a"/>
<circle cx="344.25" cy="380.85" r="0.75" fill="#0a0a0a"/>
<text x="338.65" y="393.30" font-size="7.2" text-anchor="end" font-style="italic" fill="#231f20" transform="rotate(-90 338.65 393.30)">KITLG</text>
<text x="351.65" y="393.30" font-size="7.0" text-anchor="end" fill="#231f20" transform="rotate(-90 351.65 393.30)" letter-spacing="0.3">****</text>
<path d="M367.70 384.60C367.62 384.35 368.03 383.62 367.20 383.10C366.37 382.58 363.67 382.06 362.70 381.48C361.73 380.89 361.65 381.16 361.40 379.60C361.15 378.04 361.30 376.48 361.20 372.10C361.10 367.73 360.87 356.48 360.80 353.35L360.60 353.35C360.53 356.48 360.30 367.73 360.20 372.10C360.10 376.48 360.25 378.04 360.00 379.60C359.75 381.16 359.67 380.89 358.70 381.48C357.73 382.06 355.03 382.58 354.20 383.10C353.37 383.62 353.78 384.35 353.70 384.60Z" fill="#2a7dc6" stroke="#1a1a1a" stroke-width="0.35" stroke-linejoin="round"/>
<path d="M360.5 362.8h0M364.2 382.9h0M360.5 362.4h0M360.7 360.3h0M360.8 361.6h0M360.3 376.7h0M360.8 364.8h0M360.5 374.1h0M361.1 377.0h0M360.4 374.3h0M360.8 357.0h0M359.5 381.6h0M360.6 365.9h0M360.9 373.9h0M360.8 379.4h0M359.9 381.0h0M360.6 371.8h0M360.6 360.3h0M360.6 359.5h0M360.3 377.6h0M361.2 378.3h0M361.0 377.1h0M360.8 357.3h0M360.5 381.5h0M359.5 381.9h0M360.4 377.8h0M360.7 367.6h0M360.4 379.0h0M357.9 382.4h0M360.3 375.0h0M360.5 372.5h0M360.6 364.5h0M360.9 361.6h0M360.6 359.0h0M360.7 359.0h0M360.7 360.6h0M360.5 371.9h0M360.6 365.0h0M360.8 360.6h0M360.3 375.2h0M360.6 379.5h0M360.8 376.9h0M360.3 384.6h0M360.9 360.3h0M360.8 367.3h0M361.1 370.0h0M360.7 363.9h0M361.1 373.3h0M360.8 371.6h0M360.9 378.5h0M361.1 373.5h0M360.8 356.5h0M360.6 358.3h0M359.0 383.7h0M360.7 362.6h0M360.2 379.8h0M360.1 380.0h0M362.4 382.3h0M359.7 381.3h0M360.4 369.5h0M360.8 362.4h0M360.8 360.9h0M360.6 365.9h0M360.6 375.4h0M361.1 376.3h0M361.0 375.0h0M360.4 369.2h0M360.9 380.9h0M360.6 363.9h0M360.5 380.0h0" fill="none" stroke="#0d3d6b" stroke-opacity="0.6" stroke-width="0.76" stroke-linecap="round"/>
<path d="M359.8 373.1h0M361.9 361.5h0M359.0 377.6h0M357.0 371.9h0M355.9 374.8h0M364.7 368.2h0M361.8 362.1h0M361.4 375.0h0M357.1 370.7h0M360.7 371.1h0M360.1 379.7h0M362.3 363.7h0M357.8 376.4h0M361.3 368.8h0" fill="none" stroke="#2a7dc6" stroke-opacity="0.35" stroke-width="0.7" stroke-linecap="round"/>
<path d="M382.20 384.60C382.15 384.29 382.50 383.56 381.90 382.73C381.30 381.89 379.25 380.95 378.60 379.60C377.95 378.25 377.98 376.89 378.00 374.60C378.02 372.31 378.67 368.98 378.70 365.85C378.73 362.73 378.58 359.39 378.20 355.85C377.82 352.31 376.88 348.77 376.40 344.60C375.92 340.43 375.48 333.14 375.30 330.85L375.10 330.85C374.92 333.14 374.48 340.43 374.00 344.60C373.52 348.77 372.58 352.31 372.20 355.85C371.82 359.39 371.67 362.73 371.70 365.85C371.73 368.98 372.38 372.31 372.40 374.60C372.42 376.89 372.45 378.25 371.80 379.60C371.15 380.95 369.10 381.89 368.50 382.73C367.90 383.56 368.25 384.29 368.20 384.60Z" fill="#e73b2d" stroke="#1a1a1a" stroke-width="0.35" stroke-linejoin="round"/>
<path d="M375.1 374.6h0M375.9 369.6h0M375.0 343.7h0M375.5 363.0h0M374.0 356.0h0M377.3 376.7h0M376.5 380.7h0M375.2 376.2h0M373.8 367.4h0M377.7 379.5h0M371.3 383.9h0M374.7 352.0h0M376.7 378.8h0M374.9 337.4h0M374.8 353.8h0M375.3 336.4h0M375.5 342.7h0M374.7 381.1h0M373.7 353.9h0M380.3 382.5h0M375.4 341.0h0M377.4 383.3h0M375.5 336.9h0M375.0 353.3h0M377.3 358.0h0M372.8 365.0h0M378.5 380.7h0M377.0 353.6h0M372.4 380.6h0M374.9 355.1h0M373.7 366.8h0M376.2 350.6h0M374.9 352.7h0M374.6 365.4h0M374.2 366.7h0M377.7 366.5h0M374.2 348.3h0M376.7 355.8h0M377.0 372.5h0M374.6 339.9h0M374.6 358.3h0M375.5 366.6h0M375.5 344.9h0M374.8 343.1h0M374.9 348.6h0M376.8 379.3h0M373.8 360.9h0M375.2 342.8h0M377.5 355.6h0M375.4 373.3h0M374.1 362.6h0M377.7 363.2h0M374.2 354.3h0M375.7 355.1h0M376.0 371.4h0M376.6 371.0h0M376.8 370.5h0M373.7 374.6h0M373.5 373.2h0M376.1 343.9h0M373.9 369.1h0M375.8 343.5h0M374.2 376.9h0M373.2 365.1h0M374.7 378.2h0M372.1 381.5h0M374.2 359.4h0M375.9 341.5h0M374.1 355.9h0M374.6 350.8h0" fill="none" stroke="#6b130c" stroke-opacity="0.6" stroke-width="0.76" stroke-linecap="round"/>
<path d="M374.4 347.2h0M378.0 354.9h0M378.0 354.4h0M371.4 369.9h0M380.2 368.8h0M372.8 383.0h0M374.5 371.3h0M371.6 347.2h0M369.9 380.1h0M377.7 370.0h0M376.8 365.1h0M373.7 362.6h0M370.1 367.1h0M377.8 343.7h0" fill="none" stroke="#e73b2d" stroke-opacity="0.35" stroke-width="0.7" stroke-linecap="round"/>
<circle cx="360.70" cy="384.35" r="0.75" fill="#0a0a0a"/>
<circle cx="375.20" cy="374.60" r="0.75" fill="#0a0a0a"/>
<text x="369.60" y="393.30" font-size="7.2" text-anchor="end" font-style="italic" fill="#231f20" transform="rotate(-90 369.60 393.30)">HBEGF</text>
<text x="382.60" y="393.30" font-size="7.0" text-anchor="end" fill="#231f20" transform="rotate(-90 382.60 393.30)" letter-spacing="0.3">****</text>
<path d="M397.65 384.60C397.58 383.98 397.42 382.93 397.25 380.85C397.08 378.77 396.58 375.64 396.65 372.10C396.72 368.56 397.52 363.77 397.65 359.60C397.78 355.43 397.68 351.27 397.45 347.10C397.22 342.93 396.72 338.14 396.25 334.60C395.78 331.06 395.35 328.14 394.65 325.85C393.95 323.56 392.48 321.68 392.05 320.85L391.25 320.85C390.82 321.68 389.35 323.56 388.65 325.85C387.95 328.14 387.52 331.06 387.05 334.60C386.58 338.14 386.08 342.93 385.85 347.10C385.62 351.27 385.52 355.43 385.65 359.60C385.78 363.77 386.58 368.56 386.65 372.10C386.72 375.64 386.22 378.77 386.05 380.85C385.88 382.93 385.72 383.98 385.65 384.60Z" fill="#2a7dc6" stroke="#1a1a1a" stroke-width="0.35" stroke-linejoin="round"/>
<path d="M388.9 381.8h0M391.7 342.8h0M393.9 345.2h0M394.5 379.9h0M388.5 377.5h0M394.5 345.3h0M390.7 372.5h0M389.8 346.2h0M396.1 364.6h0M395.6 380.6h0M395.4 335.5h0M389.1 375.4h0M388.7 365.0h0M392.1 332.8h0M391.6 338.7h0M395.9 361.4h0M389.2 380.8h0M392.3 337.7h0M395.9 342.9h0M392.6 343.6h0M391.9 345.0h0M390.2 376.6h0M391.8 332.8h0M393.0 383.9h0M392.3 327.7h0M391.2 361.8h0M392.7 353.1h0M395.4 362.0h0M393.8 335.5h0M393.7 346.8h0M391.6 377.6h0M389.2 374.3h0M390.0 330.9h0M394.4 340.6h0M387.5 366.9h0M392.9 378.5h0M390.3 347.9h0M388.5 355.1h0M394.3 351.3h0M392.2 342.9h0M386.9 356.8h0M390.9 374.3h0M387.7 382.7h0M392.8 330.4h0M393.5 357.4h0M392.7 336.8h0M390.7 365.6h0M394.3 329.4h0M394.5 379.6h0M390.2 352.3h0M389.5 348.9h0M392.2 345.4h0M387.4 356.0h0M395.0 334.3h0M389.8 344.4h0M388.1 347.0h0M390.2 358.4h0M389.7 363.0h0M391.0 382.8h0M388.9 375.7h0M388.6 370.9h0M396.2 384.2h0M395.3 383.3h0M388.3 366.0h0M391.7 365.5h0M392.1 383.3h0M389.7 384.5h0M394.9 347.8h0M390.8 378.5h0M390.5 331.1h0" fill="none" stroke="#0d3d6b" stroke-opacity="0.6" stroke-width="0.76" stroke-linecap="round"/>
<path d="M388.9 378.6h0M389.9 340.5h0M396.5 350.7h0M388.3 352.9h0M389.7 360.1h0M392.9 360.2h0M393.7 334.8h0M395.1 358.7h0M388.3 358.7h0M389.1 350.4h0M390.4 373.8h0M386.5 359.9h0M396.7 366.2h0M390.2 358.6h0" fill="none" stroke="#2a7dc6" stroke-opacity="0.35" stroke-width="0.7" stroke-linecap="round"/>
<path d="M413.15 384.60C413.08 384.29 413.48 383.56 412.75 382.73C412.02 381.89 409.55 380.95 408.75 379.60C407.95 378.25 408.13 377.93 407.95 374.60C407.77 371.27 407.78 364.18 407.65 359.60C407.52 355.02 407.32 351.27 407.15 347.10C406.98 342.93 406.80 338.77 406.65 334.60C406.50 330.43 406.32 324.18 406.25 322.10L406.05 322.10C405.98 324.18 405.80 330.43 405.65 334.60C405.50 338.77 405.32 342.93 405.15 347.10C404.98 351.27 404.78 355.02 404.65 359.60C404.52 364.18 404.53 371.27 404.35 374.60C404.17 377.93 404.35 378.25 403.55 379.60C402.75 380.95 400.28 381.89 399.55 382.73C398.82 383.56 399.22 384.29 399.15 384.60Z" fill="#e73b2d" stroke="#1a1a1a" stroke-width="0.35" stroke-linejoin="round"/>
<path d="M406.7 364.3h0M405.9 361.6h0M405.7 356.9h0M406.0 350.4h0M405.9 348.9h0M405.5 353.2h0M406.1 362.6h0M402.0 384.4h0M406.8 364.1h0M406.6 341.7h0M406.7 342.1h0M404.9 377.8h0M407.8 380.3h0M405.5 378.1h0M408.4 380.3h0M405.2 377.2h0M406.6 356.0h0M407.0 383.8h0M406.3 360.0h0M406.9 360.8h0M406.6 341.0h0M404.9 371.2h0M405.0 363.5h0M406.1 353.3h0M406.7 346.1h0M406.5 347.1h0M406.8 371.1h0M405.6 353.2h0M406.1 337.7h0M405.4 359.9h0M406.1 340.4h0M406.7 346.4h0M406.4 360.6h0M405.5 363.9h0M406.7 342.6h0M401.0 383.9h0M405.1 363.5h0M405.7 365.3h0M407.0 375.8h0M407.1 356.8h0M405.7 377.9h0M406.7 354.6h0M405.3 365.9h0M406.3 368.3h0M406.2 330.7h0M406.5 339.4h0M406.2 365.9h0M406.4 340.2h0M405.3 367.5h0M405.8 347.1h0M405.4 374.6h0M406.4 350.1h0M406.2 332.9h0M407.1 362.7h0M406.6 380.3h0M406.1 329.3h0M404.4 379.7h0M408.7 384.1h0M407.0 366.8h0M405.6 340.1h0M405.5 372.5h0M404.8 374.6h0M405.7 375.1h0M406.2 364.5h0M405.9 329.5h0M408.5 380.5h0M406.3 373.5h0M407.3 372.6h0M406.2 333.1h0M405.0 382.0h0" fill="none" stroke="#6b130c" stroke-opacity="0.6" stroke-width="0.76" stroke-linecap="round"/>
<path d="M406.9 349.4h0M405.0 370.6h0M405.1 381.5h0M404.9 343.4h0M402.5 361.3h0M405.2 349.0h0M409.2 365.3h0M401.5 369.8h0M408.8 352.5h0M404.4 382.0h0M406.2 340.3h0M402.1 364.2h0M407.1 370.2h0M407.9 338.8h0" fill="none" stroke="#e73b2d" stroke-opacity="0.35" stroke-width="0.7" stroke-linecap="round"/>
<circle cx="391.65" cy="362.10" r="0.75" fill="#0a0a0a"/>
<circle cx="406.15" cy="379.60" r="0.75" fill="#0a0a0a"/>
<text x="400.55" y="393.30" font-size="7.2" text-anchor="end" font-style="italic" fill="#231f20" transform="rotate(-90 400.55 393.30)">DLK1</text>
<text x="413.55" y="393.30" font-size="7.0" text-anchor="end" fill="#231f20" transform="rotate(-90 413.55 393.30)" letter-spacing="0.3">****</text>
<path d="M429.60 384.60C429.52 384.35 429.93 383.62 429.10 383.10C428.27 382.58 425.58 382.06 424.60 381.48C423.62 380.89 423.47 381.16 423.20 379.60C422.93 378.04 423.08 377.10 423.00 372.10C422.92 367.10 422.75 353.35 422.70 349.60L422.50 349.60C422.45 353.35 422.28 367.10 422.20 372.10C422.12 377.10 422.27 378.04 422.00 379.60C421.73 381.16 421.58 380.89 420.60 381.48C419.62 382.06 416.93 382.58 416.10 383.10C415.27 383.62 415.68 384.35 415.60 384.60Z" fill="#2a7dc6" stroke="#1a1a1a" stroke-width="0.35" stroke-linejoin="round"/>
<path d="M422.6 354.4h0M420.9 383.6h0M422.2 376.1h0M426.9 383.4h0M422.5 357.3h0M427.7 383.4h0M421.9 381.5h0M422.2 380.0h0M422.2 384.3h0M422.4 362.0h0M422.4 372.1h0M422.8 361.5h0M422.6 358.1h0M423.9 382.1h0M425.5 383.6h0M423.0 378.0h0M422.8 378.4h0M422.4 372.0h0M422.6 372.1h0M422.8 381.8h0M422.7 370.7h0M422.7 376.9h0M422.7 380.8h0M422.9 379.7h0M422.1 380.9h0M420.5 383.6h0M422.4 370.4h0M425.8 382.6h0M422.4 377.7h0M422.9 375.1h0M422.8 363.1h0M422.5 370.3h0M422.3 371.8h0M422.8 365.4h0M422.7 356.5h0M422.8 366.7h0M422.7 378.3h0M424.3 381.6h0M422.4 371.4h0M422.6 353.7h0M423.3 380.4h0M422.7 367.5h0M422.5 358.0h0M422.7 378.6h0M423.0 380.6h0M422.4 372.6h0M420.0 382.5h0M422.8 369.2h0M422.7 361.1h0M422.8 369.5h0M422.5 377.1h0M422.5 357.0h0M422.6 367.6h0M423.3 383.9h0M422.8 361.1h0M422.9 374.4h0M427.1 384.2h0M422.8 365.5h0M422.7 373.5h0M422.5 360.1h0M423.3 381.1h0M422.5 358.1h0M422.6 370.2h0M422.9 377.7h0M422.9 378.5h0M422.3 374.6h0M422.5 354.6h0M417.9 383.0h0M422.2 376.5h0M424.7 381.8h0" fill="none" stroke="#0d3d6b" stroke-opacity="0.6" stroke-width="0.76" stroke-linecap="round"/>
<path d="M425.0 377.5h0M417.2 378.6h0M418.4 384.4h0M422.1 357.9h0M417.6 377.6h0M420.6 366.6h0M421.9 379.6h0M420.9 364.7h0M419.2 368.9h0M417.6 368.9h0M427.3 358.8h0M422.3 368.5h0M425.3 373.5h0M424.9 368.4h0" fill="none" stroke="#2a7dc6" stroke-opacity="0.35" stroke-width="0.7" stroke-linecap="round"/>
<path d="M444.10 384.60C444.03 384.29 444.37 383.56 443.70 382.73C443.03 381.89 440.77 380.95 440.10 379.60C439.43 378.25 439.70 376.89 439.70 374.60C439.70 372.31 440.17 368.98 440.10 365.85C440.03 362.73 439.63 359.39 439.30 355.85C438.97 352.31 438.45 348.14 438.10 344.60C437.75 341.06 437.35 336.27 437.20 334.60L437.00 334.60C436.85 336.27 436.45 341.06 436.10 344.60C435.75 348.14 435.23 352.31 434.90 355.85C434.57 359.39 434.17 362.73 434.10 365.85C434.03 368.98 434.50 372.31 434.50 374.60C434.50 376.89 434.77 378.25 434.10 379.60C433.43 380.95 431.17 381.89 430.50 382.73C429.83 383.56 430.17 384.29 430.10 384.60Z" fill="#e73b2d" stroke="#1a1a1a" stroke-width="0.35" stroke-linejoin="round"/>
<path d="M436.6 369.0h0M436.0 355.1h0M436.0 373.4h0M438.8 378.8h0M438.1 374.7h0M441.7 383.7h0M438.2 367.8h0M438.1 382.2h0M436.6 350.3h0M435.9 382.5h0M437.9 352.6h0M435.2 383.3h0M436.8 344.5h0M441.0 382.7h0M437.0 349.8h0M438.0 356.5h0M436.4 348.9h0M438.5 354.7h0M437.2 351.5h0M439.2 371.2h0M437.4 340.0h0M439.0 366.0h0M437.1 346.8h0M438.0 381.4h0M435.8 381.3h0M437.1 363.0h0M438.4 359.2h0M436.9 342.6h0M436.9 342.3h0M438.2 373.2h0M437.1 341.0h0M438.0 351.2h0M437.6 374.6h0M436.4 343.2h0M440.3 381.6h0M436.7 363.1h0M436.9 351.3h0M436.0 381.1h0M437.5 353.1h0M434.8 366.5h0M436.7 339.8h0M438.4 376.1h0M437.4 343.2h0M438.2 371.7h0M437.4 358.0h0M437.2 351.7h0M436.0 364.5h0M436.0 352.2h0M438.4 382.5h0M441.2 383.8h0M436.9 379.3h0M437.0 376.8h0M435.8 360.6h0M439.3 364.2h0M435.1 380.8h0M435.2 379.2h0M442.2 384.5h0M436.6 341.7h0M437.3 349.1h0M438.9 378.8h0M438.4 381.9h0M437.8 357.7h0M435.5 377.7h0M436.3 359.9h0M438.1 361.2h0M439.6 384.1h0M437.0 340.8h0M436.4 362.7h0M436.6 346.5h0M437.1 382.3h0" fill="none" stroke="#6b130c" stroke-opacity="0.6" stroke-width="0.76" stroke-linecap="round"/>
<path d="M437.9 366.8h0M441.8 376.4h0M435.9 363.2h0M432.0 354.7h0M440.8 347.8h0M436.6 374.3h0M440.3 383.0h0M438.2 345.7h0M436.8 345.5h0M440.9 349.9h0M436.7 347.6h0M432.0 364.3h0M432.6 346.5h0M438.2 361.4h0" fill="none" stroke="#e73b2d" stroke-opacity="0.35" stroke-width="0.7" stroke-linecap="round"/>
<circle cx="422.60" cy="384.35" r="0.75" fill="#0a0a0a"/>
<circle cx="437.10" cy="373.35" r="0.75" fill="#0a0a0a"/>
<text x="431.50" y="393.30" font-size="7.2" text-anchor="end" font-style="italic" fill="#231f20" transform="rotate(-90 431.50 393.30)">ITGA2</text>
<text x="444.50" y="393.30" font-size="7.0" text-anchor="end" fill="#231f20" transform="rotate(-90 444.50 393.30)" letter-spacing="0.3">****</text>
<path d="M460.55 384.60C460.48 384.29 460.82 383.56 460.15 382.73C459.48 381.89 457.22 380.95 456.55 379.60C455.88 378.25 456.15 376.48 456.15 374.60C456.15 372.73 456.60 370.85 456.55 368.35C456.50 365.85 456.18 362.73 455.85 359.60C455.52 356.48 454.92 353.35 454.55 349.60C454.18 345.85 453.80 339.18 453.65 337.10L453.45 337.10C453.30 339.18 452.92 345.85 452.55 349.60C452.18 353.35 451.58 356.48 451.25 359.60C450.92 362.73 450.60 365.85 450.55 368.35C450.50 370.85 450.95 372.73 450.95 374.60C450.95 376.48 451.22 378.25 450.55 379.60C449.88 380.95 447.62 381.89 446.95 382.73C446.28 383.56 446.62 384.29 446.55 384.60Z" fill="#2a7dc6" stroke="#1a1a1a" stroke-width="0.35" stroke-linejoin="round"/>
<path d="M452.7 380.2h0M451.4 375.7h0M453.0 371.6h0M454.2 356.8h0M453.9 344.7h0M454.1 377.3h0M454.5 358.1h0M452.2 381.3h0M452.8 361.9h0M453.4 346.5h0M452.2 357.3h0M454.2 347.4h0M453.4 343.8h0M454.5 350.9h0M449.4 382.3h0M455.3 359.5h0M457.3 384.1h0M453.5 359.7h0M453.6 381.2h0M452.2 367.3h0M453.9 347.3h0M454.3 380.5h0M455.3 362.7h0M453.9 342.9h0M452.7 383.6h0M455.3 380.9h0M457.0 382.9h0M454.1 361.8h0M453.9 344.9h0M453.9 356.1h0M453.6 365.1h0M450.2 384.2h0M453.3 358.3h0M455.2 369.4h0M454.6 372.2h0M454.3 352.4h0M454.0 378.1h0M454.0 368.7h0M450.3 382.8h0M454.8 377.7h0M453.3 353.5h0M453.3 362.3h0M452.5 365.5h0M455.5 373.9h0M453.0 348.1h0M456.9 381.9h0M454.2 369.7h0M454.0 362.4h0M453.1 347.0h0M453.2 349.4h0M451.4 383.1h0M454.9 366.6h0M455.5 363.5h0M452.9 379.7h0M453.9 363.8h0M453.6 357.9h0M456.4 382.4h0M452.6 352.9h0M452.5 351.9h0M454.0 358.5h0M451.8 375.8h0M454.1 377.3h0M454.9 365.7h0M454.3 380.3h0M451.6 375.5h0M451.6 379.8h0M450.4 380.7h0M453.4 343.2h0M453.3 354.8h0M452.4 366.7h0" fill="none" stroke="#0d3d6b" stroke-opacity="0.6" stroke-width="0.76" stroke-linecap="round"/>
<path d="M450.4 348.7h0M456.6 348.1h0M449.1 351.8h0M455.2 347.1h0M454.3 362.6h0M458.5 367.7h0M458.5 347.3h0M453.9 379.2h0M450.1 358.0h0M456.3 350.8h0M451.3 380.0h0M457.7 358.7h0M451.1 346.7h0M454.5 352.8h0" fill="none" stroke="#2a7dc6" stroke-opacity="0.35" stroke-width="0.7" stroke-linecap="round"/>
<path d="M475.05 384.60C475.00 384.29 475.32 383.56 474.75 382.73C474.18 381.89 472.23 380.95 471.65 379.60C471.07 378.25 471.18 376.89 471.25 374.60C471.32 372.31 472.08 368.98 472.05 365.85C472.02 362.73 471.47 359.39 471.05 355.85C470.63 352.31 470.03 349.39 469.55 344.60C469.07 339.81 468.38 330.02 468.15 327.10L467.95 327.10C467.72 330.02 467.03 339.81 466.55 344.60C466.07 349.39 465.47 352.31 465.05 355.85C464.63 359.39 464.08 362.73 464.05 365.85C464.02 368.98 464.78 372.31 464.85 374.60C464.92 376.89 465.03 378.25 464.45 379.60C463.87 380.95 461.92 381.89 461.35 382.73C460.78 383.56 461.10 384.29 461.05 384.60Z" fill="#e73b2d" stroke="#1a1a1a" stroke-width="0.35" stroke-linejoin="round"/>
<path d="M466.6 370.8h0M463.7 381.8h0M465.7 367.3h0M467.1 378.1h0M465.8 380.7h0M470.6 375.8h0M468.8 367.6h0M470.7 361.3h0M469.1 344.2h0M468.5 341.3h0M467.7 341.0h0M467.2 357.5h0M467.7 337.8h0M467.8 332.9h0M469.4 371.9h0M466.5 359.6h0M471.1 381.1h0M468.1 377.9h0M468.0 343.5h0M466.0 364.8h0M468.2 337.1h0M467.6 354.0h0M467.6 351.3h0M467.2 379.1h0M469.2 348.3h0M469.0 362.8h0M468.3 337.2h0M467.8 334.5h0M468.5 341.3h0M468.6 359.6h0M465.3 379.5h0M472.4 384.0h0M468.7 369.0h0M470.4 366.7h0M467.6 349.8h0M466.7 355.7h0M467.6 336.7h0M468.1 338.7h0M471.4 380.3h0M469.0 378.3h0M466.1 375.6h0M469.1 346.4h0M468.4 340.0h0M466.4 355.5h0M467.9 333.0h0M465.8 355.7h0M468.2 373.0h0M467.5 365.0h0M465.2 369.8h0M467.4 355.3h0M466.9 381.6h0M469.1 353.9h0M465.7 368.1h0M468.5 356.4h0M471.0 364.5h0M468.2 370.6h0M464.0 384.1h0M466.3 378.5h0M465.8 379.2h0M468.2 338.2h0M468.4 364.1h0M469.9 374.6h0M467.8 349.9h0M462.5 384.2h0M470.5 383.9h0M467.5 384.0h0M467.3 362.6h0M470.3 373.9h0M468.4 335.9h0M470.6 361.5h0" fill="none" stroke="#6b130c" stroke-opacity="0.6" stroke-width="0.76" stroke-linecap="round"/>
<path d="M465.1 352.3h0M464.2 378.2h0M466.8 379.8h0M464.8 356.6h0M466.3 380.9h0M472.2 363.5h0M471.6 343.6h0M471.6 372.6h0M469.0 371.7h0M465.1 360.0h0M465.4 359.7h0M465.1 348.0h0M464.6 348.6h0M467.4 384.2h0" fill="none" stroke="#e73b2d" stroke-opacity="0.35" stroke-width="0.7" stroke-linecap="round"/>
<circle cx="453.55" cy="377.10" r="0.75" fill="#0a0a0a"/>
<circle cx="468.05" cy="372.10" r="0.75" fill="#0a0a0a"/>
<text x="462.45" y="393.30" font-size="7.2" text-anchor="end" font-style="italic" fill="#231f20" transform="rotate(-90 462.45 393.30)">NOTCH4</text>
<text x="475.45" y="393.30" font-size="7.0" text-anchor="end" fill="#231f20" transform="rotate(-90 475.45 393.30)" letter-spacing="0.3">****</text>
<path d="M491.50 384.60C491.43 384.29 491.80 383.56 491.10 382.73C490.40 381.89 488.00 380.95 487.30 379.60C486.60 378.25 486.87 376.89 486.90 374.60C486.93 372.31 487.57 368.77 487.50 365.85C487.43 362.93 486.87 359.81 486.50 357.10C486.13 354.39 485.62 351.68 485.30 349.60C484.98 347.52 484.72 345.43 484.60 344.60L484.40 344.60C484.28 345.43 484.02 347.52 483.70 349.60C483.38 351.68 482.87 354.39 482.50 357.10C482.13 359.81 481.57 362.93 481.50 365.85C481.43 368.77 482.07 372.31 482.10 374.60C482.13 376.89 482.40 378.25 481.70 379.60C481.00 380.95 478.60 381.89 477.90 382.73C477.20 383.56 477.57 384.29 477.50 384.60Z" fill="#2a7dc6" stroke="#1a1a1a" stroke-width="0.35" stroke-linejoin="round"/>
<path d="M484.8 354.0h0M484.5 378.6h0M485.2 376.0h0M483.1 377.5h0M484.0 348.6h0M482.9 381.9h0M484.7 376.0h0M483.0 370.2h0M485.1 356.4h0M482.3 380.7h0M484.6 382.5h0M485.5 364.6h0M486.1 379.0h0M484.4 353.1h0M481.3 382.3h0M482.8 361.1h0M485.5 365.1h0M480.6 384.4h0M484.2 378.9h0M485.3 355.4h0M482.6 374.0h0M483.1 368.4h0M486.3 377.4h0M484.1 377.5h0M486.4 363.1h0M485.5 383.6h0M482.9 363.5h0M482.7 382.7h0M485.3 375.8h0M484.7 350.1h0M486.5 372.6h0M484.4 351.6h0M484.6 371.1h0M486.0 382.7h0M484.4 361.4h0M486.4 366.7h0M485.4 365.2h0M485.1 354.0h0M486.4 371.6h0M483.8 351.1h0M484.1 348.6h0M484.8 354.1h0M484.0 358.5h0M483.1 377.5h0M480.8 382.3h0M486.8 381.0h0M486.1 368.5h0M484.4 349.2h0M487.2 380.8h0M484.6 382.5h0M483.4 355.7h0M485.1 378.1h0M488.4 382.9h0M484.7 359.9h0M483.2 358.6h0M484.6 355.6h0M485.7 374.2h0M482.6 371.6h0M482.6 362.0h0M483.2 367.6h0M484.2 373.3h0M485.1 362.0h0M483.4 375.3h0M483.0 358.6h0M485.6 366.7h0M482.3 364.9h0M486.0 383.2h0M485.0 358.3h0M484.7 349.3h0M486.3 372.7h0" fill="none" stroke="#0d3d6b" stroke-opacity="0.6" stroke-width="0.76" stroke-linecap="round"/>
<path d="M480.2 377.0h0M479.3 372.1h0M484.9 366.4h0M485.7 378.6h0M486.7 369.6h0M487.8 359.3h0M480.1 362.7h0M486.3 366.2h0M483.1 378.3h0M482.0 367.9h0M482.1 382.0h0M487.5 371.4h0M488.3 353.1h0M489.8 356.0h0" fill="none" stroke="#2a7dc6" stroke-opacity="0.35" stroke-width="0.7" stroke-linecap="round"/>
<path d="M506.00 384.60C505.95 384.29 506.27 383.56 505.70 382.73C505.13 381.89 503.15 380.95 502.60 379.60C502.05 378.25 502.23 377.52 502.40 374.60C502.57 371.68 503.63 365.85 503.60 362.10C503.57 358.35 502.73 355.43 502.20 352.10C501.67 348.77 500.92 345.43 500.40 342.10C499.88 338.77 499.32 333.77 499.10 332.10L498.90 332.10C498.68 333.77 498.12 338.77 497.60 342.10C497.08 345.43 496.33 348.77 495.80 352.10C495.27 355.43 494.43 358.35 494.40 362.10C494.37 365.85 495.43 371.68 495.60 374.60C495.77 377.52 495.95 378.25 495.40 379.60C494.85 380.95 492.87 381.89 492.30 382.73C491.73 383.56 492.05 384.29 492.00 384.60Z" fill="#e73b2d" stroke="#1a1a1a" stroke-width="0.35" stroke-linejoin="round"/>
<path d="M499.8 364.8h0M501.4 384.1h0M498.4 347.2h0M496.2 359.8h0M498.9 341.2h0M497.2 367.5h0M500.4 345.1h0M499.1 369.7h0M500.1 375.3h0M501.3 359.2h0M499.0 384.4h0M498.2 339.2h0M498.2 358.9h0M497.2 381.7h0M498.5 339.6h0M501.4 366.7h0M494.5 381.9h0M499.9 360.1h0M502.7 383.9h0M499.5 351.1h0M501.4 377.1h0M501.8 378.0h0M502.0 362.8h0M499.8 363.1h0M498.9 340.9h0M501.6 374.2h0M498.5 337.7h0M499.9 345.8h0M497.5 378.4h0M502.7 383.4h0M502.6 382.8h0M501.1 349.5h0M501.9 381.8h0M494.8 382.7h0M497.7 346.6h0M501.6 352.8h0M498.5 366.3h0M499.4 343.7h0M499.3 338.3h0M496.1 368.1h0M499.7 343.8h0M500.5 381.0h0M498.7 376.0h0M496.1 380.3h0M500.4 367.0h0M501.0 354.3h0M499.6 342.7h0M500.5 376.8h0M497.0 353.0h0M503.6 384.4h0M501.3 379.8h0M498.8 340.6h0M496.0 364.0h0M502.8 382.9h0M497.4 359.0h0M496.6 379.1h0M497.9 351.2h0M502.5 383.5h0M497.2 374.1h0M498.0 362.1h0M498.7 364.1h0M497.3 363.3h0M502.1 365.3h0M498.5 378.3h0M498.7 367.3h0M499.7 372.9h0M498.3 341.4h0M502.1 368.0h0M501.2 384.6h0M499.0 371.7h0" fill="none" stroke="#6b130c" stroke-opacity="0.6" stroke-width="0.76" stroke-linecap="round"/>
<path d="M496.3 354.1h0M500.5 381.8h0M498.5 343.1h0M499.2 345.3h0M500.8 356.1h0M500.7 352.4h0M501.3 355.8h0M503.2 374.0h0M499.0 359.0h0M497.3 358.1h0M503.6 374.5h0M497.4 375.7h0M499.0 359.8h0M496.5 380.7h0" fill="none" stroke="#e73b2d" stroke-opacity="0.35" stroke-width="0.7" stroke-linecap="round"/>
<circle cx="484.50" cy="377.10" r="0.75" fill="#0a0a0a"/>
<circle cx="499.00" cy="368.35" r="0.75" fill="#0a0a0a"/>
<text x="493.40" y="393.30" font-size="7.2" text-anchor="end" font-style="italic" fill="#231f20" transform="rotate(-90 493.40 393.30)">DLL4</text>
<text x="506.40" y="393.30" font-size="7.0" text-anchor="end" fill="#231f20" transform="rotate(-90 506.40 393.30)" letter-spacing="0.3">****</text>
<line x1="163.50" y1="313.50" x2="163.50" y2="388.80" stroke="#231f20" stroke-width="0.7"/>
<line x1="163.20" y1="388.50" x2="511.00" y2="388.50" stroke="#231f20" stroke-width="0.7"/>
<line x1="161.50" y1="384.60" x2="163.50" y2="384.60" stroke="#231f20" stroke-width="0.6"/>
<text x="159.50" y="387.10" font-size="6.9" text-anchor="end" fill="#231f20">0</text>
<line x1="161.50" y1="359.60" x2="163.50" y2="359.60" stroke="#231f20" stroke-width="0.6"/>
<text x="159.50" y="362.10" font-size="6.9" text-anchor="end" fill="#231f20">2</text>
<line x1="161.50" y1="334.60" x2="163.50" y2="334.60" stroke="#231f20" stroke-width="0.6"/>
<text x="159.50" y="337.10" font-size="6.9" text-anchor="end" fill="#231f20">4</text>
<text x="141.5" y="351" font-size="6.9" text-anchor="middle" fill="#231f20" transform="rotate(-90 141.5 351)">Log<tspan font-size="4.6" dy="1.6">2</tspan></text>
<text x="150.00" y="351.00" font-size="6.9" text-anchor="middle" fill="#231f20" transform="rotate(-90 150.00 351.00)">(normalized UMI counts +1)</text>
</g>
<rect x="158.20" y="485.00" width="5.60" height="5.80" fill="#a9d8ec"/>
<rect x="158.20" y="494.60" width="5.60" height="5.80" fill="#f6bf97"/>
<text x="168.00" y="490.70" font-size="7.6" fill="#231f20">Downregulated in VEGFA + C</text>
<text x="168.00" y="500.20" font-size="7.6" fill="#231f20">Upregulated in VEGFA + C</text>
<g id="panelF">
<g stroke="none">
<path d="M43.1 510.30H49.8C76.6 510.30 76.6 510.30 103.4 510.30H110.1V512.84H103.4C76.6 512.84 76.6 512.84 49.8 512.84H43.1Z" fill="#62b8e0" fill-opacity="0.42"/>
<path d="M43.1 517.91H49.8C76.6 517.91 76.6 517.91 103.4 517.91H110.1V520.45H103.4C76.6 520.45 76.6 520.45 49.8 520.45H43.1Z" fill="#62b8e0" fill-opacity="0.42"/>
<path d="M43.1 535.68H49.8C76.6 535.68 76.6 535.68 103.4 535.68H110.1V538.22H103.4C76.6 538.22 76.6 538.22 49.8 538.22H43.1Z" fill="#62b8e0" fill-opacity="0.42"/>
<path d="M43.1 566.14H49.8C76.6 566.14 76.6 566.14 103.4 566.14H110.1V568.67H103.4C76.6 568.67 76.6 568.67 49.8 568.67H43.1Z" fill="#62b8e0" fill-opacity="0.42"/>
<path d="M43.1 573.75H49.8C76.6 573.75 76.6 573.75 103.4 573.75H110.1V578.83H103.4C76.6 578.83 76.6 578.83 49.8 578.83H43.1Z" fill="#62b8e0" fill-opacity="0.42"/>
<path d="M43.1 591.52H49.8C76.6 591.52 76.6 591.52 103.4 591.52H110.1V594.05H103.4C76.6 594.05 76.6 594.05 49.8 594.05H43.1Z" fill="#62b8e0" fill-opacity="0.42"/>
<path d="M43.1 599.13H49.8C76.6 599.13 76.6 599.13 103.4 599.13H110.1V601.67H103.4C76.6 601.67 76.6 601.67 49.8 601.67H43.1Z" fill="#62b8e0" fill-opacity="0.42"/>
<path d="M43.1 512.84H49.8C76.6 512.84 76.6 512.84 103.4 512.84H110.1V517.91H103.4C76.6 517.91 76.6 517.91 49.8 517.91H43.1Z" fill="#ef8535" fill-opacity="0.46"/>
<path d="M43.1 520.45H49.8C76.6 520.45 76.6 520.45 103.4 520.45H110.1V535.68H103.4C76.6 535.68 76.6 535.68 49.8 535.68H43.1Z" fill="#ef8535" fill-opacity="0.46"/>
<path d="M43.1 538.22H49.8C76.6 538.22 76.6 538.22 103.4 538.22H110.1V566.14H103.4C76.6 566.14 76.6 566.14 49.8 566.14H43.1Z" fill="#ef8535" fill-opacity="0.46"/>
<path d="M43.1 568.67H49.8C76.6 568.67 76.6 568.67 103.4 568.67H110.1V573.75H103.4C76.6 573.75 76.6 573.75 49.8 573.75H43.1Z" fill="#ef8535" fill-opacity="0.46"/>
<path d="M43.1 578.83H49.8C76.6 578.83 76.6 578.83 103.4 578.83H110.1V591.52H103.4C76.6 591.52 76.6 591.52 49.8 591.52H43.1Z" fill="#ef8535" fill-opacity="0.46"/>
<path d="M43.1 594.05H49.8C76.6 594.05 76.6 594.05 103.4 594.05H110.1V599.13H103.4C76.6 599.13 76.6 599.13 49.8 599.13H43.1Z" fill="#ef8535" fill-opacity="0.46"/>
<path d="M43.1 601.67H49.8C76.6 601.67 76.6 601.67 103.4 601.67H110.1V637.20H103.4C76.6 637.20 76.6 637.20 49.8 637.20H43.1Z" fill="#ef8535" fill-opacity="0.46"/>
<path d="M116.9 510.30H123.6C150.3 510.30 150.3 510.30 177.1 510.30H183.8V512.84H177.1C150.3 512.84 150.3 512.84 123.6 512.84H116.9Z" fill="#62b8e0" fill-opacity="0.42"/>
<path d="M116.9 517.91H123.6C150.3 517.91 150.3 528.07 177.1 528.07H183.8V530.60H177.1C150.3 530.60 150.3 520.45 123.6 520.45H116.9Z" fill="#62b8e0" fill-opacity="0.42"/>
<path d="M116.9 535.68H123.6C150.3 535.68 150.3 606.74 177.1 606.74H183.8V609.28H177.1C150.3 609.28 150.3 538.22 123.6 538.22H116.9Z" fill="#62b8e0" fill-opacity="0.42"/>
<path d="M116.9 566.14H123.6C150.3 566.14 150.3 517.91 177.1 517.91H183.8V520.45H177.1C150.3 520.45 150.3 568.67 123.6 568.67H116.9Z" fill="#62b8e0" fill-opacity="0.42"/>
<path d="M116.9 573.75H123.6C150.3 573.75 150.3 545.83 177.1 545.83H183.8V548.37H177.1C150.3 548.37 150.3 576.29 123.6 576.29H116.9Z" fill="#62b8e0" fill-opacity="0.42"/>
<path d="M116.9 576.29H123.6C150.3 576.29 150.3 553.45 177.1 553.45H183.8V555.98H177.1C150.3 555.98 150.3 578.83 123.6 578.83H116.9Z" fill="#62b8e0" fill-opacity="0.42"/>
<path d="M116.9 591.52H123.6C150.3 591.52 150.3 627.05 177.1 627.05H183.8V629.59H177.1C150.3 629.59 150.3 594.05 123.6 594.05H116.9Z" fill="#62b8e0" fill-opacity="0.42"/>
<path d="M116.9 599.13H123.6C150.3 599.13 150.3 576.29 177.1 576.29H183.8V578.83H177.1C150.3 578.83 150.3 601.67 123.6 601.67H116.9Z" fill="#62b8e0" fill-opacity="0.42"/>
<path d="M116.9 512.84H123.6C150.3 512.84 150.3 512.84 177.1 512.84H183.8V517.91H177.1C150.3 517.91 150.3 517.91 123.6 517.91H116.9Z" fill="#ef8535" fill-opacity="0.46"/>
<path d="M116.9 520.45H123.6C150.3 520.45 150.3 538.22 177.1 538.22H183.8V543.29H177.1C150.3 543.29 150.3 525.53 123.6 525.53H116.9Z" fill="#ef8535" fill-opacity="0.46"/>
<path d="M116.9 525.53H123.6C150.3 525.53 150.3 550.91 177.1 550.91H183.8V553.45H177.1C150.3 553.45 150.3 528.07 123.6 528.07H116.9Z" fill="#ef8535" fill-opacity="0.46"/>
<path d="M116.9 528.07H123.6C150.3 528.07 150.3 561.06 177.1 561.06H183.8V563.60H177.1C150.3 563.60 150.3 530.60 123.6 530.60H116.9Z" fill="#ef8535" fill-opacity="0.46"/>
<path d="M116.9 530.60H123.6C150.3 530.60 150.3 568.67 177.1 568.67H183.8V571.21H177.1C150.3 571.21 150.3 533.14 123.6 533.14H116.9Z" fill="#ef8535" fill-opacity="0.46"/>
<path d="M116.9 533.14H123.6C150.3 533.14 150.3 604.21 177.1 604.21H183.8V606.74H177.1C150.3 606.74 150.3 535.68 123.6 535.68H116.9Z" fill="#ef8535" fill-opacity="0.46"/>
<path d="M116.9 538.22H123.6C150.3 538.22 150.3 619.43 177.1 619.43H183.8V624.51H177.1C150.3 624.51 150.3 543.29 123.6 543.29H116.9Z" fill="#ef8535" fill-opacity="0.46"/>
<path d="M116.9 543.29H123.6C150.3 543.29 150.3 533.14 177.1 533.14H183.8V535.68H177.1C150.3 535.68 150.3 545.83 123.6 545.83H116.9Z" fill="#ef8535" fill-opacity="0.46"/>
<path d="M116.9 545.83H123.6C150.3 545.83 150.3 543.29 177.1 543.29H183.8V545.83H177.1C150.3 545.83 150.3 548.37 123.6 548.37H116.9Z" fill="#ef8535" fill-opacity="0.46"/>
<path d="M116.9 548.37H123.6C150.3 548.37 150.3 599.13 177.1 599.13H183.8V601.67H177.1C150.3 601.67 150.3 550.91 123.6 550.91H116.9Z" fill="#ef8535" fill-opacity="0.46"/>
<path d="M116.9 550.91H123.6C150.3 550.91 150.3 624.51 177.1 624.51H183.8V627.05H177.1C150.3 627.05 150.3 553.45 123.6 553.45H116.9Z" fill="#ef8535" fill-opacity="0.46"/>
<path d="M116.9 553.45H123.6C150.3 553.45 150.3 535.68 177.1 535.68H183.8V538.22H177.1C150.3 538.22 150.3 555.98 123.6 555.98H116.9Z" fill="#ef8535" fill-opacity="0.46"/>
<path d="M116.9 555.98H123.6C150.3 555.98 150.3 571.21 177.1 571.21H183.8V573.75H177.1C150.3 573.75 150.3 558.52 123.6 558.52H116.9Z" fill="#ef8535" fill-opacity="0.46"/>
<path d="M116.9 558.52H123.6C150.3 558.52 150.3 588.98 177.1 588.98H183.8V591.52H177.1C150.3 591.52 150.3 561.06 123.6 561.06H116.9Z" fill="#ef8535" fill-opacity="0.46"/>
<path d="M116.9 561.06H123.6C150.3 561.06 150.3 594.05 177.1 594.05H183.8V596.59H177.1C150.3 596.59 150.3 563.60 123.6 563.60H116.9Z" fill="#ef8535" fill-opacity="0.46"/>
<path d="M116.9 563.60H123.6C150.3 563.60 150.3 611.82 177.1 611.82H183.8V614.36H177.1C150.3 614.36 150.3 566.14 123.6 566.14H116.9Z" fill="#ef8535" fill-opacity="0.46"/>
<path d="M116.9 568.67H123.6C150.3 568.67 150.3 520.45 177.1 520.45H183.8V522.99H177.1C150.3 522.99 150.3 571.21 123.6 571.21H116.9Z" fill="#ef8535" fill-opacity="0.46"/>
<path d="M116.9 571.21H123.6C150.3 571.21 150.3 530.60 177.1 530.60H183.8V533.14H177.1C150.3 533.14 150.3 573.75 123.6 573.75H116.9Z" fill="#ef8535" fill-opacity="0.46"/>
<path d="M116.9 578.83H123.6C150.3 578.83 150.3 555.98 177.1 555.98H183.8V558.52H177.1C150.3 558.52 150.3 581.36 123.6 581.36H116.9Z" fill="#ef8535" fill-opacity="0.46"/>
<path d="M116.9 581.36H123.6C150.3 581.36 150.3 563.60 177.1 563.60H183.8V566.14H177.1C150.3 566.14 150.3 583.90 123.6 583.90H116.9Z" fill="#ef8535" fill-opacity="0.46"/>
<path d="M116.9 583.90H123.6C150.3 583.90 150.3 573.75 177.1 573.75H183.8V576.29H177.1C150.3 576.29 150.3 586.44 123.6 586.44H116.9Z" fill="#ef8535" fill-opacity="0.46"/>
<path d="M116.9 586.44H123.6C150.3 586.44 150.3 578.83 177.1 578.83H183.8V583.90H177.1C150.3 583.90 150.3 591.52 123.6 591.52H116.9Z" fill="#ef8535" fill-opacity="0.46"/>
<path d="M116.9 594.05H123.6C150.3 594.05 150.3 629.59 177.1 629.59H183.8V632.12H177.1C150.3 632.12 150.3 596.59 123.6 596.59H116.9Z" fill="#ef8535" fill-opacity="0.46"/>
<path d="M116.9 596.59H123.6C150.3 596.59 150.3 566.14 177.1 566.14H183.8V568.67H177.1C150.3 568.67 150.3 599.13 123.6 599.13H116.9Z" fill="#ef8535" fill-opacity="0.46"/>
<path d="M116.9 601.67H123.6C150.3 601.67 150.3 591.52 177.1 591.52H183.8V594.05H177.1C150.3 594.05 150.3 604.21 123.6 604.21H116.9Z" fill="#ef8535" fill-opacity="0.46"/>
<path d="M116.9 604.21H123.6C150.3 604.21 150.3 522.99 177.1 522.99H183.8V528.07H177.1C150.3 528.07 150.3 609.28 123.6 609.28H116.9Z" fill="#ef8535" fill-opacity="0.46"/>
<path d="M116.9 609.28H123.6C150.3 609.28 150.3 548.37 177.1 548.37H183.8V550.91H177.1C150.3 550.91 150.3 611.82 123.6 611.82H116.9Z" fill="#ef8535" fill-opacity="0.46"/>
<path d="M116.9 611.82H123.6C150.3 611.82 150.3 558.52 177.1 558.52H183.8V561.06H177.1C150.3 561.06 150.3 614.36 123.6 614.36H116.9Z" fill="#ef8535" fill-opacity="0.46"/>
<path d="M116.9 614.36H123.6C150.3 614.36 150.3 583.90 177.1 583.90H183.8V588.98H177.1C150.3 588.98 150.3 619.43 123.6 619.43H116.9Z" fill="#ef8535" fill-opacity="0.46"/>
<path d="M116.9 619.43H123.6C150.3 619.43 150.3 596.59 177.1 596.59H183.8V599.13H177.1C150.3 599.13 150.3 621.97 123.6 621.97H116.9Z" fill="#ef8535" fill-opacity="0.46"/>
<path d="M116.9 621.97H123.6C150.3 621.97 150.3 601.67 177.1 601.67H183.8V604.21H177.1C150.3 604.21 150.3 624.51 123.6 624.51H116.9Z" fill="#ef8535" fill-opacity="0.46"/>
<path d="M116.9 624.51H123.6C150.3 624.51 150.3 609.28 177.1 609.28H183.8V611.82H177.1C150.3 611.82 150.3 627.05 123.6 627.05H116.9Z" fill="#ef8535" fill-opacity="0.46"/>
<path d="M116.9 627.05H123.6C150.3 627.05 150.3 614.36 177.1 614.36H183.8V619.43H177.1C150.3 619.43 150.3 632.12 123.6 632.12H116.9Z" fill="#ef8535" fill-opacity="0.46"/>
<path d="M116.9 632.12H123.6C150.3 632.12 150.3 632.12 177.1 632.12H183.8V637.20H177.1C150.3 637.20 150.3 637.20 123.6 637.20H116.9Z" fill="#ef8535" fill-opacity="0.46"/>
<path d="M190.6 510.30H197.3C224.3 510.30 224.3 510.30 251.3 510.30H258.0V512.84H251.3C224.3 512.84 224.3 512.84 197.3 512.84H190.6Z" fill="#62b8e0" fill-opacity="0.42"/>
<path d="M190.6 517.91H197.3C224.3 517.91 224.3 517.91 251.3 517.91H258.0V520.45H251.3C224.3 520.45 224.3 520.45 197.3 520.45H190.6Z" fill="#62b8e0" fill-opacity="0.42"/>
<path d="M190.6 528.07H197.3C224.3 528.07 224.3 545.83 251.3 545.83H258.0V548.37H251.3C224.3 548.37 224.3 530.60 197.3 530.60H190.6Z" fill="#62b8e0" fill-opacity="0.42"/>
<path d="M190.6 545.83H197.3C224.3 545.83 224.3 535.68 251.3 535.68H258.0V538.22H251.3C224.3 538.22 224.3 548.37 197.3 548.37H190.6Z" fill="#62b8e0" fill-opacity="0.42"/>
<path d="M190.6 553.45H197.3C224.3 553.45 224.3 553.45 251.3 553.45H258.0V555.98H251.3C224.3 555.98 224.3 555.98 197.3 555.98H190.6Z" fill="#62b8e0" fill-opacity="0.42"/>
<path d="M190.6 576.29H197.3C224.3 576.29 224.3 594.05 251.3 594.05H258.0V596.59H251.3C224.3 596.59 224.3 578.83 197.3 578.83H190.6Z" fill="#62b8e0" fill-opacity="0.42"/>
<path d="M190.6 606.74H197.3C224.3 606.74 224.3 586.44 251.3 586.44H258.0V588.98H251.3C224.3 588.98 224.3 609.28 197.3 609.28H190.6Z" fill="#62b8e0" fill-opacity="0.42"/>
<path d="M190.6 627.05H197.3C224.3 627.05 224.3 624.51 251.3 624.51H258.0V627.05H251.3C224.3 627.05 224.3 629.59 197.3 629.59H190.6Z" fill="#62b8e0" fill-opacity="0.42"/>
<path d="M190.6 512.84H197.3C224.3 512.84 224.3 512.84 251.3 512.84H258.0V517.91H251.3C224.3 517.91 224.3 517.91 197.3 517.91H190.6Z" fill="#ef8535" fill-opacity="0.46"/>
<path d="M190.6 520.45H197.3C224.3 520.45 224.3 520.45 251.3 520.45H258.0V528.07H251.3C224.3 528.07 224.3 528.07 197.3 528.07H190.6Z" fill="#ef8535" fill-opacity="0.46"/>
<path d="M190.6 530.60H197.3C224.3 530.60 224.3 548.37 251.3 548.37H258.0V550.91H251.3C224.3 550.91 224.3 533.14 197.3 533.14H190.6Z" fill="#ef8535" fill-opacity="0.46"/>
<path d="M190.6 533.14H197.3C224.3 533.14 224.3 604.21 251.3 604.21H258.0V606.74H251.3C224.3 606.74 224.3 535.68 197.3 535.68H190.6Z" fill="#ef8535" fill-opacity="0.46"/>
<path d="M190.6 535.68H197.3C224.3 535.68 224.3 627.05 251.3 627.05H258.0V629.59H251.3C224.3 629.59 224.3 538.22 197.3 538.22H190.6Z" fill="#ef8535" fill-opacity="0.46"/>
<path d="M190.6 538.22H197.3C224.3 538.22 224.3 528.07 251.3 528.07H258.0V535.68H251.3C224.3 535.68 224.3 545.83 197.3 545.83H190.6Z" fill="#ef8535" fill-opacity="0.46"/>
<path d="M190.6 548.37H197.3C224.3 548.37 224.3 538.22 251.3 538.22H258.0V540.76H251.3C224.3 540.76 224.3 550.91 197.3 550.91H190.6Z" fill="#ef8535" fill-opacity="0.46"/>
<path d="M190.6 550.91H197.3C224.3 550.91 224.3 550.91 251.3 550.91H258.0V553.45H251.3C224.3 553.45 224.3 553.45 197.3 553.45H190.6Z" fill="#ef8535" fill-opacity="0.46"/>
<path d="M190.6 555.98H197.3C224.3 555.98 224.3 555.98 251.3 555.98H258.0V561.06H251.3C224.3 561.06 224.3 561.06 197.3 561.06H190.6Z" fill="#ef8535" fill-opacity="0.46"/>
<path d="M190.6 561.06H197.3C224.3 561.06 224.3 566.14 251.3 566.14H258.0V573.75H251.3C224.3 573.75 224.3 568.67 197.3 568.67H190.6Z" fill="#ef8535" fill-opacity="0.46"/>
<path d="M190.6 568.67H197.3C224.3 568.67 224.3 578.83 251.3 578.83H258.0V583.90H251.3C224.3 583.90 224.3 573.75 197.3 573.75H190.6Z" fill="#ef8535" fill-opacity="0.46"/>
<path d="M190.6 573.75H197.3C224.3 573.75 224.3 591.52 251.3 591.52H258.0V594.05H251.3C224.3 594.05 224.3 576.29 197.3 576.29H190.6Z" fill="#ef8535" fill-opacity="0.46"/>
<path d="M190.6 578.83H197.3C224.3 578.83 224.3 606.74 251.3 606.74H258.0V616.90H251.3C224.3 616.90 224.3 588.98 197.3 588.98H190.6Z" fill="#ef8535" fill-opacity="0.46"/>
<path d="M190.6 588.98H197.3C224.3 588.98 224.3 540.76 251.3 540.76H258.0V545.83H251.3C224.3 545.83 224.3 594.05 197.3 594.05H190.6Z" fill="#ef8535" fill-opacity="0.46"/>
<path d="M190.6 594.05H197.3C224.3 594.05 224.3 561.06 251.3 561.06H258.0V566.14H251.3C224.3 566.14 224.3 599.13 197.3 599.13H190.6Z" fill="#ef8535" fill-opacity="0.46"/>
<path d="M190.6 599.13H197.3C224.3 599.13 224.3 573.75 251.3 573.75H258.0V578.83H251.3C224.3 578.83 224.3 604.21 197.3 604.21H190.6Z" fill="#ef8535" fill-opacity="0.46"/>
<path d="M190.6 604.21H197.3C224.3 604.21 224.3 583.90 251.3 583.90H258.0V586.44H251.3C224.3 586.44 224.3 606.74 197.3 606.74H190.6Z" fill="#ef8535" fill-opacity="0.46"/>
<path d="M190.6 609.28H197.3C224.3 609.28 224.3 588.98 251.3 588.98H258.0V591.52H251.3C224.3 591.52 224.3 611.82 197.3 611.82H190.6Z" fill="#ef8535" fill-opacity="0.46"/>
<path d="M190.6 611.82H197.3C224.3 611.82 224.3 596.59 251.3 596.59H258.0V601.67H251.3C224.3 601.67 224.3 616.90 197.3 616.90H190.6Z" fill="#ef8535" fill-opacity="0.46"/>
<path d="M190.6 616.90H197.3C224.3 616.90 224.3 616.90 251.3 616.90H258.0V619.43H251.3C224.3 619.43 224.3 619.43 197.3 619.43H190.6Z" fill="#ef8535" fill-opacity="0.46"/>
<path d="M190.6 619.43H197.3C224.3 619.43 224.3 601.67 251.3 601.67H258.0V604.21H251.3C224.3 604.21 224.3 621.97 197.3 621.97H190.6Z" fill="#ef8535" fill-opacity="0.46"/>
<path d="M190.6 621.97H197.3C224.3 621.97 224.3 619.43 251.3 619.43H258.0V624.51H251.3C224.3 624.51 224.3 627.05 197.3 627.05H190.6Z" fill="#ef8535" fill-opacity="0.46"/>
<path d="M190.6 629.59H197.3C224.3 629.59 224.3 629.59 251.3 629.59H258.0V637.20H251.3C224.3 637.20 224.3 637.20 197.3 637.20H190.6Z" fill="#ef8535" fill-opacity="0.46"/>
</g>
<rect x="36.30" y="510.30" width="6.80" height="126.90" fill="#fff" stroke="#231f20" stroke-width="0.55"/>
<line x1="36.30" y1="543.29" x2="43.10" y2="543.29" stroke="#231f20" stroke-width="0.5"/>
<line x1="36.30" y1="553.45" x2="43.10" y2="553.45" stroke="#231f20" stroke-width="0.5"/>
<line x1="36.30" y1="566.14" x2="43.10" y2="566.14" stroke="#231f20" stroke-width="0.5"/>
<line x1="36.30" y1="596.59" x2="43.10" y2="596.59" stroke="#231f20" stroke-width="0.5"/>
<line x1="36.30" y1="604.21" x2="43.10" y2="604.21" stroke="#231f20" stroke-width="0.5"/>
<rect x="110.10" y="510.30" width="6.80" height="126.90" fill="#fff" stroke="#231f20" stroke-width="0.55"/>
<rect x="183.80" y="510.30" width="6.80" height="126.90" fill="#fff" stroke="#231f20" stroke-width="0.55"/>
<line x1="183.80" y1="538.22" x2="190.60" y2="538.22" stroke="#231f20" stroke-width="0.5"/>
<line x1="183.80" y1="588.98" x2="190.60" y2="588.98" stroke="#231f20" stroke-width="0.5"/>
<line x1="183.80" y1="619.43" x2="190.60" y2="619.43" stroke="#231f20" stroke-width="0.5"/>
<rect x="258.00" y="510.30" width="6.80" height="126.90" fill="#fff" stroke="#231f20" stroke-width="0.55"/>
<line x1="258.00" y1="545.83" x2="264.80" y2="545.83" stroke="#231f20" stroke-width="0.5"/>
<line x1="258.00" y1="566.14" x2="264.80" y2="566.14" stroke="#231f20" stroke-width="0.5"/>
<line x1="258.00" y1="578.83" x2="264.80" y2="578.83" stroke="#231f20" stroke-width="0.5"/>
<line x1="258.00" y1="591.52" x2="264.80" y2="591.52" stroke="#231f20" stroke-width="0.5"/>
<line x1="258.00" y1="604.21" x2="264.80" y2="604.21" stroke="#231f20" stroke-width="0.5"/>
<line x1="258.00" y1="627.05" x2="264.80" y2="627.05" stroke="#231f20" stroke-width="0.5"/>
<rect x="32.26" y="523.40" width="14.88" height="6.80" fill="#fff" stroke="#6d6e71" stroke-width="0.4" rx="1.6" ry="1.6"/>
<text x="39.70" y="528.65" font-size="5.2" text-anchor="middle" fill="#2a2a2a">Endo</text>
<rect x="30.90" y="544.97" width="17.60" height="6.80" fill="#fff" stroke="#6d6e71" stroke-width="0.4" rx="1.6" ry="1.6"/>
<text x="39.70" y="550.22" font-size="5.2" text-anchor="middle" fill="#2a2a2a">Fibro</text>
<rect x="32.26" y="556.39" width="14.88" height="6.80" fill="#fff" stroke="#6d6e71" stroke-width="0.4" rx="1.6" ry="1.6"/>
<text x="39.70" y="561.64" font-size="5.2" text-anchor="middle" fill="#2a2a2a">HSPC</text>
<rect x="34.98" y="577.96" width="9.44" height="6.80" fill="#fff" stroke="#6d6e71" stroke-width="0.4" rx="1.6" ry="1.6"/>
<text x="39.70" y="583.21" font-size="5.2" text-anchor="middle" fill="#2a2a2a">MK</text>
<rect x="32.26" y="597.00" width="14.88" height="6.80" fill="#fff" stroke="#6d6e71" stroke-width="0.4" rx="1.6" ry="1.6"/>
<text x="39.70" y="602.25" font-size="5.2" text-anchor="middle" fill="#2a2a2a">Mono</text>
<rect x="33.62" y="617.30" width="12.16" height="6.80" fill="#fff" stroke="#6d6e71" stroke-width="0.4" rx="1.6" ry="1.6"/>
<text x="39.70" y="622.55" font-size="5.2" text-anchor="middle" fill="#2a2a2a">MSC</text>
<rect x="106.06" y="570.35" width="14.88" height="6.80" fill="#fff" stroke="#6d6e71" stroke-width="0.4" rx="1.6" ry="1.6"/>
<text x="113.50" y="575.60" font-size="5.2" text-anchor="middle" fill="#2a2a2a">TGFβ</text>
<rect x="164.80" y="520.86" width="44.80" height="6.80" fill="#fff" stroke="#6d6e71" stroke-width="0.4" rx="1.6" ry="1.6"/>
<text x="187.20" y="526.11" font-size="5.2" text-anchor="middle" fill="#2a2a2a">TGFβ receptor 3</text>
<rect x="164.80" y="560.20" width="44.80" height="6.80" fill="#fff" stroke="#6d6e71" stroke-width="0.4" rx="1.6" ry="1.6"/>
<text x="187.20" y="565.45" font-size="5.2" text-anchor="middle" fill="#2a2a2a">TGFβ receptor 1</text>
<rect x="164.80" y="600.81" width="44.80" height="6.80" fill="#fff" stroke="#6d6e71" stroke-width="0.4" rx="1.6" ry="1.6"/>
<text x="187.20" y="606.06" font-size="5.2" text-anchor="middle" fill="#2a2a2a">TGFβ receptor 2</text>
<rect x="168.88" y="624.92" width="36.64" height="6.80" fill="#fff" stroke="#6d6e71" stroke-width="0.4" rx="1.6" ry="1.6"/>
<text x="187.20" y="630.17" font-size="5.2" text-anchor="middle" fill="#2a2a2a">EGF receptor</text>
<rect x="253.96" y="524.67" width="14.88" height="6.80" fill="#fff" stroke="#6d6e71" stroke-width="0.4" rx="1.6" ry="1.6"/>
<text x="261.40" y="529.92" font-size="5.2" text-anchor="middle" fill="#2a2a2a">Endo</text>
<rect x="252.60" y="552.58" width="17.60" height="6.80" fill="#fff" stroke="#6d6e71" stroke-width="0.4" rx="1.6" ry="1.6"/>
<text x="261.40" y="557.83" font-size="5.2" text-anchor="middle" fill="#2a2a2a">Fibro</text>
<rect x="253.96" y="569.08" width="14.88" height="6.80" fill="#fff" stroke="#6d6e71" stroke-width="0.4" rx="1.6" ry="1.6"/>
<text x="261.40" y="574.33" font-size="5.2" text-anchor="middle" fill="#2a2a2a">HSPC</text>
<rect x="256.68" y="581.77" width="9.44" height="6.80" fill="#fff" stroke="#6d6e71" stroke-width="0.4" rx="1.6" ry="1.6"/>
<text x="261.40" y="587.02" font-size="5.2" text-anchor="middle" fill="#2a2a2a">MK</text>
<rect x="253.96" y="594.46" width="14.88" height="6.80" fill="#fff" stroke="#6d6e71" stroke-width="0.4" rx="1.6" ry="1.6"/>
<text x="261.40" y="599.71" font-size="5.2" text-anchor="middle" fill="#2a2a2a">Mono</text>
<rect x="255.32" y="612.23" width="12.16" height="6.80" fill="#fff" stroke="#6d6e71" stroke-width="0.4" rx="1.6" ry="1.6"/>
<text x="261.40" y="617.48" font-size="5.2" text-anchor="middle" fill="#2a2a2a">MSC</text>
<rect x="255.32" y="628.72" width="12.16" height="6.80" fill="#fff" stroke="#6d6e71" stroke-width="0.4" rx="1.6" ry="1.6"/>
<text x="261.40" y="633.97" font-size="5.2" text-anchor="middle" fill="#2a2a2a">Ery</text>
<text x="23.60" y="639.90" font-size="7.6" text-anchor="end" fill="#231f20">0</text>
<text x="23.60" y="614.52" font-size="7.6" text-anchor="end" fill="#231f20">10</text>
<text x="23.60" y="589.14" font-size="7.6" text-anchor="end" fill="#231f20">20</text>
<text x="23.60" y="563.76" font-size="7.6" text-anchor="end" fill="#231f20">30</text>
<text x="23.60" y="538.38" font-size="7.6" text-anchor="end" fill="#231f20">40</text>
<text x="23.60" y="513.00" font-size="7.6" text-anchor="end" fill="#231f20">50</text>
<text x="9.00" y="574.75" font-size="6.9" text-anchor="middle" font-weight="bold" stroke="none" fill="#000" transform="rotate(-90 9.00 574.75)">TGFβ1</text>
<text x="1.80" y="492.00" font-size="9.5" font-weight="bold" stroke="none" fill="#000">F</text>
<text x="39.40" y="650.60" font-size="7.6" text-anchor="middle" fill="#231f20">Ligand cluster</text>
<text x="113.20" y="650.60" font-size="7.6" text-anchor="middle" fill="#231f20">Ligand</text>
<text x="186.90" y="650.60" font-size="7.6" text-anchor="middle" fill="#231f20">Receptor</text>
<text x="260.60" y="650.60" font-size="7.6" text-anchor="middle" fill="#231f20">Receptor cluster</text>
</g>
<g id="panelG">
<g stroke="none">
<path d="M43.1 668.37H49.8C76.6 668.37 76.6 668.37 103.4 668.37H110.1V674.74H103.4C76.6 674.74 76.6 674.74 49.8 674.74H43.1Z" fill="#62b8e0" fill-opacity="0.42"/>
<path d="M43.1 693.85H49.8C76.6 693.85 76.6 693.85 103.4 693.85H110.1V700.22H103.4C76.6 700.22 76.6 700.22 49.8 700.22H43.1Z" fill="#62b8e0" fill-opacity="0.42"/>
<path d="M43.1 725.70H49.8C76.6 725.70 76.6 725.70 103.4 725.70H110.1V738.44H103.4C76.6 738.44 76.6 738.44 49.8 738.44H43.1Z" fill="#62b8e0" fill-opacity="0.42"/>
<path d="M43.1 751.18H49.8C76.6 751.18 76.6 751.18 103.4 751.18H110.1V757.55H103.4C76.6 757.55 76.6 757.55 49.8 757.55H43.1Z" fill="#62b8e0" fill-opacity="0.42"/>
<path d="M43.1 662.00H49.8C76.6 662.00 76.6 662.00 103.4 662.00H110.1V668.37H103.4C76.6 668.37 76.6 668.37 49.8 668.37H43.1Z" fill="#ef8535" fill-opacity="0.46"/>
<path d="M43.1 674.74H49.8C76.6 674.74 76.6 674.74 103.4 674.74H110.1V693.85H103.4C76.6 693.85 76.6 693.85 49.8 693.85H43.1Z" fill="#ef8535" fill-opacity="0.46"/>
<path d="M43.1 700.22H49.8C76.6 700.22 76.6 700.22 103.4 700.22H110.1V725.70H103.4C76.6 725.70 76.6 725.70 49.8 725.70H43.1Z" fill="#ef8535" fill-opacity="0.46"/>
<path d="M43.1 738.44H49.8C76.6 738.44 76.6 738.44 103.4 738.44H110.1V751.18H103.4C76.6 751.18 76.6 751.18 49.8 751.18H43.1Z" fill="#ef8535" fill-opacity="0.46"/>
<path d="M43.1 757.55H49.8C76.6 757.55 76.6 757.55 103.4 757.55H110.1V789.40H103.4C76.6 789.40 76.6 789.40 49.8 789.40H43.1Z" fill="#ef8535" fill-opacity="0.46"/>
<path d="M116.9 668.37H123.6C150.3 668.37 150.3 674.74 177.1 674.74H183.8V681.11H177.1C150.3 681.11 150.3 674.74 123.6 674.74H116.9Z" fill="#62b8e0" fill-opacity="0.42"/>
<path d="M116.9 693.85H123.6C150.3 693.85 150.3 687.48 177.1 687.48H183.8V693.85H177.1C150.3 693.85 150.3 700.22 123.6 700.22H116.9Z" fill="#62b8e0" fill-opacity="0.42"/>
<path d="M116.9 725.70H123.6C150.3 725.70 150.3 738.44 177.1 738.44H183.8V744.81H177.1C150.3 744.81 150.3 732.07 123.6 732.07H116.9Z" fill="#62b8e0" fill-opacity="0.42"/>
<path d="M116.9 732.07H123.6C150.3 732.07 150.3 776.66 177.1 776.66H183.8V783.03H177.1C150.3 783.03 150.3 738.44 123.6 738.44H116.9Z" fill="#62b8e0" fill-opacity="0.42"/>
<path d="M116.9 751.18H123.6C150.3 751.18 150.3 693.85 177.1 693.85H183.8V700.22H177.1C150.3 700.22 150.3 757.55 123.6 757.55H116.9Z" fill="#62b8e0" fill-opacity="0.42"/>
<path d="M116.9 662.00H123.6C150.3 662.00 150.3 662.00 177.1 662.00H183.8V668.37H177.1C150.3 668.37 150.3 668.37 123.6 668.37H116.9Z" fill="#ef8535" fill-opacity="0.46"/>
<path d="M116.9 674.74H123.6C150.3 674.74 150.3 706.59 177.1 706.59H183.8V712.96H177.1C150.3 712.96 150.3 681.11 123.6 681.11H116.9Z" fill="#ef8535" fill-opacity="0.46"/>
<path d="M116.9 681.11H123.6C150.3 681.11 150.3 725.70 177.1 725.70H183.8V732.07H177.1C150.3 732.07 150.3 687.48 123.6 687.48H116.9Z" fill="#ef8535" fill-opacity="0.46"/>
<path d="M116.9 687.48H123.6C150.3 687.48 150.3 668.37 177.1 668.37H183.8V674.74H177.1C150.3 674.74 150.3 693.85 123.6 693.85H116.9Z" fill="#ef8535" fill-opacity="0.46"/>
<path d="M116.9 700.22H123.6C150.3 700.22 150.3 712.96 177.1 712.96H183.8V719.33H177.1C150.3 719.33 150.3 706.59 123.6 706.59H116.9Z" fill="#ef8535" fill-opacity="0.46"/>
<path d="M116.9 706.59H123.6C150.3 706.59 150.3 732.07 177.1 732.07H183.8V738.44H177.1C150.3 738.44 150.3 712.96 123.6 712.96H116.9Z" fill="#ef8535" fill-opacity="0.46"/>
<path d="M116.9 712.96H123.6C150.3 712.96 150.3 757.55 177.1 757.55H183.8V763.92H177.1C150.3 763.92 150.3 719.33 123.6 719.33H116.9Z" fill="#ef8535" fill-opacity="0.46"/>
<path d="M116.9 719.33H123.6C150.3 719.33 150.3 770.29 177.1 770.29H183.8V776.66H177.1C150.3 776.66 150.3 725.70 123.6 725.70H116.9Z" fill="#ef8535" fill-opacity="0.46"/>
<path d="M116.9 738.44H123.6C150.3 738.44 150.3 700.22 177.1 700.22H183.8V706.59H177.1C150.3 706.59 150.3 744.81 123.6 744.81H116.9Z" fill="#ef8535" fill-opacity="0.46"/>
<path d="M116.9 744.81H123.6C150.3 744.81 150.3 681.11 177.1 681.11H183.8V687.48H177.1C150.3 687.48 150.3 751.18 123.6 751.18H116.9Z" fill="#ef8535" fill-opacity="0.46"/>
<path d="M116.9 757.55H123.6C150.3 757.55 150.3 719.33 177.1 719.33H183.8V725.70H177.1C150.3 725.70 150.3 763.92 123.6 763.92H116.9Z" fill="#ef8535" fill-opacity="0.46"/>
<path d="M116.9 763.92H123.6C150.3 763.92 150.3 744.81 177.1 744.81H183.8V757.55H177.1C150.3 757.55 150.3 776.66 123.6 776.66H116.9Z" fill="#ef8535" fill-opacity="0.46"/>
<path d="M116.9 776.66H123.6C150.3 776.66 150.3 763.92 177.1 763.92H183.8V770.29H177.1C150.3 770.29 150.3 783.03 123.6 783.03H116.9Z" fill="#ef8535" fill-opacity="0.46"/>
<path d="M116.9 783.03H123.6C150.3 783.03 150.3 783.03 177.1 783.03H183.8V789.40H177.1C150.3 789.40 150.3 789.40 123.6 789.40H116.9Z" fill="#ef8535" fill-opacity="0.46"/>
<path d="M190.6 674.74H197.3C224.3 674.74 224.3 687.48 251.3 687.48H258.0V693.85H251.3C224.3 693.85 224.3 681.11 197.3 681.11H190.6Z" fill="#62b8e0" fill-opacity="0.42"/>
<path d="M190.6 687.48H197.3C224.3 687.48 224.3 712.96 251.3 712.96H258.0V725.70H251.3C224.3 725.70 224.3 700.22 197.3 700.22H190.6Z" fill="#62b8e0" fill-opacity="0.42"/>
<path d="M190.6 738.44H197.3C224.3 738.44 224.3 700.22 251.3 700.22H258.0V706.59H251.3C224.3 706.59 224.3 744.81 197.3 744.81H190.6Z" fill="#62b8e0" fill-opacity="0.42"/>
<path d="M190.6 776.66H197.3C224.3 776.66 224.3 776.66 251.3 776.66H258.0V783.03H251.3C224.3 783.03 224.3 783.03 197.3 783.03H190.6Z" fill="#62b8e0" fill-opacity="0.42"/>
<path d="M190.6 662.00H197.3C224.3 662.00 224.3 662.00 251.3 662.00H258.0V674.74H251.3C224.3 674.74 224.3 674.74 197.3 674.74H190.6Z" fill="#ef8535" fill-opacity="0.46"/>
<path d="M190.6 681.11H197.3C224.3 681.11 224.3 693.85 251.3 693.85H258.0V700.22H251.3C224.3 700.22 224.3 687.48 197.3 687.48H190.6Z" fill="#ef8535" fill-opacity="0.46"/>
<path d="M190.6 700.22H197.3C224.3 700.22 224.3 732.07 251.3 732.07H258.0V757.55H251.3C224.3 757.55 224.3 725.70 197.3 725.70H190.6Z" fill="#ef8535" fill-opacity="0.46"/>
<path d="M190.6 725.70H197.3C224.3 725.70 224.3 674.74 251.3 674.74H258.0V687.48H251.3C224.3 687.48 224.3 738.44 197.3 738.44H190.6Z" fill="#ef8535" fill-opacity="0.46"/>
<path d="M190.6 744.81H197.3C224.3 744.81 224.3 706.59 251.3 706.59H258.0V712.96H251.3C224.3 712.96 224.3 751.18 197.3 751.18H190.6Z" fill="#ef8535" fill-opacity="0.46"/>
<path d="M190.6 751.18H197.3C224.3 751.18 224.3 725.70 251.3 725.70H258.0V732.07H251.3C224.3 732.07 224.3 757.55 197.3 757.55H190.6Z" fill="#ef8535" fill-opacity="0.46"/>
<path d="M190.6 757.55H197.3C224.3 757.55 224.3 757.55 251.3 757.55H258.0V776.66H251.3C224.3 776.66 224.3 776.66 197.3 776.66H190.6Z" fill="#ef8535" fill-opacity="0.46"/>
<path d="M190.6 783.03H197.3C224.3 783.03 224.3 783.03 251.3 783.03H258.0V789.40H251.3C224.3 789.40 224.3 789.40 197.3 789.40H190.6Z" fill="#ef8535" fill-opacity="0.46"/>
</g>
<rect x="36.30" y="662.00" width="6.80" height="127.40" fill="#fff" stroke="#231f20" stroke-width="0.55"/>
<line x1="36.30" y1="687.48" x2="43.10" y2="687.48" stroke="#231f20" stroke-width="0.5"/>
<line x1="36.30" y1="725.70" x2="43.10" y2="725.70" stroke="#231f20" stroke-width="0.5"/>
<line x1="36.30" y1="738.44" x2="43.10" y2="738.44" stroke="#231f20" stroke-width="0.5"/>
<line x1="36.30" y1="744.81" x2="43.10" y2="744.81" stroke="#231f20" stroke-width="0.5"/>
<rect x="110.10" y="662.00" width="6.80" height="127.40" fill="#fff" stroke="#231f20" stroke-width="0.55"/>
<rect x="183.80" y="662.00" width="6.80" height="127.40" fill="#fff" stroke="#231f20" stroke-width="0.55"/>
<line x1="183.80" y1="725.70" x2="190.60" y2="725.70" stroke="#231f20" stroke-width="0.5"/>
<rect x="258.00" y="662.00" width="6.80" height="127.40" fill="#fff" stroke="#231f20" stroke-width="0.55"/>
<line x1="258.00" y1="687.48" x2="264.80" y2="687.48" stroke="#231f20" stroke-width="0.5"/>
<line x1="258.00" y1="712.96" x2="264.80" y2="712.96" stroke="#231f20" stroke-width="0.5"/>
<line x1="258.00" y1="732.07" x2="264.80" y2="732.07" stroke="#231f20" stroke-width="0.5"/>
<line x1="258.00" y1="738.44" x2="264.80" y2="738.44" stroke="#231f20" stroke-width="0.5"/>
<line x1="258.00" y1="770.29" x2="264.80" y2="770.29" stroke="#231f20" stroke-width="0.5"/>
<rect x="32.26" y="671.34" width="14.88" height="6.80" fill="#fff" stroke="#6d6e71" stroke-width="0.4" rx="1.6" ry="1.6"/>
<text x="39.70" y="676.59" font-size="5.2" text-anchor="middle" fill="#2a2a2a">Endo</text>
<rect x="30.90" y="703.19" width="17.60" height="6.80" fill="#fff" stroke="#6d6e71" stroke-width="0.4" rx="1.6" ry="1.6"/>
<text x="39.70" y="708.44" font-size="5.2" text-anchor="middle" fill="#2a2a2a">Fibro</text>
<rect x="32.26" y="728.67" width="14.88" height="6.80" fill="#fff" stroke="#6d6e71" stroke-width="0.4" rx="1.6" ry="1.6"/>
<text x="39.70" y="733.92" font-size="5.2" text-anchor="middle" fill="#2a2a2a">HSPC</text>
<rect x="34.98" y="738.23" width="9.44" height="6.80" fill="#fff" stroke="#6d6e71" stroke-width="0.4" rx="1.6" ry="1.6"/>
<text x="39.70" y="743.48" font-size="5.2" text-anchor="middle" fill="#2a2a2a">MK</text>
<rect x="33.62" y="763.71" width="12.16" height="6.80" fill="#fff" stroke="#6d6e71" stroke-width="0.4" rx="1.6" ry="1.6"/>
<text x="39.70" y="768.96" font-size="5.2" text-anchor="middle" fill="#2a2a2a">MSC</text>
<rect x="103.34" y="722.30" width="20.32" height="6.80" fill="#fff" stroke="#6d6e71" stroke-width="0.4" rx="1.6" ry="1.6"/>
<text x="113.50" y="727.55" font-size="5.2" text-anchor="middle" fill="#2a2a2a">CXCL12</text>
<rect x="178.40" y="690.45" width="17.60" height="6.80" fill="#fff" stroke="#6d6e71" stroke-width="0.4" rx="1.6" ry="1.6"/>
<text x="187.20" y="695.70" font-size="5.2" text-anchor="middle" fill="#2a2a2a">ACKR3</text>
<rect x="178.40" y="754.15" width="17.60" height="6.80" fill="#fff" stroke="#6d6e71" stroke-width="0.4" rx="1.6" ry="1.6"/>
<text x="187.20" y="759.40" font-size="5.2" text-anchor="middle" fill="#2a2a2a">CXCR4</text>
<rect x="253.96" y="671.34" width="14.88" height="6.80" fill="#fff" stroke="#6d6e71" stroke-width="0.4" rx="1.6" ry="1.6"/>
<text x="261.40" y="676.59" font-size="5.2" text-anchor="middle" fill="#2a2a2a">Endo</text>
<rect x="252.60" y="696.82" width="17.60" height="6.80" fill="#fff" stroke="#6d6e71" stroke-width="0.4" rx="1.6" ry="1.6"/>
<text x="261.40" y="702.07" font-size="5.2" text-anchor="middle" fill="#2a2a2a">Fibro</text>
<rect x="253.96" y="719.12" width="14.88" height="6.80" fill="#fff" stroke="#6d6e71" stroke-width="0.4" rx="1.6" ry="1.6"/>
<text x="261.40" y="724.37" font-size="5.2" text-anchor="middle" fill="#2a2a2a">HSPC</text>
<rect x="256.68" y="731.86" width="9.44" height="6.80" fill="#fff" stroke="#6d6e71" stroke-width="0.4" rx="1.6" ry="1.6"/>
<text x="261.40" y="737.11" font-size="5.2" text-anchor="middle" fill="#2a2a2a">MK</text>
<rect x="255.32" y="750.97" width="12.16" height="6.80" fill="#fff" stroke="#6d6e71" stroke-width="0.4" rx="1.6" ry="1.6"/>
<text x="261.40" y="756.22" font-size="5.2" text-anchor="middle" fill="#2a2a2a">MSC</text>
<rect x="253.96" y="776.45" width="14.88" height="6.80" fill="#fff" stroke="#6d6e71" stroke-width="0.4" rx="1.6" ry="1.6"/>
<text x="261.40" y="781.70" font-size="5.2" text-anchor="middle" fill="#2a2a2a">Mono</text>
<text x="23.60" y="792.10" font-size="7.6" text-anchor="end" fill="#231f20">0</text>
<text x="23.60" y="728.40" font-size="7.6" text-anchor="end" fill="#231f20">10</text>
<text x="23.60" y="664.70" font-size="7.6" text-anchor="end" fill="#231f20">20</text>
<text x="9.00" y="726.70" font-size="6.9" text-anchor="middle" font-weight="bold" stroke="none" fill="#000" transform="rotate(-90 9.00 726.70)">CXCL12</text>
<text x="1.80" y="664.20" font-size="9.5" font-weight="bold" stroke="none" fill="#000">G</text>
<text x="39.40" y="803.40" font-size="7.6" text-anchor="middle" fill="#231f20">Ligand cluster</text>
<text x="113.20" y="803.40" font-size="7.6" text-anchor="middle" fill="#231f20">Ligand</text>
<text x="186.90" y="803.40" font-size="7.6" text-anchor="middle" fill="#231f20">Receptor</text>
<text x="260.60" y="803.40" font-size="7.6" text-anchor="middle" fill="#231f20">Receptor cluster</text>
</g>
<g id="panelH">
<g stroke="none">
<path d="M43.1 821.00H49.8C76.6 821.00 76.6 821.00 103.4 821.00H110.1V823.55H103.4C76.6 823.55 76.6 823.55 49.8 823.55H43.1Z" fill="#62b8e0" fill-opacity="0.42"/>
<path d="M43.1 826.11H49.8C76.6 826.11 76.6 826.11 103.4 826.11H110.1V828.66H103.4C76.6 828.66 76.6 828.66 49.8 828.66H43.1Z" fill="#62b8e0" fill-opacity="0.42"/>
<path d="M43.1 828.66H49.8C76.6 828.66 76.6 851.65 103.4 851.65H110.1V854.20H103.4C76.6 854.20 76.6 831.22 49.8 831.22H43.1Z" fill="#62b8e0" fill-opacity="0.42"/>
<path d="M43.1 831.22H49.8C76.6 831.22 76.6 866.97 103.4 866.97H110.1V869.53H103.4C76.6 869.53 76.6 833.77 49.8 833.77H43.1Z" fill="#62b8e0" fill-opacity="0.42"/>
<path d="M43.1 833.77H49.8C76.6 833.77 76.6 828.66 103.4 828.66H110.1V838.88H103.4C76.6 838.88 76.6 843.99 49.8 843.99H43.1Z" fill="#62b8e0" fill-opacity="0.42"/>
<path d="M43.1 846.54H49.8C76.6 846.54 76.6 854.20 103.4 854.20H110.1V859.31H103.4C76.6 859.31 76.6 851.65 49.8 851.65H43.1Z" fill="#62b8e0" fill-opacity="0.42"/>
<path d="M43.1 851.65H49.8C76.6 851.65 76.6 895.07 103.4 895.07H110.1V897.62H103.4C76.6 897.62 76.6 854.20 49.8 854.20H43.1Z" fill="#62b8e0" fill-opacity="0.42"/>
<path d="M43.1 854.20H49.8C76.6 854.20 76.6 841.43 103.4 841.43H110.1V846.54H103.4C76.6 846.54 76.6 859.31 49.8 859.31H43.1Z" fill="#62b8e0" fill-opacity="0.42"/>
<path d="M43.1 859.31H49.8C76.6 859.31 76.6 859.31 103.4 859.31H110.1V861.86H103.4C76.6 861.86 76.6 861.86 49.8 861.86H43.1Z" fill="#62b8e0" fill-opacity="0.42"/>
<path d="M43.1 861.86H49.8C76.6 861.86 76.6 869.53 103.4 869.53H110.1V872.08H103.4C76.6 872.08 76.6 864.42 49.8 864.42H43.1Z" fill="#62b8e0" fill-opacity="0.42"/>
<path d="M43.1 869.53H49.8C76.6 869.53 76.6 897.62 103.4 897.62H110.1V900.17H103.4C76.6 900.17 76.6 872.08 49.8 872.08H43.1Z" fill="#62b8e0" fill-opacity="0.42"/>
<path d="M43.1 872.08H49.8C76.6 872.08 76.6 928.27 103.4 928.27H110.1V930.82H103.4C76.6 930.82 76.6 874.63 49.8 874.63H43.1Z" fill="#62b8e0" fill-opacity="0.42"/>
<path d="M43.1 877.19H49.8C76.6 877.19 76.6 849.09 103.4 849.09H110.1V851.65H103.4C76.6 851.65 76.6 879.74 49.8 879.74H43.1Z" fill="#62b8e0" fill-opacity="0.42"/>
<path d="M43.1 905.28H49.8C76.6 905.28 76.6 889.96 103.4 889.96H110.1V892.51H103.4C76.6 892.51 76.6 907.84 49.8 907.84H43.1Z" fill="#62b8e0" fill-opacity="0.42"/>
<path d="M43.1 928.27H49.8C76.6 928.27 76.6 933.38 103.4 933.38H110.1V935.93H103.4C76.6 935.93 76.6 930.82 49.8 930.82H43.1Z" fill="#62b8e0" fill-opacity="0.42"/>
<path d="M43.1 943.59H49.8C76.6 943.59 76.6 943.59 103.4 943.59H110.1V946.15H103.4C76.6 946.15 76.6 946.15 49.8 946.15H43.1Z" fill="#62b8e0" fill-opacity="0.42"/>
<path d="M43.1 823.55H49.8C76.6 823.55 76.6 823.55 103.4 823.55H110.1V826.11H103.4C76.6 826.11 76.6 826.11 49.8 826.11H43.1Z" fill="#ef8535" fill-opacity="0.46"/>
<path d="M43.1 843.99H49.8C76.6 843.99 76.6 838.88 103.4 838.88H110.1V841.43H103.4C76.6 841.43 76.6 846.54 49.8 846.54H43.1Z" fill="#ef8535" fill-opacity="0.46"/>
<path d="M43.1 864.42H49.8C76.6 864.42 76.6 872.08 103.4 872.08H110.1V877.19H103.4C76.6 877.19 76.6 869.53 49.8 869.53H43.1Z" fill="#ef8535" fill-opacity="0.46"/>
<path d="M43.1 874.63H49.8C76.6 874.63 76.6 846.54 103.4 846.54H110.1V849.09H103.4C76.6 849.09 76.6 877.19 49.8 877.19H43.1Z" fill="#ef8535" fill-opacity="0.46"/>
<path d="M43.1 879.74H49.8C76.6 879.74 76.6 861.86 103.4 861.86H110.1V864.42H103.4C76.6 864.42 76.6 882.30 49.8 882.30H43.1Z" fill="#ef8535" fill-opacity="0.46"/>
<path d="M43.1 882.30H49.8C76.6 882.30 76.6 877.19 103.4 877.19H110.1V887.40H103.4C76.6 887.40 76.6 892.51 49.8 892.51H43.1Z" fill="#ef8535" fill-opacity="0.46"/>
<path d="M43.1 892.51H49.8C76.6 892.51 76.6 900.17 103.4 900.17H110.1V907.84H103.4C76.6 907.84 76.6 900.17 49.8 900.17H43.1Z" fill="#ef8535" fill-opacity="0.46"/>
<path d="M43.1 900.17H49.8C76.6 900.17 76.6 864.42 103.4 864.42H110.1V866.97H103.4C76.6 866.97 76.6 902.73 49.8 902.73H43.1Z" fill="#ef8535" fill-opacity="0.46"/>
<path d="M43.1 902.73H49.8C76.6 902.73 76.6 887.40 103.4 887.40H110.1V889.96H103.4C76.6 889.96 76.6 905.28 49.8 905.28H43.1Z" fill="#ef8535" fill-opacity="0.46"/>
<path d="M43.1 907.84H49.8C76.6 907.84 76.6 892.51 103.4 892.51H110.1V895.07H103.4C76.6 895.07 76.6 910.39 49.8 910.39H43.1Z" fill="#ef8535" fill-opacity="0.46"/>
<path d="M43.1 910.39H49.8C76.6 910.39 76.6 907.84 103.4 907.84H110.1V923.16H103.4C76.6 923.16 76.6 925.71 49.8 925.71H43.1Z" fill="#ef8535" fill-opacity="0.46"/>
<path d="M43.1 925.71H49.8C76.6 925.71 76.6 930.82 103.4 930.82H110.1V933.38H103.4C76.6 933.38 76.6 928.27 49.8 928.27H43.1Z" fill="#ef8535" fill-opacity="0.46"/>
<path d="M43.1 930.82H49.8C76.6 930.82 76.6 935.93 103.4 935.93H110.1V938.48H103.4C76.6 938.48 76.6 933.38 49.8 933.38H43.1Z" fill="#ef8535" fill-opacity="0.46"/>
<path d="M43.1 933.38H49.8C76.6 933.38 76.6 923.16 103.4 923.16H110.1V928.27H103.4C76.6 928.27 76.6 938.48 49.8 938.48H43.1Z" fill="#ef8535" fill-opacity="0.46"/>
<path d="M43.1 938.48H49.8C76.6 938.48 76.6 938.48 103.4 938.48H110.1V943.59H103.4C76.6 943.59 76.6 943.59 49.8 943.59H43.1Z" fill="#ef8535" fill-opacity="0.46"/>
<path d="M43.1 946.15H49.8C76.6 946.15 76.6 946.15 103.4 946.15H110.1V948.70H103.4C76.6 948.70 76.6 948.70 49.8 948.70H43.1Z" fill="#ef8535" fill-opacity="0.46"/>
<path d="M116.9 821.00H123.6C150.3 821.00 150.3 821.00 177.1 821.00H183.8V823.55H177.1C150.3 823.55 150.3 823.55 123.6 823.55H116.9Z" fill="#62b8e0" fill-opacity="0.42"/>
<path d="M116.9 826.11H123.6C150.3 826.11 150.3 841.43 177.1 841.43H183.8V843.99H177.1C150.3 843.99 150.3 828.66 123.6 828.66H116.9Z" fill="#62b8e0" fill-opacity="0.42"/>
<path d="M116.9 828.66H123.6C150.3 828.66 150.3 826.11 177.1 826.11H183.8V831.22H177.1C150.3 831.22 150.3 833.77 123.6 833.77H116.9Z" fill="#62b8e0" fill-opacity="0.42"/>
<path d="M116.9 833.77H123.6C150.3 833.77 150.3 843.99 177.1 843.99H183.8V849.09H177.1C150.3 849.09 150.3 838.88 123.6 838.88H116.9Z" fill="#62b8e0" fill-opacity="0.42"/>
<path d="M116.9 841.43H123.6C150.3 841.43 150.3 831.22 177.1 831.22H183.8V833.77H177.1C150.3 833.77 150.3 843.99 123.6 843.99H116.9Z" fill="#62b8e0" fill-opacity="0.42"/>
<path d="M116.9 843.99H123.6C150.3 843.99 150.3 851.65 177.1 851.65H183.8V854.20H177.1C150.3 854.20 150.3 846.54 123.6 846.54H116.9Z" fill="#62b8e0" fill-opacity="0.42"/>
<path d="M116.9 849.09H123.6C150.3 849.09 150.3 930.82 177.1 930.82H183.8V933.38H177.1C150.3 933.38 150.3 851.65 123.6 851.65H116.9Z" fill="#62b8e0" fill-opacity="0.42"/>
<path d="M116.9 851.65H123.6C150.3 851.65 150.3 918.05 177.1 918.05H183.8V920.61H177.1C150.3 920.61 150.3 854.20 123.6 854.20H116.9Z" fill="#62b8e0" fill-opacity="0.42"/>
<path d="M116.9 854.20H123.6C150.3 854.20 150.3 836.32 177.1 836.32H183.8V838.88H177.1C150.3 838.88 150.3 856.76 123.6 856.76H116.9Z" fill="#62b8e0" fill-opacity="0.42"/>
<path d="M116.9 856.76H123.6C150.3 856.76 150.3 866.97 177.1 866.97H183.8V869.53H177.1C150.3 869.53 150.3 859.31 123.6 859.31H116.9Z" fill="#62b8e0" fill-opacity="0.42"/>
<path d="M116.9 859.31H123.6C150.3 859.31 150.3 838.88 177.1 838.88H183.8V841.43H177.1C150.3 841.43 150.3 861.86 123.6 861.86H116.9Z" fill="#62b8e0" fill-opacity="0.42"/>
<path d="M116.9 866.97H123.6C150.3 866.97 150.3 869.53 177.1 869.53H183.8V874.63H177.1C150.3 874.63 150.3 872.08 123.6 872.08H116.9Z" fill="#62b8e0" fill-opacity="0.42"/>
<path d="M116.9 889.96H123.6C150.3 889.96 150.3 874.63 177.1 874.63H183.8V877.19H177.1C150.3 877.19 150.3 892.51 123.6 892.51H116.9Z" fill="#62b8e0" fill-opacity="0.42"/>
<path d="M116.9 895.07H123.6C150.3 895.07 150.3 887.40 177.1 887.40H183.8V889.96H177.1C150.3 889.96 150.3 897.62 123.6 897.62H116.9Z" fill="#62b8e0" fill-opacity="0.42"/>
<path d="M116.9 897.62H123.6C150.3 897.62 150.3 935.93 177.1 935.93H183.8V938.48H177.1C150.3 938.48 150.3 900.17 123.6 900.17H116.9Z" fill="#62b8e0" fill-opacity="0.42"/>
<path d="M116.9 928.27H123.6C150.3 928.27 150.3 882.30 177.1 882.30H183.8V884.85H177.1C150.3 884.85 150.3 930.82 123.6 930.82H116.9Z" fill="#62b8e0" fill-opacity="0.42"/>
<path d="M116.9 933.38H123.6C150.3 933.38 150.3 897.62 177.1 897.62H183.8V900.17H177.1C150.3 900.17 150.3 935.93 123.6 935.93H116.9Z" fill="#62b8e0" fill-opacity="0.42"/>
<path d="M116.9 943.59H123.6C150.3 943.59 150.3 910.39 177.1 910.39H183.8V912.94H177.1C150.3 912.94 150.3 946.15 123.6 946.15H116.9Z" fill="#62b8e0" fill-opacity="0.42"/>
<path d="M116.9 823.55H123.6C150.3 823.55 150.3 823.55 177.1 823.55H183.8V826.11H177.1C150.3 826.11 150.3 826.11 123.6 826.11H116.9Z" fill="#ef8535" fill-opacity="0.46"/>
<path d="M116.9 838.88H123.6C150.3 838.88 150.3 915.50 177.1 915.50H183.8V918.05H177.1C150.3 918.05 150.3 841.43 123.6 841.43H116.9Z" fill="#ef8535" fill-opacity="0.46"/>
<path d="M116.9 846.54H123.6C150.3 846.54 150.3 833.77 177.1 833.77H183.8V836.32H177.1C150.3 836.32 150.3 849.09 123.6 849.09H116.9Z" fill="#ef8535" fill-opacity="0.46"/>
<path d="M116.9 861.86H123.6C150.3 861.86 150.3 849.09 177.1 849.09H183.8V851.65H177.1C150.3 851.65 150.3 864.42 123.6 864.42H116.9Z" fill="#ef8535" fill-opacity="0.46"/>
<path d="M116.9 864.42H123.6C150.3 864.42 150.3 854.20 177.1 854.20H183.8V856.76H177.1C150.3 856.76 150.3 866.97 123.6 866.97H116.9Z" fill="#ef8535" fill-opacity="0.46"/>
<path d="M116.9 872.08H123.6C150.3 872.08 150.3 884.85 177.1 884.85H183.8V887.40H177.1C150.3 887.40 150.3 874.63 123.6 874.63H116.9Z" fill="#ef8535" fill-opacity="0.46"/>
<path d="M116.9 874.63H123.6C150.3 874.63 150.3 920.61 177.1 920.61H183.8V923.16H177.1C150.3 923.16 150.3 877.19 123.6 877.19H116.9Z" fill="#ef8535" fill-opacity="0.46"/>
<path d="M116.9 877.19H123.6C150.3 877.19 150.3 856.76 177.1 856.76H183.8V864.42H177.1C150.3 864.42 150.3 884.85 123.6 884.85H116.9Z" fill="#ef8535" fill-opacity="0.46"/>
<path d="M116.9 884.85H123.6C150.3 884.85 150.3 933.38 177.1 933.38H183.8V935.93H177.1C150.3 935.93 150.3 887.40 123.6 887.40H116.9Z" fill="#ef8535" fill-opacity="0.46"/>
<path d="M116.9 887.40H123.6C150.3 887.40 150.3 864.42 177.1 864.42H183.8V866.97H177.1C150.3 866.97 150.3 889.96 123.6 889.96H116.9Z" fill="#ef8535" fill-opacity="0.46"/>
<path d="M116.9 892.51H123.6C150.3 892.51 150.3 905.28 177.1 905.28H183.8V907.84H177.1C150.3 907.84 150.3 895.07 123.6 895.07H116.9Z" fill="#ef8535" fill-opacity="0.46"/>
<path d="M116.9 900.17H123.6C150.3 900.17 150.3 912.94 177.1 912.94H183.8V915.50H177.1C150.3 915.50 150.3 902.73 123.6 902.73H116.9Z" fill="#ef8535" fill-opacity="0.46"/>
<path d="M116.9 902.73H123.6C150.3 902.73 150.3 923.16 177.1 923.16H183.8V928.27H177.1C150.3 928.27 150.3 907.84 123.6 907.84H116.9Z" fill="#ef8535" fill-opacity="0.46"/>
<path d="M116.9 907.84H123.6C150.3 907.84 150.3 877.19 177.1 877.19H183.8V879.74H177.1C150.3 879.74 150.3 910.39 123.6 910.39H116.9Z" fill="#ef8535" fill-opacity="0.46"/>
<path d="M116.9 910.39H123.6C150.3 910.39 150.3 889.96 177.1 889.96H183.8V895.07H177.1C150.3 895.07 150.3 915.50 123.6 915.50H116.9Z" fill="#ef8535" fill-opacity="0.46"/>
<path d="M116.9 915.50H123.6C150.3 915.50 150.3 907.84 177.1 907.84H183.8V910.39H177.1C150.3 910.39 150.3 918.05 123.6 918.05H116.9Z" fill="#ef8535" fill-opacity="0.46"/>
<path d="M116.9 918.05H123.6C150.3 918.05 150.3 928.27 177.1 928.27H183.8V930.82H177.1C150.3 930.82 150.3 920.61 123.6 920.61H116.9Z" fill="#ef8535" fill-opacity="0.46"/>
<path d="M116.9 920.61H123.6C150.3 920.61 150.3 938.48 177.1 938.48H183.8V941.04H177.1C150.3 941.04 150.3 923.16 123.6 923.16H116.9Z" fill="#ef8535" fill-opacity="0.46"/>
<path d="M116.9 923.16H123.6C150.3 923.16 150.3 879.74 177.1 879.74H183.8V882.30H177.1C150.3 882.30 150.3 925.71 123.6 925.71H116.9Z" fill="#ef8535" fill-opacity="0.46"/>
<path d="M116.9 925.71H123.6C150.3 925.71 150.3 946.15 177.1 946.15H183.8V948.70H177.1C150.3 948.70 150.3 928.27 123.6 928.27H116.9Z" fill="#ef8535" fill-opacity="0.46"/>
<path d="M116.9 930.82H123.6C150.3 930.82 150.3 895.07 177.1 895.07H183.8V897.62H177.1C150.3 897.62 150.3 933.38 123.6 933.38H116.9Z" fill="#ef8535" fill-opacity="0.46"/>
<path d="M116.9 935.93H123.6C150.3 935.93 150.3 941.04 177.1 941.04H183.8V943.59H177.1C150.3 943.59 150.3 938.48 123.6 938.48H116.9Z" fill="#ef8535" fill-opacity="0.46"/>
<path d="M116.9 938.48H123.6C150.3 938.48 150.3 900.17 177.1 900.17H183.8V905.28H177.1C150.3 905.28 150.3 943.59 123.6 943.59H116.9Z" fill="#ef8535" fill-opacity="0.46"/>
<path d="M116.9 946.15H123.6C150.3 946.15 150.3 943.59 177.1 943.59H183.8V946.15H177.1C150.3 946.15 150.3 948.70 123.6 948.70H116.9Z" fill="#ef8535" fill-opacity="0.46"/>
<path d="M190.6 821.00H197.3C224.3 821.00 224.3 821.00 251.3 821.00H258.0V823.55H251.3C224.3 823.55 224.3 823.55 197.3 823.55H190.6Z" fill="#62b8e0" fill-opacity="0.42"/>
<path d="M190.6 826.11H197.3C224.3 826.11 224.3 826.11 251.3 826.11H258.0V833.77H251.3C224.3 833.77 224.3 833.77 197.3 833.77H190.6Z" fill="#62b8e0" fill-opacity="0.42"/>
<path d="M190.6 836.32H197.3C224.3 836.32 224.3 836.32 251.3 836.32H258.0V841.43H251.3C224.3 841.43 224.3 841.43 197.3 841.43H190.6Z" fill="#62b8e0" fill-opacity="0.42"/>
<path d="M190.6 841.43H197.3C224.3 841.43 224.3 851.65 251.3 851.65H258.0V859.31H251.3C224.3 859.31 224.3 849.09 197.3 849.09H190.6Z" fill="#62b8e0" fill-opacity="0.42"/>
<path d="M190.6 851.65H197.3C224.3 851.65 224.3 861.86 251.3 861.86H258.0V864.42H251.3C224.3 864.42 224.3 854.20 197.3 854.20H190.6Z" fill="#62b8e0" fill-opacity="0.42"/>
<path d="M190.6 866.97H197.3C224.3 866.97 224.3 877.19 251.3 877.19H258.0V887.40H251.3C224.3 887.40 224.3 877.19 197.3 877.19H190.6Z" fill="#62b8e0" fill-opacity="0.42"/>
<path d="M190.6 882.30H197.3C224.3 882.30 224.3 892.51 251.3 892.51H258.0V895.07H251.3C224.3 895.07 224.3 884.85 197.3 884.85H190.6Z" fill="#62b8e0" fill-opacity="0.42"/>
<path d="M190.6 887.40H197.3C224.3 887.40 224.3 897.62 251.3 897.62H258.0V900.17H251.3C224.3 900.17 224.3 889.96 197.3 889.96H190.6Z" fill="#62b8e0" fill-opacity="0.42"/>
<path d="M190.6 897.62H197.3C224.3 897.62 224.3 907.84 251.3 907.84H258.0V910.39H251.3C224.3 910.39 224.3 900.17 197.3 900.17H190.6Z" fill="#62b8e0" fill-opacity="0.42"/>
<path d="M190.6 910.39H197.3C224.3 910.39 224.3 925.71 251.3 925.71H258.0V928.27H251.3C224.3 928.27 224.3 912.94 197.3 912.94H190.6Z" fill="#62b8e0" fill-opacity="0.42"/>
<path d="M190.6 918.05H197.3C224.3 918.05 224.3 843.99 251.3 843.99H258.0V846.54H251.3C224.3 846.54 224.3 920.61 197.3 920.61H190.6Z" fill="#62b8e0" fill-opacity="0.42"/>
<path d="M190.6 930.82H197.3C224.3 930.82 224.3 928.27 251.3 928.27H258.0V930.82H251.3C224.3 930.82 224.3 933.38 197.3 933.38H190.6Z" fill="#62b8e0" fill-opacity="0.42"/>
<path d="M190.6 935.93H197.3C224.3 935.93 224.3 933.38 251.3 933.38H258.0V935.93H251.3C224.3 935.93 224.3 938.48 197.3 938.48H190.6Z" fill="#62b8e0" fill-opacity="0.42"/>
<path d="M190.6 823.55H197.3C224.3 823.55 224.3 823.55 251.3 823.55H258.0V826.11H251.3C224.3 826.11 224.3 826.11 197.3 826.11H190.6Z" fill="#ef8535" fill-opacity="0.46"/>
<path d="M190.6 833.77H197.3C224.3 833.77 224.3 833.77 251.3 833.77H258.0V836.32H251.3C224.3 836.32 224.3 836.32 197.3 836.32H190.6Z" fill="#ef8535" fill-opacity="0.46"/>
<path d="M190.6 849.09H197.3C224.3 849.09 224.3 859.31 251.3 859.31H258.0V861.86H251.3C224.3 861.86 224.3 851.65 197.3 851.65H190.6Z" fill="#ef8535" fill-opacity="0.46"/>
<path d="M190.6 854.20H197.3C224.3 854.20 224.3 864.42 251.3 864.42H258.0V877.19H251.3C224.3 877.19 224.3 866.97 197.3 866.97H190.6Z" fill="#ef8535" fill-opacity="0.46"/>
<path d="M190.6 877.19H197.3C224.3 877.19 224.3 887.40 251.3 887.40H258.0V892.51H251.3C224.3 892.51 224.3 882.30 197.3 882.30H190.6Z" fill="#ef8535" fill-opacity="0.46"/>
<path d="M190.6 884.85H197.3C224.3 884.85 224.3 895.07 251.3 895.07H258.0V897.62H251.3C224.3 897.62 224.3 887.40 197.3 887.40H190.6Z" fill="#ef8535" fill-opacity="0.46"/>
<path d="M190.6 889.96H197.3C224.3 889.96 224.3 900.17 251.3 900.17H258.0V907.84H251.3C224.3 907.84 224.3 897.62 197.3 897.62H190.6Z" fill="#ef8535" fill-opacity="0.46"/>
<path d="M190.6 900.17H197.3C224.3 900.17 224.3 910.39 251.3 910.39H258.0V915.50H251.3C224.3 915.50 224.3 905.28 197.3 905.28H190.6Z" fill="#ef8535" fill-opacity="0.46"/>
<path d="M190.6 905.28H197.3C224.3 905.28 224.3 920.61 251.3 920.61H258.0V925.71H251.3C224.3 925.71 224.3 910.39 197.3 910.39H190.6Z" fill="#ef8535" fill-opacity="0.46"/>
<path d="M190.6 912.94H197.3C224.3 912.94 224.3 943.59 251.3 943.59H258.0V946.15H251.3C224.3 946.15 224.3 915.50 197.3 915.50H190.6Z" fill="#ef8535" fill-opacity="0.46"/>
<path d="M190.6 915.50H197.3C224.3 915.50 224.3 841.43 251.3 841.43H258.0V843.99H251.3C224.3 843.99 224.3 918.05 197.3 918.05H190.6Z" fill="#ef8535" fill-opacity="0.46"/>
<path d="M190.6 920.61H197.3C224.3 920.61 224.3 846.54 251.3 846.54H258.0V851.65H251.3C224.3 851.65 224.3 925.71 197.3 925.71H190.6Z" fill="#ef8535" fill-opacity="0.46"/>
<path d="M190.6 925.71H197.3C224.3 925.71 224.3 915.50 251.3 915.50H258.0V920.61H251.3C224.3 920.61 224.3 930.82 197.3 930.82H190.6Z" fill="#ef8535" fill-opacity="0.46"/>
<path d="M190.6 933.38H197.3C224.3 933.38 224.3 930.82 251.3 930.82H258.0V933.38H251.3C224.3 933.38 224.3 935.93 197.3 935.93H190.6Z" fill="#ef8535" fill-opacity="0.46"/>
<path d="M190.6 938.48H197.3C224.3 938.48 224.3 935.93 251.3 935.93H258.0V943.59H251.3C224.3 943.59 224.3 946.15 197.3 946.15H190.6Z" fill="#ef8535" fill-opacity="0.46"/>
<path d="M190.6 946.15H197.3C224.3 946.15 224.3 946.15 251.3 946.15H258.0V948.70H251.3C224.3 948.70 224.3 948.70 197.3 948.70H190.6Z" fill="#ef8535" fill-opacity="0.46"/>
</g>
<rect x="36.30" y="821.00" width="6.80" height="127.70" fill="#fff" stroke="#231f20" stroke-width="0.55"/>
<line x1="36.30" y1="833.77" x2="43.10" y2="833.77" stroke="#231f20" stroke-width="0.5"/>
<line x1="36.30" y1="854.20" x2="43.10" y2="854.20" stroke="#231f20" stroke-width="0.5"/>
<line x1="36.30" y1="874.63" x2="43.10" y2="874.63" stroke="#231f20" stroke-width="0.5"/>
<line x1="36.30" y1="900.17" x2="43.10" y2="900.17" stroke="#231f20" stroke-width="0.5"/>
<line x1="36.30" y1="933.38" x2="43.10" y2="933.38" stroke="#231f20" stroke-width="0.5"/>
<rect x="110.10" y="821.00" width="6.80" height="127.70" fill="#fff" stroke="#231f20" stroke-width="0.55"/>
<line x1="110.10" y1="851.65" x2="116.90" y2="851.65" stroke="#231f20" stroke-width="0.5"/>
<line x1="110.10" y1="866.97" x2="116.90" y2="866.97" stroke="#231f20" stroke-width="0.5"/>
<line x1="110.10" y1="895.07" x2="116.90" y2="895.07" stroke="#231f20" stroke-width="0.5"/>
<line x1="110.10" y1="928.27" x2="116.90" y2="928.27" stroke="#231f20" stroke-width="0.5"/>
<rect x="183.80" y="821.00" width="6.80" height="127.70" fill="#fff" stroke="#231f20" stroke-width="0.55"/>
<line x1="183.80" y1="915.50" x2="190.60" y2="915.50" stroke="#231f20" stroke-width="0.5"/>
<rect x="258.00" y="821.00" width="6.80" height="127.70" fill="#fff" stroke="#231f20" stroke-width="0.55"/>
<line x1="258.00" y1="851.65" x2="264.80" y2="851.65" stroke="#231f20" stroke-width="0.5"/>
<line x1="258.00" y1="861.86" x2="264.80" y2="861.86" stroke="#231f20" stroke-width="0.5"/>
<line x1="258.00" y1="877.19" x2="264.80" y2="877.19" stroke="#231f20" stroke-width="0.5"/>
<line x1="258.00" y1="895.07" x2="264.80" y2="895.07" stroke="#231f20" stroke-width="0.5"/>
<line x1="258.00" y1="920.61" x2="264.80" y2="920.61" stroke="#231f20" stroke-width="0.5"/>
<line x1="258.00" y1="943.59" x2="264.80" y2="943.59" stroke="#231f20" stroke-width="0.5"/>
<rect x="32.26" y="823.99" width="14.88" height="6.80" fill="#fff" stroke="#6d6e71" stroke-width="0.4" rx="1.6" ry="1.6"/>
<text x="39.70" y="829.24" font-size="5.2" text-anchor="middle" fill="#2a2a2a">Endo</text>
<rect x="30.90" y="840.59" width="17.60" height="6.80" fill="#fff" stroke="#6d6e71" stroke-width="0.4" rx="1.6" ry="1.6"/>
<text x="39.70" y="845.84" font-size="5.2" text-anchor="middle" fill="#2a2a2a">Fibro</text>
<rect x="32.26" y="861.02" width="14.88" height="6.80" fill="#fff" stroke="#6d6e71" stroke-width="0.4" rx="1.6" ry="1.6"/>
<text x="39.70" y="866.27" font-size="5.2" text-anchor="middle" fill="#2a2a2a">HSPC</text>
<rect x="34.98" y="884.00" width="9.44" height="6.80" fill="#fff" stroke="#6d6e71" stroke-width="0.4" rx="1.6" ry="1.6"/>
<text x="39.70" y="889.25" font-size="5.2" text-anchor="middle" fill="#2a2a2a">MK</text>
<rect x="32.26" y="913.38" width="14.88" height="6.80" fill="#fff" stroke="#6d6e71" stroke-width="0.4" rx="1.6" ry="1.6"/>
<text x="39.70" y="918.62" font-size="5.2" text-anchor="middle" fill="#2a2a2a">Mono</text>
<rect x="33.62" y="937.64" width="12.16" height="6.80" fill="#fff" stroke="#6d6e71" stroke-width="0.4" rx="1.6" ry="1.6"/>
<text x="39.70" y="942.89" font-size="5.2" text-anchor="middle" fill="#2a2a2a">MSC</text>
<rect x="106.06" y="832.92" width="14.88" height="6.80" fill="#fff" stroke="#6d6e71" stroke-width="0.4" rx="1.6" ry="1.6"/>
<text x="113.50" y="838.17" font-size="5.2" text-anchor="middle" fill="#2a2a2a">FGF2</text>
<rect x="103.34" y="855.91" width="20.32" height="6.80" fill="#fff" stroke="#6d6e71" stroke-width="0.4" rx="1.6" ry="1.6"/>
<text x="113.50" y="861.16" font-size="5.2" text-anchor="middle" fill="#2a2a2a">LGALS9</text>
<rect x="107.42" y="877.62" width="12.16" height="6.80" fill="#fff" stroke="#6d6e71" stroke-width="0.4" rx="1.6" ry="1.6"/>
<text x="113.50" y="882.87" font-size="5.2" text-anchor="middle" fill="#2a2a2a">HGF</text>
<rect x="106.06" y="908.27" width="14.88" height="6.80" fill="#fff" stroke="#6d6e71" stroke-width="0.4" rx="1.6" ry="1.6"/>
<text x="113.50" y="913.52" font-size="5.2" text-anchor="middle" fill="#2a2a2a">CD44</text>
<rect x="106.06" y="935.08" width="14.88" height="6.80" fill="#fff" stroke="#6d6e71" stroke-width="0.4" rx="1.6" ry="1.6"/>
<text x="113.50" y="940.33" font-size="5.2" text-anchor="middle" fill="#2a2a2a">SPP1</text>
<rect x="179.76" y="864.85" width="14.88" height="6.80" fill="#fff" stroke="#6d6e71" stroke-width="0.4" rx="1.6" ry="1.6"/>
<text x="187.20" y="870.10" font-size="5.2" text-anchor="middle" fill="#2a2a2a">CD44</text>
<rect x="178.40" y="928.70" width="17.60" height="6.80" fill="#fff" stroke="#6d6e71" stroke-width="0.4" rx="1.6" ry="1.6"/>
<text x="187.20" y="933.95" font-size="5.2" text-anchor="middle" fill="#2a2a2a">HBEGF</text>
<rect x="253.96" y="832.92" width="14.88" height="6.80" fill="#fff" stroke="#6d6e71" stroke-width="0.4" rx="1.6" ry="1.6"/>
<text x="261.40" y="838.17" font-size="5.2" text-anchor="middle" fill="#2a2a2a">Endo</text>
<rect x="252.60" y="853.36" width="17.60" height="6.80" fill="#fff" stroke="#6d6e71" stroke-width="0.4" rx="1.6" ry="1.6"/>
<text x="261.40" y="858.61" font-size="5.2" text-anchor="middle" fill="#2a2a2a">Fibro</text>
<rect x="253.96" y="866.13" width="14.88" height="6.80" fill="#fff" stroke="#6d6e71" stroke-width="0.4" rx="1.6" ry="1.6"/>
<text x="261.40" y="871.38" font-size="5.2" text-anchor="middle" fill="#2a2a2a">HSPC</text>
<rect x="256.68" y="882.73" width="9.44" height="6.80" fill="#fff" stroke="#6d6e71" stroke-width="0.4" rx="1.6" ry="1.6"/>
<text x="261.40" y="887.98" font-size="5.2" text-anchor="middle" fill="#2a2a2a">MK</text>
<rect x="253.96" y="904.44" width="14.88" height="6.80" fill="#fff" stroke="#6d6e71" stroke-width="0.4" rx="1.6" ry="1.6"/>
<text x="261.40" y="909.69" font-size="5.2" text-anchor="middle" fill="#2a2a2a">Mono</text>
<rect x="255.32" y="928.70" width="12.16" height="6.80" fill="#fff" stroke="#6d6e71" stroke-width="0.4" rx="1.6" ry="1.6"/>
<text x="261.40" y="933.95" font-size="5.2" text-anchor="middle" fill="#2a2a2a">MSC</text>
<rect x="255.32" y="942.75" width="12.16" height="6.80" fill="#fff" stroke="#6d6e71" stroke-width="0.4" rx="1.6" ry="1.6"/>
<text x="261.40" y="948.00" font-size="5.2" text-anchor="middle" fill="#2a2a2a">Ery</text>
<text x="23.60" y="951.40" font-size="7.6" text-anchor="end" fill="#231f20">0</text>
<text x="23.60" y="925.86" font-size="7.6" text-anchor="end" fill="#231f20">10</text>
<text x="23.60" y="900.32" font-size="7.6" text-anchor="end" fill="#231f20">20</text>
<text x="23.60" y="874.78" font-size="7.6" text-anchor="end" fill="#231f20">30</text>
<text x="23.60" y="849.24" font-size="7.6" text-anchor="end" fill="#231f20">40</text>
<text x="23.60" y="823.70" font-size="7.6" text-anchor="end" fill="#231f20">50</text>
<text x="9.00" y="885.85" font-size="6.9" text-anchor="middle" font-weight="bold" stroke="none" fill="#000" transform="rotate(-90 9.00 885.85)">CD44</text>
<text x="1.80" y="820.00" font-size="9.5" font-weight="bold" stroke="none" fill="#000">H</text>
<text x="39.40" y="961.80" font-size="7.6" text-anchor="middle" fill="#231f20">Ligand cluster</text>
<text x="113.20" y="961.80" font-size="7.6" text-anchor="middle" fill="#231f20">Ligand</text>
<text x="186.90" y="961.80" font-size="7.6" text-anchor="middle" fill="#231f20">Receptor</text>
<text x="260.60" y="961.80" font-size="7.6" text-anchor="middle" fill="#231f20">Receptor cluster</text>
</g>
<g id="panelI">
<text x="291.60" y="491.00" font-size="9.5" font-weight="bold" stroke="none" fill="#000">I</text>
<text x="293.00" y="524.40" font-size="7.4" font-weight="bold" stroke="none" fill="#000">HSPC</text>
<defs><radialGradient id="hspcg" cx="0.5" cy="0.5" r="0.5"><stop offset="0" stop-color="#b67cc4"/><stop offset="0.68" stop-color="#bb84c8"/><stop offset="0.78" stop-color="#cda2d8"/><stop offset="1" stop-color="#e6d0ec"/></radialGradient></defs>
<circle cx="328.60" cy="521.90" r="9.60" fill="url(#hspcg)"/>
<g fill="none" stroke-linecap="round">
<path d="M342.4 501C345.5 496.8 352.5 495.3 359.2 497.6" stroke="#2b3f63" stroke-width="0.8"/>
<circle cx="342.4" cy="501" r="0.9" fill="#2b3f63"/>
<circle cx="348" cy="494" r="0.5" fill="#8fbde2"/>
<circle cx="352" cy="492.5" r="0.5" fill="#8fbde2"/>
<circle cx="356" cy="492" r="0.5" fill="#8fbde2"/>
<circle cx="360" cy="493.5" r="0.5" fill="#8fbde2"/>
<circle cx="364" cy="496" r="0.5" fill="#8fbde2"/>
<circle cx="366" cy="500" r="0.5" fill="#8fbde2"/>
<circle cx="350" cy="498.5" r="0.5" fill="#8fbde2"/>
<circle cx="356" cy="497.5" r="0.5" fill="#8fbde2"/>
<circle cx="362" cy="502" r="0.5" fill="#8fbde2"/>
<circle cx="347" cy="503.5" r="0.5" fill="#8fbde2"/>
<circle cx="353" cy="501.5" r="0.5" fill="#8fbde2"/>
<circle cx="359" cy="500.5" r="0.5" fill="#8fbde2"/>
<path d="M346 510.5H362" stroke="#d2495a" stroke-width="0.9"/>
<path d="M346 510.5H352" stroke="#4a4a8a" stroke-width="0.9"/>
<path d="M346 516.5H362" stroke="#6d79b8" stroke-width="0.8"/>
<path d="M346 516.5H351" stroke="#c24a6a" stroke-width="0.8"/>
<path d="M354.5 523.2H363" stroke="#3e4f8c" stroke-width="0.8"/>
<path d="M350 521C352.5 521 354.5 522.2 354.5 523.2C354.5 524.2 352.5 525.4 350 525.4C348.6 525.4 348.6 521 350 521Z" fill="#3e4f8c"/>
<path d="M354.5 532.2H363" stroke="#3e4f8c" stroke-width="0.8"/>
<path d="M350 530C352.5 530 354.5 531.2 354.5 532.2C354.5 533.2 352.5 534.4 350 534.4C348.6 534.4 348.6 530 350 530Z" fill="#3e4f8c"/>
<path d="M342.5 538.8C346 542.6 353.5 543.6 361 540.4" stroke="#e0605e" stroke-width="0.8"/>
<circle cx="342.5" cy="538.8" r="0.7" fill="#d9504e"/>
<circle cx="346" cy="537" r="0.4" fill="#7fb3dc"/>
<circle cx="350" cy="539" r="0.4" fill="#7fb3dc"/>
<circle cx="354" cy="540" r="0.4" fill="#7fb3dc"/>
<circle cx="358" cy="539.5" r="0.4" fill="#7fb3dc"/>
<circle cx="361" cy="537.5" r="0.4" fill="#7fb3dc"/>
<circle cx="352" cy="536.5" r="0.4" fill="#7fb3dc"/>
<circle cx="357" cy="536" r="0.4" fill="#7fb3dc"/>
</g>
<text x="368.30" y="511.20" font-size="7.6" fill="#231f20">Adhesion</text>
<text x="368.30" y="518.50" font-size="7.6" fill="#231f20">molecules</text>
<text x="368.30" y="533.50" font-size="7.6" fill="#231f20">Receptor–</text>
<text x="368.30" y="540.50" font-size="7.6" fill="#231f20">ligand pairings</text>
<text x="339.80" y="554.00" font-size="7.5" fill="#231f20">Growth factors</text>
<path d="M422.3 507.2L428 507.6L425.8 503.6L430.2 506.2L432.8 503.8L434.2 506L439.6 503.4L437.4 507L443.2 507.6L437.6 509.6L441.4 513.8L435.6 511.4L434.6 515L432.2 511.8L428.2 515.2L428.8 511L423.6 512.4L427.4 509.2Z" fill="#ee5f66" fill-opacity="0.9" stroke="#ee5f66" stroke-opacity="0.5" stroke-width="0.5" stroke-linejoin="round"/>
<ellipse cx="432.6" cy="508.6" rx="2.4" ry="1.5" fill="#d23848" fill-opacity="0.85"/>
<text x="448.50" y="510.60" font-size="7.4" font-weight="bold" stroke="none" fill="#000">MSC/</text>
<text x="448.50" y="517.90" font-size="7.4" font-weight="bold" stroke="none" fill="#000">fibroblast</text>
<g fill="none">
<ellipse cx="431.4" cy="533.2" rx="10.6" ry="9.4" stroke="#d3e1f1" stroke-width="0.7" transform="rotate(-18 431.4 533.2)"/>
<ellipse cx="432.2" cy="532.6" rx="11.2" ry="9.8" stroke="#dbe7f4" stroke-width="0.6" transform="rotate(25 432.2 532.6)"/>
<ellipse cx="431.2" cy="533.4" rx="9.6" ry="8.8" stroke="#f8d3b6" stroke-width="1.5" transform="rotate(-10 431.2 533.4)"/>
<ellipse cx="431.6" cy="533.0" rx="8.9" ry="9.3" stroke="#f5c29c" stroke-width="0.8" transform="rotate(30 431.6 533.0)"/>
<ellipse cx="431.0" cy="533.6" rx="10.0" ry="8.2" stroke="#f9dcc5" stroke-width="1.0" transform="rotate(-35 431.0 533.6)"/>
</g>
<text x="448.50" y="538.20" font-size="7.4" font-weight="bold" stroke="none" fill="#000">Endothelial</text>
<rect x="364.60" y="581.30" width="10.40" height="195.70" fill="#fff" stroke="#231f20" stroke-width="0.6"/>
<rect x="379.30" y="581.30" width="44.00" height="195.70" fill="#fff" stroke="#231f20" stroke-width="0.6"/>
<circle cx="369.90" cy="587.50" r="2.42" fill="#8a2034"/>
<text x="362.80" y="590.15" font-size="7.5" text-anchor="end" font-style="italic" fill="#231f20">ESAM</text>
<circle cx="369.90" cy="596.70" r="3.08" fill="#b8242d"/>
<text x="362.80" y="599.35" font-size="7.5" text-anchor="end" font-style="italic" fill="#231f20">CD44</text>
<circle cx="369.90" cy="605.90" r="3.08" fill="#ac232e"/>
<text x="362.80" y="608.55" font-size="7.5" text-anchor="end" font-style="italic" fill="#231f20">NRP2</text>
<circle cx="369.90" cy="615.10" r="1.98" fill="#3e1848"/>
<text x="362.80" y="617.75" font-size="7.5" text-anchor="end" font-style="italic" fill="#231f20">ICAM3</text>
<circle cx="369.90" cy="624.30" r="1.06" fill="#1a1530"/>
<text x="362.80" y="626.95" font-size="7.5" text-anchor="end" font-style="italic" fill="#231f20">HLA-DRB1</text>
<circle cx="369.90" cy="633.50" r="1.85" fill="#1a1530"/>
<text x="362.80" y="636.15" font-size="7.5" text-anchor="end" font-style="italic" fill="#231f20">HLA-DPA1</text>
<circle cx="369.90" cy="642.70" r="2.09" fill="#481948"/>
<text x="362.80" y="645.35" font-size="7.5" text-anchor="end" font-style="italic" fill="#231f20">HLA-DPB1</text>
<circle cx="369.90" cy="651.90" r="1.72" fill="#1a1530"/>
<text x="362.80" y="654.55" font-size="7.5" text-anchor="end" font-style="italic" fill="#231f20">PLXNC1</text>
<circle cx="369.90" cy="661.10" r="2.53" fill="#902033"/>
<text x="362.80" y="663.75" font-size="7.5" text-anchor="end" font-style="italic" fill="#231f20">FGFR1</text>
<circle cx="369.90" cy="670.30" r="1.58" fill="#25163a"/>
<text x="362.80" y="672.95" font-size="7.5" text-anchor="end" font-style="italic" fill="#231f20">KIT</text>
<circle cx="369.90" cy="679.50" r="2.42" fill="#6e1c40"/>
<text x="362.80" y="682.15" font-size="7.5" text-anchor="end" font-style="italic" fill="#231f20">TNFRSF1B</text>
<circle cx="369.90" cy="688.70" r="1.06" fill="#1a1530"/>
<text x="362.80" y="691.35" font-size="7.5" text-anchor="end" font-style="italic" fill="#231f20">TNFRSR10C</text>
<circle cx="369.90" cy="697.90" r="1.98" fill="#481948"/>
<text x="362.80" y="700.55" font-size="7.5" text-anchor="end" font-style="italic" fill="#231f20">NOTCH1</text>
<circle cx="369.90" cy="707.10" r="1.58" fill="#1a1530"/>
<text x="362.80" y="709.75" font-size="7.5" text-anchor="end" font-style="italic" fill="#231f20">NOTCH2</text>
<circle cx="369.90" cy="716.30" r="2.42" fill="#952132"/>
<text x="362.80" y="718.95" font-size="7.5" text-anchor="end" font-style="italic" fill="#231f20">CD74</text>
<circle cx="369.90" cy="725.50" r="3.30" fill="#a0222f"/>
<text x="362.80" y="728.15" font-size="7.5" text-anchor="end" font-style="italic" fill="#231f20">PGRMC2</text>
<circle cx="369.90" cy="734.70" r="1.32" fill="#1a1530"/>
<text x="362.80" y="737.35" font-size="7.5" text-anchor="end" font-style="italic" fill="#231f20">MERTK</text>
<circle cx="369.90" cy="743.90" r="1.19" fill="#1a1530"/>
<text x="362.80" y="746.55" font-size="7.5" text-anchor="end" font-style="italic" fill="#231f20">SELL</text>
<circle cx="369.90" cy="753.10" r="2.20" fill="#781e3c"/>
<text x="362.80" y="755.75" font-size="7.5" text-anchor="end" font-style="italic" fill="#231f20">PLAUR</text>
<circle cx="369.90" cy="762.30" r="3.96" fill="#f9b628"/>
<text x="362.80" y="764.95" font-size="7.5" text-anchor="end" font-style="italic" fill="#231f20">CD46</text>
<circle cx="369.90" cy="771.50" r="3.08" fill="#a6222e"/>
<text x="362.80" y="774.15" font-size="7.5" text-anchor="end" font-style="italic" fill="#231f20">LAMP1</text>
<circle cx="385.20" cy="587.50" r="3.85" fill="#eb7b28"/>
<circle cx="395.80" cy="587.50" r="3.85" fill="#f09128"/>
<circle cx="406.40" cy="587.50" r="1.32" fill="#1a1530"/>
<circle cx="417.30" cy="587.50" r="0.85" fill="#1a1530"/>
<text x="425.40" y="590.15" font-size="7.5" font-style="italic" fill="#231f20">ESAM</text>
<circle cx="385.20" cy="596.70" r="0.85" fill="#1a1530"/>
<circle cx="395.80" cy="596.70" r="2.31" fill="#5c1a48"/>
<text x="425.40" y="599.35" font-size="7.5" font-style="italic" fill="#231f20">SELE</text>
<circle cx="385.20" cy="605.90" r="2.20" fill="#3e1848"/>
<circle cx="395.80" cy="605.90" r="1.98" fill="#3e1848"/>
<circle cx="406.40" cy="605.90" r="1.72" fill="#1a1530"/>
<circle cx="417.30" cy="605.90" r="1.72" fill="#1a1530"/>
<text x="425.40" y="608.55" font-size="7.5" font-style="italic" fill="#231f20">SEMA3F</text>
<circle cx="385.20" cy="615.10" r="1.19" fill="#1a1530"/>
<circle cx="395.80" cy="615.10" r="0.85" fill="#1a1530"/>
<circle cx="406.40" cy="615.10" r="1.06" fill="#1a1530"/>
<circle cx="417.30" cy="615.10" r="1.45" fill="#1a1530"/>
<text x="425.40" y="617.75" font-size="7.5" font-style="italic" fill="#231f20">ITGB2</text>
<circle cx="417.30" cy="624.30" r="2.75" fill="#c4262c"/>
<text x="425.40" y="626.95" font-size="7.5" font-style="italic" fill="#231f20">OGN</text>
<circle cx="406.40" cy="633.50" r="0.92" fill="#1a1530"/>
<circle cx="417.30" cy="633.50" r="1.06" fill="#1a1530"/>
<text x="425.40" y="636.15" font-size="7.5" font-style="italic" fill="#231f20">GAL</text>
<circle cx="395.80" cy="642.70" r="0.85" fill="#1a1530"/>
<text x="425.40" y="645.35" font-size="7.5" font-style="italic" fill="#231f20">TNFSF13B</text>
<circle cx="385.20" cy="651.90" r="1.32" fill="#1a1530"/>
<circle cx="395.80" cy="651.90" r="0.92" fill="#1a1530"/>
<circle cx="406.40" cy="651.90" r="1.06" fill="#1a1530"/>
<circle cx="417.30" cy="651.90" r="1.19" fill="#1a1530"/>
<text x="425.40" y="654.55" font-size="7.5" font-style="italic" fill="#231f20">SEMA7A</text>
<circle cx="385.20" cy="661.10" r="0.85" fill="#1a1530"/>
<circle cx="395.80" cy="661.10" r="0.85" fill="#1a1530"/>
<circle cx="406.40" cy="661.10" r="1.58" fill="#1a1530"/>
<circle cx="417.30" cy="661.10" r="1.76" fill="#1a1530"/>
<text x="425.40" y="663.75" font-size="7.5" font-style="italic" fill="#231f20">FGF7</text>
<circle cx="385.20" cy="670.30" r="2.42" fill="#6e1c40"/>
<circle cx="395.80" cy="670.30" r="1.32" fill="#1a1530"/>
<circle cx="406.40" cy="670.30" r="1.32" fill="#1a1530"/>
<circle cx="417.30" cy="670.30" r="1.45" fill="#1a1530"/>
<text x="425.40" y="672.95" font-size="7.5" font-style="italic" fill="#231f20">KITLG</text>
<circle cx="385.20" cy="679.50" r="3.30" fill="#b2242d"/>
<circle cx="395.80" cy="679.50" r="3.74" fill="#d94f28"/>
<circle cx="406.40" cy="679.50" r="2.86" fill="#8a2034"/>
<circle cx="417.30" cy="679.50" r="2.86" fill="#8a2034"/>
<text x="425.40" y="682.15" font-size="7.5" font-style="italic" fill="#231f20">GRN</text>
<circle cx="385.20" cy="688.70" r="2.42" fill="#6e1c40"/>
<circle cx="395.80" cy="688.70" r="2.42" fill="#6e1c40"/>
<circle cx="406.40" cy="688.70" r="1.19" fill="#1a1530"/>
<text x="425.40" y="691.35" font-size="7.5" font-style="italic" fill="#231f20">TNFSF10</text>
<circle cx="385.20" cy="697.90" r="2.42" fill="#5c1a48"/>
<circle cx="395.80" cy="697.90" r="1.72" fill="#1a1530"/>
<circle cx="406.40" cy="697.90" r="0.92" fill="#1a1530"/>
<text x="425.40" y="700.55" font-size="7.5" font-style="italic" fill="#231f20">JAG2</text>
<circle cx="385.20" cy="707.10" r="3.08" fill="#ac232e"/>
<circle cx="395.80" cy="707.10" r="1.98" fill="#3e1848"/>
<circle cx="406.40" cy="707.10" r="0.85" fill="#1a1530"/>
<circle cx="417.30" cy="707.10" r="1.06" fill="#1a1530"/>
<text x="425.40" y="709.75" font-size="7.5" font-style="italic" fill="#231f20">DLL4</text>
<circle cx="385.20" cy="716.30" r="3.63" fill="#eb7b28"/>
<circle cx="395.80" cy="716.30" r="3.96" fill="#f9b628"/>
<circle cx="406.40" cy="716.30" r="3.08" fill="#b8242d"/>
<circle cx="417.30" cy="716.30" r="3.08" fill="#bb252d"/>
<text x="425.40" y="718.95" font-size="7.5" font-style="italic" fill="#231f20">APP</text>
<circle cx="417.30" cy="725.50" r="0.85" fill="#1a1530"/>
<text x="425.40" y="728.15" font-size="7.5" font-style="italic" fill="#231f20">CCL4L2</text>
<circle cx="385.20" cy="734.70" r="1.06" fill="#1a1530"/>
<circle cx="395.80" cy="734.70" r="1.19" fill="#1a1530"/>
<circle cx="406.40" cy="734.70" r="1.58" fill="#1a1530"/>
<circle cx="417.30" cy="734.70" r="1.65" fill="#1a1530"/>
<text x="425.40" y="737.35" font-size="7.5" font-style="italic" fill="#231f20">GAS6</text>
<circle cx="385.20" cy="743.90" r="3.08" fill="#ac232e"/>
<circle cx="395.80" cy="743.90" r="2.64" fill="#ac232e"/>
<circle cx="406.40" cy="743.90" r="0.85" fill="#1a1530"/>
<circle cx="417.30" cy="743.90" r="1.65" fill="#3e1848"/>
<text x="425.40" y="746.55" font-size="7.5" font-style="italic" fill="#231f20">CD34</text>
<circle cx="385.20" cy="753.10" r="3.52" fill="#f19628"/>
<circle cx="395.80" cy="753.10" r="3.52" fill="#f29b28"/>
<circle cx="406.40" cy="753.10" r="3.52" fill="#f29b28"/>
<circle cx="417.30" cy="753.10" r="3.30" fill="#b8242d"/>
<text x="425.40" y="755.75" font-size="7.5" font-style="italic" fill="#231f20">ITGB1</text>
<circle cx="385.20" cy="762.30" r="1.98" fill="#481948"/>
<circle cx="395.80" cy="762.30" r="1.76" fill="#3e1848"/>
<circle cx="406.40" cy="762.30" r="2.20" fill="#5c1a48"/>
<circle cx="417.30" cy="762.30" r="2.42" fill="#8a2034"/>
<text x="425.40" y="764.95" font-size="7.5" font-style="italic" fill="#231f20">JAG1</text>
<circle cx="385.20" cy="771.50" r="2.42" fill="#6e1c40"/>
<circle cx="395.80" cy="771.50" r="2.20" fill="#5c1a48"/>
<circle cx="406.40" cy="771.50" r="2.20" fill="#5c1a48"/>
<circle cx="417.30" cy="771.50" r="2.64" fill="#8a2034"/>
<text x="425.40" y="774.15" font-size="7.5" font-style="italic" fill="#231f20">FAM3C</text>
<line x1="364.50" y1="575.80" x2="375.30" y2="575.80" stroke="#4a9bd4" stroke-width="1.3"/>
<line x1="380.00" y1="575.80" x2="399.60" y2="575.80" stroke="#f5b335" stroke-width="1.3"/>
<line x1="402.00" y1="575.80" x2="422.00" y2="575.80" stroke="#7ac143" stroke-width="1.3"/>
<rect x="290.00" y="587.50" width="9.50" height="46.20" fill="url(#cbar)"/>
<text x="301.00" y="592.00" font-size="7.3" fill="#231f20">0.6</text>
<rect x="467.60" y="586.20" width="9.40" height="47.50" fill="url(#cbar)"/>
<text x="478.80" y="591.00" font-size="7.3" fill="#231f20">4.0</text>
<text x="465.50" y="645.50" font-size="7.3" fill="#231f20">% Cells</text>
<circle cx="471.30" cy="654.60" r="1.60" fill="#000"/>
<text x="477.60" y="657.20" font-size="7.3" fill="#231f20">25</text>
<circle cx="471.30" cy="664.20" r="2.70" fill="#000"/>
<text x="477.60" y="666.80" font-size="7.3" fill="#231f20">50</text>
<circle cx="471.30" cy="673.80" r="3.30" fill="#000"/>
<text x="477.60" y="676.40" font-size="7.3" fill="#231f20">75</text>
<circle cx="471.30" cy="683.80" r="4.20" fill="#000"/>
<text x="477.60" y="686.40" font-size="7.3" fill="#231f20">100</text>
<line x1="315.80" y1="586.50" x2="315.80" y2="646.50" stroke="#231f20" stroke-width="0.7"/>
<line x1="315.80" y1="649.00" x2="315.80" y2="683.30" stroke="#231f20" stroke-width="0.7"/>
<line x1="315.80" y1="685.60" x2="315.80" y2="772.00" stroke="#231f20" stroke-width="0.7"/>
<text x="312.80" y="618.50" font-size="7.2" text-anchor="middle" fill="#231f20" transform="rotate(-90 312.80 618.50)">Adhesion</text>
<text x="312.80" y="665.50" font-size="7.2" text-anchor="middle" fill="#231f20" transform="rotate(-90 312.80 665.50)">GF/chem.</text>
<text x="312.80" y="726.50" font-size="7.2" text-anchor="middle" fill="#231f20" transform="rotate(-90 312.80 726.50)">Receptors</text>
<text x="375.00" y="782.30" font-size="6.6" text-anchor="end" fill="#231f20" transform="rotate(-47 375.00 782.30)">Org.</text>
<text x="389.30" y="782.30" font-size="6.6" text-anchor="end" fill="#231f20" transform="rotate(-47 389.30 782.30)">Org.</text>
<text x="400.60" y="782.30" font-size="6.6" text-anchor="end" fill="#231f20" transform="rotate(-47 400.60 782.30)">FBM</text>
<text x="411.00" y="782.30" font-size="6.6" text-anchor="end" fill="#231f20" transform="rotate(-47 411.00 782.30)">Org.</text>
<text x="422.30" y="782.30" font-size="6.6" text-anchor="end" fill="#231f20" transform="rotate(-47 422.30 782.30)">FBM</text>
<line x1="366.60" y1="796.90" x2="377.00" y2="796.90" stroke="#4a9bd4" stroke-width="1.3"/>
<line x1="380.00" y1="796.90" x2="400.00" y2="796.90" stroke="#f5b335" stroke-width="1.3"/>
<line x1="400.00" y1="796.90" x2="419.50" y2="796.90" stroke="#7ac143" stroke-width="1.3"/>
<text x="358.30" y="808.60" font-size="7.65" fill="#231f20">HSPC Endo MSC/</text>
<text x="402.80" y="817.00" font-size="7.5" fill="#231f20">fibro</text>
</g>
<g id="panelJ">
<text x="2.00" y="979.00" font-size="9.5" font-weight="bold" stroke="none" fill="#000">J</text>
<line x1="46.80" y1="979.20" x2="46.80" y2="1096.20" stroke="#111111" stroke-width="0.9"/>
<line x1="46.40" y1="1095.75" x2="107.00" y2="1095.75" stroke="#111111" stroke-width="0.9"/>
<line x1="43.80" y1="1095.75" x2="46.80" y2="1095.75" stroke="#111111" stroke-width="0.7"/>
<text x="41.90" y="1098.35" font-size="7.3" text-anchor="end" fill="#231f20">0</text>
<line x1="43.80" y1="1072.50" x2="46.80" y2="1072.50" stroke="#111111" stroke-width="0.7"/>
<text x="41.90" y="1075.10" font-size="7.3" text-anchor="end" fill="#231f20">5</text>
<line x1="43.80" y1="1049.25" x2="46.80" y2="1049.25" stroke="#111111" stroke-width="0.7"/>
<text x="41.90" y="1051.85" font-size="7.3" text-anchor="end" fill="#231f20">10</text>
<line x1="43.80" y1="1026.00" x2="46.80" y2="1026.00" stroke="#111111" stroke-width="0.7"/>
<text x="41.90" y="1028.60" font-size="7.3" text-anchor="end" fill="#231f20">15</text>
<line x1="43.80" y1="1002.75" x2="46.80" y2="1002.75" stroke="#111111" stroke-width="0.7"/>
<text x="41.90" y="1005.35" font-size="7.3" text-anchor="end" fill="#231f20">20</text>
<line x1="43.80" y1="979.50" x2="46.80" y2="979.50" stroke="#111111" stroke-width="0.7"/>
<text x="41.90" y="982.10" font-size="7.3" text-anchor="end" fill="#231f20">25</text>
<line x1="54.50" y1="1095.75" x2="54.50" y2="1098.80" stroke="#111111" stroke-width="0.7"/>
<line x1="65.60" y1="1095.75" x2="65.60" y2="1098.80" stroke="#111111" stroke-width="0.7"/>
<line x1="76.80" y1="1095.75" x2="76.80" y2="1098.80" stroke="#111111" stroke-width="0.7"/>
<line x1="88.00" y1="1095.75" x2="88.00" y2="1098.80" stroke="#111111" stroke-width="0.7"/>
<line x1="99.20" y1="1095.75" x2="99.20" y2="1098.80" stroke="#111111" stroke-width="0.7"/>
<line x1="54.50" y1="1094.12" x2="54.50" y2="1093.42" stroke="#111111" stroke-width="0.6"/>
<line x1="54.50" y1="1091.10" x2="54.50" y2="1090.17" stroke="#111111" stroke-width="0.6"/>
<line x1="52.90" y1="1094.12" x2="56.10" y2="1094.12" stroke="#111111" stroke-width="0.6"/>
<line x1="52.90" y1="1090.17" x2="56.10" y2="1090.17" stroke="#111111" stroke-width="0.6"/>
<rect x="50.80" y="1091.10" width="7.40" height="2.33" fill="#fff" stroke="#111111" stroke-width="0.6"/>
<line x1="50.80" y1="1092.03" x2="58.20" y2="1092.03" stroke="#111111" stroke-width="0.6"/>
<circle cx="53.00" cy="1093.42" r="1.15" fill="#111111"/>
<circle cx="53.90" cy="1092.03" r="1.15" fill="#111111"/>
<circle cx="54.90" cy="1091.10" r="1.15" fill="#111111"/>
<circle cx="55.80" cy="1092.49" r="1.15" fill="#111111"/>
<circle cx="54.50" cy="1093.66" r="1.15" fill="#111111"/>
<circle cx="56.50" cy="1091.33" r="1.15" fill="#111111"/>
<line x1="65.60" y1="1093.19" x2="65.60" y2="1093.19" stroke="#111111" stroke-width="0.6"/>
<line x1="65.60" y1="1078.55" x2="65.60" y2="1072.50" stroke="#111111" stroke-width="0.6"/>
<line x1="64.00" y1="1093.19" x2="67.20" y2="1093.19" stroke="#111111" stroke-width="0.6"/>
<line x1="64.00" y1="1072.50" x2="67.20" y2="1072.50" stroke="#111111" stroke-width="0.6"/>
<rect x="61.90" y="1078.55" width="7.40" height="14.65" fill="#fff" stroke="#111111" stroke-width="0.6"/>
<line x1="61.90" y1="1088.78" x2="69.30" y2="1088.78" stroke="#111111" stroke-width="0.6"/>
<circle cx="65.90" cy="1072.50" r="1.20" fill="#111111"/>
<circle cx="66.20" cy="1079.01" r="1.20" fill="#111111"/>
<circle cx="65.80" cy="1084.59" r="1.20" fill="#111111"/>
<circle cx="63.60" cy="1092.49" r="1.20" fill="#111111"/>
<circle cx="65.80" cy="1092.49" r="1.20" fill="#111111"/>
<circle cx="67.60" cy="1092.49" r="1.20" fill="#111111"/>
<line x1="76.80" y1="1090.63" x2="76.80" y2="1090.63" stroke="#111111" stroke-width="0.6"/>
<line x1="76.80" y1="1056.22" x2="76.80" y2="1053.90" stroke="#111111" stroke-width="0.6"/>
<line x1="75.20" y1="1090.63" x2="78.40" y2="1090.63" stroke="#111111" stroke-width="0.6"/>
<line x1="75.20" y1="1053.90" x2="78.40" y2="1053.90" stroke="#111111" stroke-width="0.6"/>
<rect x="73.10" y="1056.22" width="7.40" height="34.41" fill="#fff" stroke="#111111" stroke-width="0.6"/>
<line x1="73.10" y1="1088.78" x2="80.50" y2="1088.78" stroke="#111111" stroke-width="0.6"/>
<circle cx="76.80" cy="1054.37" r="1.20" fill="#111111"/>
<circle cx="77.70" cy="1057.15" r="1.20" fill="#111111"/>
<circle cx="77.10" cy="1086.45" r="1.20" fill="#111111"/>
<circle cx="74.80" cy="1090.17" r="1.20" fill="#111111"/>
<circle cx="76.80" cy="1090.17" r="1.20" fill="#111111"/>
<circle cx="78.80" cy="1090.17" r="1.20" fill="#111111"/>
<line x1="88.00" y1="1072.50" x2="88.00" y2="1055.30" stroke="#111111" stroke-width="0.6"/>
<line x1="88.00" y1="1043.20" x2="88.00" y2="1038.56" stroke="#111111" stroke-width="0.6"/>
<line x1="86.40" y1="1072.50" x2="89.60" y2="1072.50" stroke="#111111" stroke-width="0.6"/>
<line x1="86.40" y1="1038.56" x2="89.60" y2="1038.56" stroke="#111111" stroke-width="0.6"/>
<rect x="84.30" y="1043.20" width="7.40" height="12.09" fill="#fff" stroke="#111111" stroke-width="0.6"/>
<line x1="84.30" y1="1048.32" x2="91.70" y2="1048.32" stroke="#111111" stroke-width="0.6"/>
<circle cx="88.00" cy="1038.56" r="1.20" fill="#111111"/>
<circle cx="86.50" cy="1043.67" r="1.20" fill="#111111"/>
<circle cx="89.50" cy="1044.13" r="1.20" fill="#111111"/>
<circle cx="86.20" cy="1048.32" r="1.20" fill="#111111"/>
<circle cx="88.20" cy="1046.46" r="1.20" fill="#111111"/>
<circle cx="90.30" cy="1050.18" r="1.20" fill="#111111"/>
<circle cx="88.00" cy="1072.50" r="1.20" fill="#111111"/>
<line x1="99.20" y1="1075.29" x2="99.20" y2="1058.55" stroke="#111111" stroke-width="0.6"/>
<line x1="99.20" y1="1005.54" x2="99.20" y2="1002.75" stroke="#111111" stroke-width="0.6"/>
<line x1="97.60" y1="1075.29" x2="100.80" y2="1075.29" stroke="#111111" stroke-width="0.6"/>
<line x1="97.60" y1="1002.75" x2="100.80" y2="1002.75" stroke="#111111" stroke-width="0.6"/>
<rect x="95.50" y="1005.54" width="7.40" height="53.01" fill="#fff" stroke="#111111" stroke-width="0.6"/>
<line x1="95.50" y1="1038.09" x2="102.90" y2="1038.09" stroke="#111111" stroke-width="0.6"/>
<circle cx="99.50" cy="1003.22" r="1.20" fill="#111111"/>
<circle cx="99.50" cy="1006.00" r="1.20" fill="#111111"/>
<circle cx="101.60" cy="1036.69" r="1.20" fill="#111111"/>
<circle cx="97.20" cy="1038.09" r="1.20" fill="#111111"/>
<circle cx="99.20" cy="1052.97" r="1.20" fill="#111111"/>
<circle cx="99.20" cy="1075.29" r="1.20" fill="#111111"/>
<text x="56.80" y="1101.30" font-size="7.2" text-anchor="end" fill="#231f20" transform="rotate(-47 56.80 1101.30)">TNF-β</text>
<text x="67.90" y="1101.30" font-size="7.2" text-anchor="end" fill="#231f20" transform="rotate(-47 67.90 1101.30)">GM-CSF</text>
<text x="79.10" y="1101.30" font-size="7.2" text-anchor="end" fill="#231f20" transform="rotate(-47 79.10 1101.30)">TNF-α</text>
<text x="90.30" y="1101.30" font-size="7.2" text-anchor="end" fill="#231f20" transform="rotate(-47 90.30 1101.30)">PDGF-AA</text>
<text x="101.50" y="1101.30" font-size="7.2" text-anchor="end" fill="#231f20" transform="rotate(-47 101.50 1101.30)">VEGF</text>
<text x="19.00" y="1037.50" font-size="6.9" text-anchor="middle" font-weight="bold" stroke="none" fill="#000" transform="rotate(-90 19.00 1037.50)">1–20 pg/mL</text>
<text x="30.00" y="1036.00" font-size="6.9" text-anchor="middle" font-weight="bold" stroke="none" fill="#000" transform="rotate(-90 30.00 1036.00)">pg/mL</text>
<line x1="161.90" y1="979.20" x2="161.90" y2="1095.80" stroke="#111111" stroke-width="0.9"/>
<line x1="161.50" y1="1095.30" x2="270.00" y2="1095.30" stroke="#111111" stroke-width="0.9"/>
<line x1="158.60" y1="1095.30" x2="161.90" y2="1095.30" stroke="#111111" stroke-width="0.7"/>
<text x="156.40" y="1097.90" font-size="7.3" text-anchor="end" fill="#231f20">0</text>
<line x1="158.60" y1="1054.80" x2="161.90" y2="1054.80" stroke="#111111" stroke-width="0.7"/>
<text x="156.40" y="1057.40" font-size="7.3" text-anchor="end" fill="#231f20">100</text>
<line x1="158.60" y1="1014.30" x2="161.90" y2="1014.30" stroke="#111111" stroke-width="0.7"/>
<text x="156.40" y="1016.90" font-size="7.3" text-anchor="end" fill="#231f20">200</text>
<line x1="168.80" y1="1095.30" x2="168.80" y2="1098.40" stroke="#111111" stroke-width="0.7"/>
<line x1="179.00" y1="1095.30" x2="179.00" y2="1098.40" stroke="#111111" stroke-width="0.7"/>
<line x1="189.20" y1="1095.30" x2="189.20" y2="1098.40" stroke="#111111" stroke-width="0.7"/>
<line x1="199.40" y1="1095.30" x2="199.40" y2="1098.40" stroke="#111111" stroke-width="0.7"/>
<line x1="209.60" y1="1095.30" x2="209.60" y2="1098.40" stroke="#111111" stroke-width="0.7"/>
<line x1="219.80" y1="1095.30" x2="219.80" y2="1098.40" stroke="#111111" stroke-width="0.7"/>
<line x1="230.00" y1="1095.30" x2="230.00" y2="1098.40" stroke="#111111" stroke-width="0.7"/>
<line x1="240.20" y1="1095.30" x2="240.20" y2="1098.40" stroke="#111111" stroke-width="0.7"/>
<line x1="250.40" y1="1095.30" x2="250.40" y2="1098.40" stroke="#111111" stroke-width="0.7"/>
<line x1="260.60" y1="1095.30" x2="260.60" y2="1098.40" stroke="#111111" stroke-width="0.7"/>
<line x1="168.80" y1="1095.30" x2="168.80" y2="1095.30" stroke="#2b3990" stroke-width="0.6"/>
<line x1="168.80" y1="1079.91" x2="168.80" y2="1073.02" stroke="#2b3990" stroke-width="0.6"/>
<line x1="167.20" y1="1095.30" x2="170.40" y2="1095.30" stroke="#2b3990" stroke-width="0.6"/>
<line x1="167.20" y1="1073.02" x2="170.40" y2="1073.02" stroke="#2b3990" stroke-width="0.6"/>
<rect x="165.50" y="1079.91" width="6.60" height="15.39" fill="#fff" stroke="#2b3990" stroke-width="0.6"/>
<line x1="165.50" y1="1087.20" x2="172.10" y2="1087.20" stroke="#2b3990" stroke-width="0.6"/>
<circle cx="167.34" cy="1073.02" r="1.20" fill="#2b3990"/>
<circle cx="169.63" cy="1081.93" r="1.20" fill="#2b3990"/>
<circle cx="169.39" cy="1086.39" r="1.20" fill="#2b3990"/>
<circle cx="168.71" cy="1090.44" r="1.20" fill="#2b3990"/>
<line x1="179.00" y1="1093.27" x2="179.00" y2="1092.06" stroke="#2b3990" stroke-width="0.6"/>
<line x1="179.00" y1="1076.26" x2="179.00" y2="1072.21" stroke="#2b3990" stroke-width="0.6"/>
<line x1="177.40" y1="1093.27" x2="180.60" y2="1093.27" stroke="#2b3990" stroke-width="0.6"/>
<line x1="177.40" y1="1072.21" x2="180.60" y2="1072.21" stroke="#2b3990" stroke-width="0.6"/>
<rect x="175.70" y="1076.26" width="6.60" height="15.80" fill="#fff" stroke="#2b3990" stroke-width="0.6"/>
<line x1="175.70" y1="1090.44" x2="182.30" y2="1090.44" stroke="#2b3990" stroke-width="0.6"/>
<circle cx="177.76" cy="1072.21" r="1.20" fill="#2b3990"/>
<circle cx="180.27" cy="1077.08" r="1.20" fill="#2b3990"/>
<circle cx="180.34" cy="1090.44" r="1.20" fill="#2b3990"/>
<circle cx="179.05" cy="1091.25" r="1.20" fill="#2b3990"/>
<circle cx="179.02" cy="1092.06" r="1.20" fill="#2b3990"/>
<circle cx="177.85" cy="1092.46" r="1.20" fill="#2b3990"/>
<line x1="189.20" y1="1060.88" x2="189.20" y2="1054.80" stroke="#2b3990" stroke-width="0.6"/>
<line x1="189.20" y1="1041.84" x2="189.20" y2="1041.43" stroke="#2b3990" stroke-width="0.6"/>
<line x1="187.60" y1="1060.88" x2="190.80" y2="1060.88" stroke="#2b3990" stroke-width="0.6"/>
<line x1="187.60" y1="1041.43" x2="190.80" y2="1041.43" stroke="#2b3990" stroke-width="0.6"/>
<rect x="185.90" y="1041.84" width="6.60" height="12.96" fill="#fff" stroke="#2b3990" stroke-width="0.6"/>
<line x1="185.90" y1="1049.94" x2="192.50" y2="1049.94" stroke="#2b3990" stroke-width="0.6"/>
<circle cx="187.04" cy="1042.65" r="1.20" fill="#2b3990"/>
<circle cx="188.64" cy="1043.46" r="1.20" fill="#2b3990"/>
<circle cx="189.57" cy="1048.72" r="1.20" fill="#2b3990"/>
<circle cx="187.32" cy="1050.75" r="1.20" fill="#2b3990"/>
<circle cx="190.48" cy="1052.77" r="1.20" fill="#2b3990"/>
<circle cx="188.03" cy="1060.88" r="1.20" fill="#2b3990"/>
<line x1="199.40" y1="1095.30" x2="199.40" y2="1095.30" stroke="#2b3990" stroke-width="0.6"/>
<line x1="199.40" y1="1072.21" x2="199.40" y2="1064.92" stroke="#2b3990" stroke-width="0.6"/>
<line x1="197.80" y1="1095.30" x2="201.00" y2="1095.30" stroke="#2b3990" stroke-width="0.6"/>
<line x1="197.80" y1="1064.92" x2="201.00" y2="1064.92" stroke="#2b3990" stroke-width="0.6"/>
<rect x="196.10" y="1072.21" width="6.60" height="23.09" fill="#fff" stroke="#2b3990" stroke-width="0.6"/>
<line x1="196.10" y1="1083.15" x2="202.70" y2="1083.15" stroke="#2b3990" stroke-width="0.6"/>
<circle cx="198.24" cy="1064.92" r="1.20" fill="#2b3990"/>
<circle cx="197.41" cy="1074.24" r="1.20" fill="#2b3990"/>
<circle cx="201.57" cy="1081.12" r="1.20" fill="#2b3990"/>
<circle cx="200.44" cy="1083.96" r="1.20" fill="#2b3990"/>
<line x1="209.60" y1="1064.92" x2="209.60" y2="1058.85" stroke="#2b3990" stroke-width="0.6"/>
<line x1="209.60" y1="1049.53" x2="209.60" y2="1045.89" stroke="#2b3990" stroke-width="0.6"/>
<line x1="208.00" y1="1064.92" x2="211.20" y2="1064.92" stroke="#2b3990" stroke-width="0.6"/>
<line x1="208.00" y1="1045.89" x2="211.20" y2="1045.89" stroke="#2b3990" stroke-width="0.6"/>
<rect x="206.30" y="1049.53" width="6.60" height="9.32" fill="#fff" stroke="#2b3990" stroke-width="0.6"/>
<line x1="206.30" y1="1056.83" x2="212.90" y2="1056.83" stroke="#2b3990" stroke-width="0.6"/>
<circle cx="211.23" cy="1045.89" r="1.20" fill="#2b3990"/>
<circle cx="210.10" cy="1050.75" r="1.20" fill="#2b3990"/>
<circle cx="207.57" cy="1056.42" r="1.20" fill="#2b3990"/>
<circle cx="208.85" cy="1058.85" r="1.20" fill="#2b3990"/>
<circle cx="209.59" cy="1060.88" r="1.20" fill="#2b3990"/>
<circle cx="207.93" cy="1064.92" r="1.20" fill="#2b3990"/>
<line x1="219.80" y1="1079.91" x2="219.80" y2="1079.91" stroke="#2b3990" stroke-width="0.6"/>
<line x1="219.80" y1="1066.14" x2="219.80" y2="1060.07" stroke="#2b3990" stroke-width="0.6"/>
<line x1="218.20" y1="1079.91" x2="221.40" y2="1079.91" stroke="#2b3990" stroke-width="0.6"/>
<line x1="218.20" y1="1060.07" x2="221.40" y2="1060.07" stroke="#2b3990" stroke-width="0.6"/>
<rect x="216.50" y="1066.14" width="6.60" height="13.77" fill="#fff" stroke="#2b3990" stroke-width="0.6"/>
<line x1="216.50" y1="1073.02" x2="223.10" y2="1073.02" stroke="#2b3990" stroke-width="0.6"/>
<circle cx="221.77" cy="1060.07" r="1.20" fill="#2b3990"/>
<circle cx="219.23" cy="1066.95" r="1.20" fill="#2b3990"/>
<circle cx="218.30" cy="1071.81" r="1.20" fill="#2b3990"/>
<circle cx="221.18" cy="1074.24" r="1.20" fill="#2b3990"/>
<circle cx="218.17" cy="1079.10" r="1.20" fill="#2b3990"/>
<circle cx="221.66" cy="1079.91" r="1.20" fill="#2b3990"/>
<line x1="230.00" y1="1095.30" x2="230.00" y2="1095.30" stroke="#2b3990" stroke-width="0.6"/>
<line x1="230.00" y1="1046.70" x2="230.00" y2="1046.70" stroke="#2b3990" stroke-width="0.6"/>
<line x1="228.40" y1="1095.30" x2="231.60" y2="1095.30" stroke="#2b3990" stroke-width="0.6"/>
<line x1="228.40" y1="1046.70" x2="231.60" y2="1046.70" stroke="#2b3990" stroke-width="0.6"/>
<rect x="226.70" y="1046.70" width="6.60" height="48.60" fill="#fff" stroke="#2b3990" stroke-width="0.6"/>
<line x1="226.70" y1="1094.09" x2="233.30" y2="1094.09" stroke="#2b3990" stroke-width="0.6"/>
<circle cx="229.80" cy="1046.70" r="1.20" fill="#2b3990"/>
<circle cx="230.23" cy="1046.70" r="1.20" fill="#2b3990"/>
<circle cx="229.32" cy="1092.06" r="1.20" fill="#2b3990"/>
<circle cx="229.93" cy="1095.30" r="1.20" fill="#2b3990"/>
<circle cx="228.64" cy="1095.30" r="1.20" fill="#2b3990"/>
<line x1="240.20" y1="1070.19" x2="240.20" y2="1070.19" stroke="#2b3990" stroke-width="0.6"/>
<line x1="240.20" y1="1053.59" x2="240.20" y2="1047.51" stroke="#2b3990" stroke-width="0.6"/>
<line x1="238.60" y1="1070.19" x2="241.80" y2="1070.19" stroke="#2b3990" stroke-width="0.6"/>
<line x1="238.60" y1="1047.51" x2="241.80" y2="1047.51" stroke="#2b3990" stroke-width="0.6"/>
<rect x="236.90" y="1053.59" width="6.60" height="16.61" fill="#fff" stroke="#2b3990" stroke-width="0.6"/>
<line x1="236.90" y1="1066.95" x2="243.50" y2="1066.95" stroke="#2b3990" stroke-width="0.6"/>
<circle cx="238.18" cy="1047.51" r="1.20" fill="#2b3990"/>
<circle cx="241.79" cy="1054.80" r="1.20" fill="#2b3990"/>
<circle cx="239.05" cy="1064.92" r="1.20" fill="#2b3990"/>
<circle cx="241.42" cy="1067.76" r="1.20" fill="#2b3990"/>
<circle cx="238.93" cy="1069.38" r="1.20" fill="#2b3990"/>
<circle cx="242.24" cy="1070.19" r="1.20" fill="#2b3990"/>
<line x1="250.40" y1="1060.88" x2="250.40" y2="1054.80" stroke="#2b3990" stroke-width="0.6"/>
<line x1="250.40" y1="1023.62" x2="250.40" y2="981.90" stroke="#2b3990" stroke-width="0.6"/>
<line x1="248.80" y1="1060.88" x2="252.00" y2="1060.88" stroke="#2b3990" stroke-width="0.6"/>
<line x1="248.80" y1="981.90" x2="252.00" y2="981.90" stroke="#2b3990" stroke-width="0.6"/>
<rect x="247.10" y="1023.62" width="6.60" height="31.18" fill="#fff" stroke="#2b3990" stroke-width="0.6"/>
<line x1="247.10" y1="1042.65" x2="253.70" y2="1042.65" stroke="#2b3990" stroke-width="0.6"/>
<circle cx="252.12" cy="981.90" r="1.20" fill="#2b3990"/>
<circle cx="251.51" cy="1037.38" r="1.20" fill="#2b3990"/>
<circle cx="251.54" cy="1040.62" r="1.20" fill="#2b3990"/>
<circle cx="250.75" cy="1044.67" r="1.20" fill="#2b3990"/>
<circle cx="251.40" cy="1053.99" r="1.20" fill="#2b3990"/>
<circle cx="248.76" cy="1060.07" r="1.20" fill="#2b3990"/>
<line x1="260.60" y1="1059.66" x2="260.60" y2="1050.75" stroke="#2b3990" stroke-width="0.6"/>
<line x1="260.60" y1="1031.71" x2="260.60" y2="1026.45" stroke="#2b3990" stroke-width="0.6"/>
<line x1="259.00" y1="1059.66" x2="262.20" y2="1059.66" stroke="#2b3990" stroke-width="0.6"/>
<line x1="259.00" y1="1026.45" x2="262.20" y2="1026.45" stroke="#2b3990" stroke-width="0.6"/>
<rect x="257.30" y="1031.71" width="6.60" height="19.04" fill="#fff" stroke="#2b3990" stroke-width="0.6"/>
<line x1="257.30" y1="1040.62" x2="263.90" y2="1040.62" stroke="#2b3990" stroke-width="0.6"/>
<circle cx="260.50" cy="1026.45" r="1.20" fill="#2b3990"/>
<circle cx="262.02" cy="1032.52" r="1.20" fill="#2b3990"/>
<circle cx="259.30" cy="1038.60" r="1.20" fill="#2b3990"/>
<circle cx="262.44" cy="1040.62" r="1.20" fill="#2b3990"/>
<circle cx="262.29" cy="1049.53" r="1.20" fill="#2b3990"/>
<circle cx="260.21" cy="1059.66" r="1.20" fill="#2b3990"/>
<text x="171.10" y="1100.80" font-size="7.0" text-anchor="end" fill="#231f20" transform="rotate(-47 171.10 1100.80)">CD40L</text>
<text x="181.30" y="1100.80" font-size="7.0" text-anchor="end" fill="#231f20" transform="rotate(-47 181.30 1100.80)">IL2</text>
<text x="191.50" y="1100.80" font-size="7.0" text-anchor="end" fill="#231f20" transform="rotate(-47 191.50 1100.80)">IL3</text>
<text x="201.70" y="1100.80" font-size="7.0" text-anchor="end" fill="#231f20" transform="rotate(-47 201.70 1100.80)">IL4</text>
<text x="211.90" y="1100.80" font-size="7.0" text-anchor="end" fill="#231f20" transform="rotate(-47 211.90 1100.80)">IL7</text>
<text x="222.10" y="1100.80" font-size="7.0" text-anchor="end" fill="#231f20" transform="rotate(-47 222.10 1100.80)">CXCL1</text>
<text x="232.30" y="1100.80" font-size="7.0" text-anchor="end" fill="#231f20" transform="rotate(-47 232.30 1100.80)">CXCL2</text>
<text x="242.50" y="1100.80" font-size="7.0" text-anchor="end" fill="#231f20" transform="rotate(-47 242.50 1100.80)">CXCL10</text>
<text x="252.70" y="1100.80" font-size="7.0" text-anchor="end" fill="#231f20" transform="rotate(-47 252.70 1100.80)">M-CSF</text>
<text x="262.90" y="1100.80" font-size="7.0" text-anchor="end" fill="#231f20" transform="rotate(-47 262.90 1100.80)">FLT3L</text>
<text x="128.80" y="1035.80" font-size="6.9" text-anchor="middle" font-weight="bold" stroke="none" fill="#000" transform="rotate(-90 128.80 1035.80)">20–200 pg/mL</text>
<text x="140.90" y="1034.70" font-size="6.9" text-anchor="middle" font-weight="bold" stroke="none" fill="#000" transform="rotate(-90 140.90 1034.70)">pg/mL</text>
<line x1="329.60" y1="972.00" x2="329.60" y2="1003.20" stroke="#111111" stroke-width="0.9"/>
<line x1="329.60" y1="1007.60" x2="329.60" y2="1095.80" stroke="#111111" stroke-width="0.9"/>
<line x1="327.20" y1="1004.60" x2="332.00" y2="1001.80" stroke="#111111" stroke-width="0.8"/>
<line x1="327.20" y1="1009.00" x2="332.00" y2="1006.20" stroke="#111111" stroke-width="0.8"/>
<line x1="329.20" y1="1095.30" x2="428.00" y2="1095.30" stroke="#111111" stroke-width="0.9"/>
<line x1="325.00" y1="1095.30" x2="329.60" y2="1095.30" stroke="#111111" stroke-width="0.7"/>
<text x="322.40" y="1097.90" font-size="7.3" text-anchor="end" fill="#231f20">0</text>
<line x1="325.00" y1="1073.92" x2="329.60" y2="1073.92" stroke="#111111" stroke-width="0.7"/>
<text x="322.40" y="1076.52" font-size="7.3" text-anchor="end" fill="#231f20">500</text>
<line x1="325.00" y1="1052.55" x2="329.60" y2="1052.55" stroke="#111111" stroke-width="0.7"/>
<text x="322.40" y="1055.15" font-size="7.3" text-anchor="end" fill="#231f20">1,000</text>
<line x1="325.00" y1="1031.17" x2="329.60" y2="1031.17" stroke="#111111" stroke-width="0.7"/>
<text x="322.40" y="1033.77" font-size="7.3" text-anchor="end" fill="#231f20">1,500</text>
<line x1="325.00" y1="1009.80" x2="329.60" y2="1009.80" stroke="#111111" stroke-width="0.7"/>
<text x="322.40" y="1012.40" font-size="7.3" text-anchor="end" fill="#231f20">2,000</text>
<line x1="325.00" y1="1002.20" x2="329.60" y2="1002.20" stroke="#111111" stroke-width="0.7"/>
<text x="322.40" y="1004.80" font-size="7.3" text-anchor="end" fill="#231f20">5,000</text>
<line x1="325.00" y1="987.30" x2="329.60" y2="987.30" stroke="#111111" stroke-width="0.7"/>
<text x="322.40" y="989.90" font-size="7.3" text-anchor="end" fill="#231f20">7,500</text>
<line x1="325.00" y1="972.40" x2="329.60" y2="972.40" stroke="#111111" stroke-width="0.7"/>
<text x="322.40" y="975.00" font-size="7.3" text-anchor="end" fill="#231f20">10,000</text>
<line x1="337.00" y1="1095.30" x2="337.00" y2="1098.40" stroke="#111111" stroke-width="0.7"/>
<line x1="349.13" y1="1095.30" x2="349.13" y2="1098.40" stroke="#111111" stroke-width="0.7"/>
<line x1="361.26" y1="1095.30" x2="361.26" y2="1098.40" stroke="#111111" stroke-width="0.7"/>
<line x1="373.39" y1="1095.30" x2="373.39" y2="1098.40" stroke="#111111" stroke-width="0.7"/>
<line x1="385.52" y1="1095.30" x2="385.52" y2="1098.40" stroke="#111111" stroke-width="0.7"/>
<line x1="397.65" y1="1095.30" x2="397.65" y2="1098.40" stroke="#111111" stroke-width="0.7"/>
<line x1="409.78" y1="1095.30" x2="409.78" y2="1098.40" stroke="#111111" stroke-width="0.7"/>
<line x1="421.91" y1="1095.30" x2="421.91" y2="1098.40" stroke="#111111" stroke-width="0.7"/>
<line x1="337.00" y1="1064.52" x2="337.00" y2="1059.82" stroke="#e02a26" stroke-width="0.6"/>
<line x1="337.00" y1="1054.26" x2="337.00" y2="1049.13" stroke="#e02a26" stroke-width="0.6"/>
<line x1="335.40" y1="1064.52" x2="338.60" y2="1064.52" stroke="#e02a26" stroke-width="0.6"/>
<line x1="335.40" y1="1049.13" x2="338.60" y2="1049.13" stroke="#e02a26" stroke-width="0.6"/>
<rect x="333.30" y="1054.26" width="7.40" height="5.56" fill="#fff" stroke="#e02a26" stroke-width="0.6"/>
<line x1="333.30" y1="1057.68" x2="340.70" y2="1057.68" stroke="#e02a26" stroke-width="0.6"/>
<circle cx="336.34" cy="1049.13" r="1.20" fill="#e02a26"/>
<circle cx="336.76" cy="1054.26" r="1.20" fill="#e02a26"/>
<circle cx="336.44" cy="1056.83" r="1.20" fill="#e02a26"/>
<circle cx="339.42" cy="1057.68" r="1.20" fill="#e02a26"/>
<circle cx="336.45" cy="1058.96" r="1.20" fill="#e02a26"/>
<circle cx="334.69" cy="1059.82" r="1.20" fill="#e02a26"/>
<circle cx="335.01" cy="1064.52" r="1.20" fill="#e02a26"/>
<line x1="349.13" y1="1034.60" x2="349.13" y2="1006.38" stroke="#e02a26" stroke-width="0.6"/>
<line x1="349.13" y1="986.11" x2="349.13" y2="974.78" stroke="#e02a26" stroke-width="0.6"/>
<line x1="347.53" y1="1034.60" x2="350.73" y2="1034.60" stroke="#e02a26" stroke-width="0.6"/>
<line x1="347.53" y1="974.78" x2="350.73" y2="974.78" stroke="#e02a26" stroke-width="0.6"/>
<rect x="345.43" y="986.11" width="7.40" height="20.27" fill="#fff" stroke="#e02a26" stroke-width="0.6"/>
<line x1="345.43" y1="1002.20" x2="352.83" y2="1002.20" stroke="#e02a26" stroke-width="0.6"/>
<circle cx="349.13" cy="974.78" r="1.20" fill="#e02a26"/>
<circle cx="349.53" cy="989.68" r="1.20" fill="#e02a26"/>
<circle cx="347.13" cy="1003.99" r="1.20" fill="#e02a26"/>
<circle cx="349.33" cy="1003.99" r="1.20" fill="#e02a26"/>
<circle cx="351.33" cy="1003.99" r="1.20" fill="#e02a26"/>
<circle cx="349.13" cy="1034.60" r="1.20" fill="#e02a26"/>
<line x1="361.26" y1="1086.75" x2="361.26" y2="1086.75" stroke="#e02a26" stroke-width="0.6"/>
<line x1="361.26" y1="1074.78" x2="361.26" y2="1074.78" stroke="#e02a26" stroke-width="0.6"/>
<line x1="359.66" y1="1086.75" x2="362.86" y2="1086.75" stroke="#e02a26" stroke-width="0.6"/>
<line x1="359.66" y1="1074.78" x2="362.86" y2="1074.78" stroke="#e02a26" stroke-width="0.6"/>
<rect x="357.56" y="1074.78" width="7.40" height="11.97" fill="#fff" stroke="#e02a26" stroke-width="0.6"/>
<line x1="357.56" y1="1082.47" x2="364.96" y2="1082.47" stroke="#e02a26" stroke-width="0.6"/>
<circle cx="362.33" cy="1075.21" r="1.20" fill="#e02a26"/>
<circle cx="363.67" cy="1076.92" r="1.20" fill="#e02a26"/>
<circle cx="361.24" cy="1081.19" r="1.20" fill="#e02a26"/>
<circle cx="361.22" cy="1084.18" r="1.20" fill="#e02a26"/>
<circle cx="361.51" cy="1086.54" r="1.20" fill="#e02a26"/>
<circle cx="362.47" cy="1086.75" r="1.20" fill="#e02a26"/>
<line x1="373.39" y1="1083.33" x2="373.39" y2="1083.33" stroke="#e02a26" stroke-width="0.6"/>
<line x1="373.39" y1="1061.10" x2="373.39" y2="1055.54" stroke="#e02a26" stroke-width="0.6"/>
<line x1="371.79" y1="1083.33" x2="374.99" y2="1083.33" stroke="#e02a26" stroke-width="0.6"/>
<line x1="371.79" y1="1055.54" x2="374.99" y2="1055.54" stroke="#e02a26" stroke-width="0.6"/>
<rect x="369.69" y="1061.10" width="7.40" height="22.23" fill="#fff" stroke="#e02a26" stroke-width="0.6"/>
<line x1="369.69" y1="1081.19" x2="377.09" y2="1081.19" stroke="#e02a26" stroke-width="0.6"/>
<circle cx="372.03" cy="1055.54" r="1.20" fill="#e02a26"/>
<circle cx="373.92" cy="1061.95" r="1.20" fill="#e02a26"/>
<circle cx="373.67" cy="1080.76" r="1.20" fill="#e02a26"/>
<circle cx="373.99" cy="1082.47" r="1.20" fill="#e02a26"/>
<circle cx="371.83" cy="1082.90" r="1.20" fill="#e02a26"/>
<circle cx="371.78" cy="1083.33" r="1.20" fill="#e02a26"/>
<line x1="385.52" y1="1084.61" x2="385.52" y2="1078.20" stroke="#e02a26" stroke-width="0.6"/>
<line x1="385.52" y1="1044.43" x2="385.52" y2="1025.19" stroke="#e02a26" stroke-width="0.6"/>
<line x1="383.92" y1="1084.61" x2="387.12" y2="1084.61" stroke="#e02a26" stroke-width="0.6"/>
<line x1="383.92" y1="1025.19" x2="387.12" y2="1025.19" stroke="#e02a26" stroke-width="0.6"/>
<rect x="381.82" y="1044.43" width="7.40" height="33.77" fill="#fff" stroke="#e02a26" stroke-width="0.6"/>
<line x1="381.82" y1="1071.36" x2="389.22" y2="1071.36" stroke="#e02a26" stroke-width="0.6"/>
<circle cx="384.78" cy="1025.19" r="1.20" fill="#e02a26"/>
<circle cx="387.61" cy="1050.84" r="1.20" fill="#e02a26"/>
<circle cx="384.77" cy="1061.10" r="1.20" fill="#e02a26"/>
<circle cx="385.99" cy="1075.21" r="1.20" fill="#e02a26"/>
<circle cx="384.58" cy="1078.63" r="1.20" fill="#e02a26"/>
<circle cx="383.58" cy="1084.61" r="1.20" fill="#e02a26"/>
<line x1="397.65" y1="1084.61" x2="397.65" y2="1084.61" stroke="#e02a26" stroke-width="0.6"/>
<line x1="397.65" y1="1078.20" x2="397.65" y2="1078.20" stroke="#e02a26" stroke-width="0.6"/>
<line x1="396.05" y1="1084.61" x2="399.25" y2="1084.61" stroke="#e02a26" stroke-width="0.6"/>
<line x1="396.05" y1="1078.20" x2="399.25" y2="1078.20" stroke="#e02a26" stroke-width="0.6"/>
<rect x="393.95" y="1078.20" width="7.40" height="6.41" fill="#fff" stroke="#e02a26" stroke-width="0.6"/>
<line x1="393.95" y1="1082.47" x2="401.35" y2="1082.47" stroke="#e02a26" stroke-width="0.6"/>
<circle cx="395.53" cy="1078.20" r="1.20" fill="#e02a26"/>
<circle cx="399.18" cy="1079.91" r="1.20" fill="#e02a26"/>
<circle cx="399.00" cy="1082.05" r="1.20" fill="#e02a26"/>
<circle cx="397.04" cy="1082.90" r="1.20" fill="#e02a26"/>
<circle cx="398.55" cy="1083.76" r="1.20" fill="#e02a26"/>
<circle cx="398.51" cy="1084.61" r="1.20" fill="#e02a26"/>
<line x1="409.78" y1="1083.76" x2="409.78" y2="1083.76" stroke="#e02a26" stroke-width="0.6"/>
<line x1="409.78" y1="1060.24" x2="409.78" y2="1041.43" stroke="#e02a26" stroke-width="0.6"/>
<line x1="408.18" y1="1083.76" x2="411.38" y2="1083.76" stroke="#e02a26" stroke-width="0.6"/>
<line x1="408.18" y1="1041.43" x2="411.38" y2="1041.43" stroke="#e02a26" stroke-width="0.6"/>
<rect x="406.08" y="1060.24" width="7.40" height="23.51" fill="#fff" stroke="#e02a26" stroke-width="0.6"/>
<line x1="406.08" y1="1079.06" x2="413.48" y2="1079.06" stroke="#e02a26" stroke-width="0.6"/>
<circle cx="411.73" cy="1041.43" r="1.20" fill="#e02a26"/>
<circle cx="412.02" cy="1078.20" r="1.20" fill="#e02a26"/>
<circle cx="409.33" cy="1079.06" r="1.20" fill="#e02a26"/>
<circle cx="412.17" cy="1079.91" r="1.20" fill="#e02a26"/>
<circle cx="412.03" cy="1083.33" r="1.20" fill="#e02a26"/>
<circle cx="410.22" cy="1083.76" r="1.20" fill="#e02a26"/>
<line x1="421.91" y1="1081.19" x2="421.91" y2="1081.19" stroke="#e02a26" stroke-width="0.6"/>
<line x1="421.91" y1="1066.23" x2="421.91" y2="1064.95" stroke="#e02a26" stroke-width="0.6"/>
<line x1="420.31" y1="1081.19" x2="423.51" y2="1081.19" stroke="#e02a26" stroke-width="0.6"/>
<line x1="420.31" y1="1064.95" x2="423.51" y2="1064.95" stroke="#e02a26" stroke-width="0.6"/>
<rect x="418.21" y="1066.23" width="7.40" height="14.96" fill="#fff" stroke="#e02a26" stroke-width="0.6"/>
<line x1="418.21" y1="1074.78" x2="425.61" y2="1074.78" stroke="#e02a26" stroke-width="0.6"/>
<circle cx="423.78" cy="1064.95" r="1.20" fill="#e02a26"/>
<circle cx="421.87" cy="1067.51" r="1.20" fill="#e02a26"/>
<circle cx="421.30" cy="1071.36" r="1.20" fill="#e02a26"/>
<circle cx="420.68" cy="1077.35" r="1.20" fill="#e02a26"/>
<circle cx="423.75" cy="1080.34" r="1.20" fill="#e02a26"/>
<circle cx="420.26" cy="1081.19" r="1.20" fill="#e02a26"/>
<text x="339.30" y="1100.80" font-size="7.0" text-anchor="end" fill="#231f20" transform="rotate(-47 339.30 1100.80)">SCF/KITLG</text>
<text x="351.43" y="1100.80" font-size="7.0" text-anchor="end" fill="#231f20" transform="rotate(-47 351.43 1100.80)">CCL2</text>
<text x="363.56" y="1100.80" font-size="7.0" text-anchor="end" fill="#231f20" transform="rotate(-47 363.56 1100.80)">CCL3</text>
<text x="375.69" y="1100.80" font-size="7.0" text-anchor="end" fill="#231f20" transform="rotate(-47 375.69 1100.80)">CCL4</text>
<text x="387.82" y="1100.80" font-size="7.0" text-anchor="end" fill="#231f20" transform="rotate(-47 387.82 1100.80)">CX3CL1</text>
<text x="399.95" y="1100.80" font-size="7.0" text-anchor="end" fill="#231f20" transform="rotate(-47 399.95 1100.80)">IL6</text>
<text x="412.08" y="1100.80" font-size="7.0" text-anchor="end" fill="#231f20" transform="rotate(-47 412.08 1100.80)">IL8</text>
<text x="424.21" y="1100.80" font-size="7.0" text-anchor="end" fill="#231f20" transform="rotate(-47 424.21 1100.80)">IL11</text>
<text x="290.80" y="1037.60" font-size="7.1" text-anchor="middle" font-weight="bold" stroke="none" fill="#000" transform="rotate(-90 290.80 1037.60)">200–7,000 pg/mL</text>
<text x="300.40" y="1037.00" font-size="7.0" text-anchor="middle" font-weight="bold" stroke="none" fill="#000" transform="rotate(-90 300.40 1037.00)">pg/mL</text>
</g>
</svg>
</body>
</html>
